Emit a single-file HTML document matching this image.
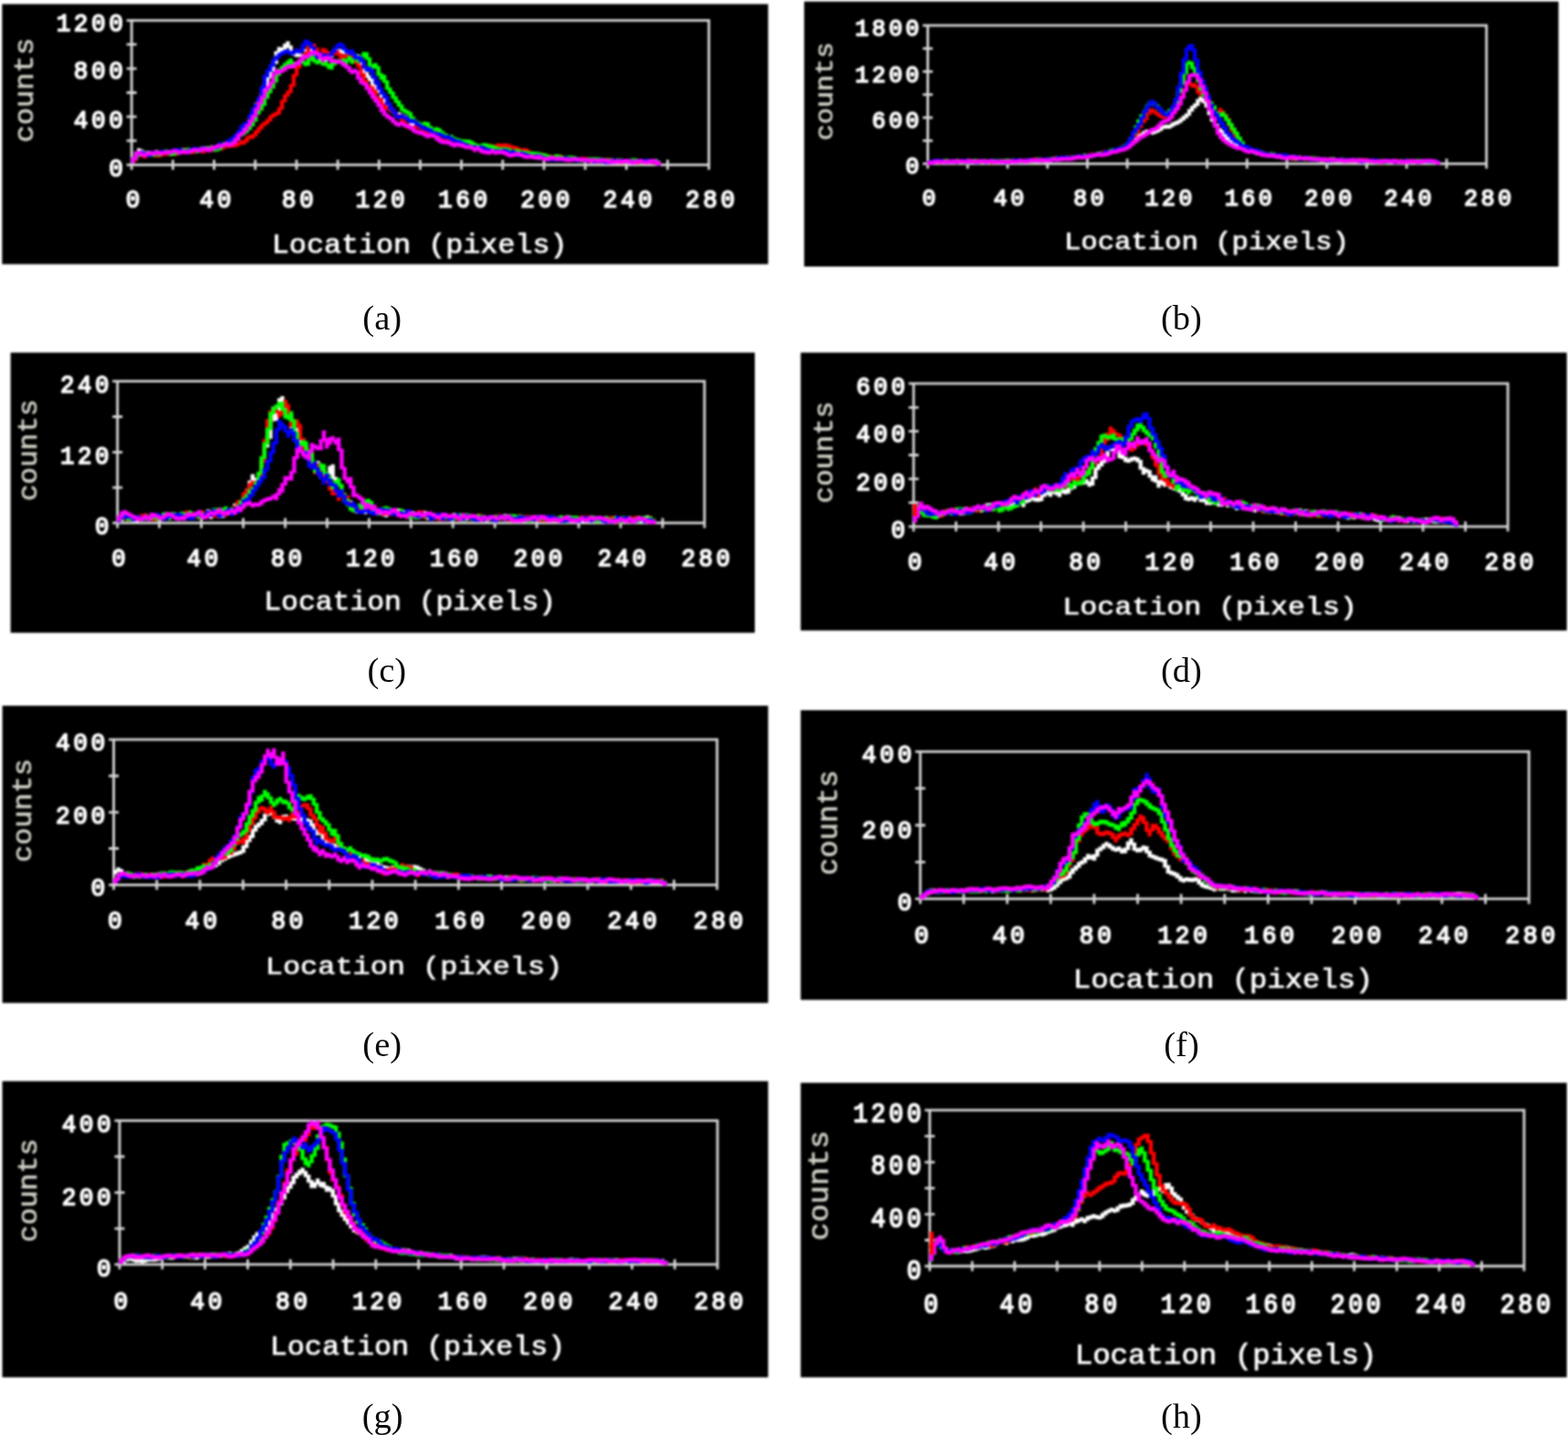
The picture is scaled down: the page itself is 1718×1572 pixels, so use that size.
<!DOCTYPE html>
<html lang="en">
<head>
<meta charset="utf-8">
<title>Intensity profiles (a)-(h)</title>
<style>
html,body{margin:0;padding:0;background:#fff;}
body{width:1718px;height:1572px;overflow:hidden;}
svg{display:block;}
.m{font-family:"Liberation Mono","DejaVu Sans Mono",monospace;fill:#fff;stroke:#fff;stroke-width:1.5;stroke-linejoin:round;}
.c{font-family:"Liberation Mono","DejaVu Sans Mono",monospace;fill:#cfcfc6;stroke:#cfcfc6;stroke-width:0.7;stroke-linejoin:round;}
.l{stroke-width:.8;}
.k{fill:none;stroke-linecap:butt;}
.ax{fill:none;stroke:#d6d6d6;stroke-width:2.8;}
.cap{font-family:"Liberation Serif","DejaVu Serif",serif;font-size:38.5px;fill:#0a0a0a;text-anchor:middle;}
</style>
</head>
<body>

<svg width="1718" height="1572" viewBox="0 0 1718 1572">
<defs><filter id="soft" x="-2%" y="-2%" width="104%" height="104%" color-interpolation-filters="sRGB"><feGaussianBlur stdDeviation="0.8"/></filter></defs>
<rect width="1718" height="1572" fill="#fff"/>
<g filter="url(#soft)">
<g id="panel-a">
<rect x="2.3" y="4.5" width="839.3" height="284.9" fill="#000"/>
<path class="ax" d="M144.2 22.3H776.7V180.6H144.2ZM144.2 175.1V186.1M189.4 175.1V186.1M234.6 175.1V186.1M279.7 175.1V186.1M324.9 175.1V186.1M370.1 175.1V186.1M415.3 175.1V186.1M460.4 175.1V186.1M505.6 175.1V186.1M550.8 175.1V186.1M596 175.1V186.1M641.2 175.1V186.1M686.3 175.1V186.1M731.5 175.1V186.1M776.7 175.1V186.1M138.7 180.6H149.7M138.7 154.2H149.7M138.7 127.8H149.7M138.7 101.5H149.7M138.7 75.1H149.7M138.7 48.7H149.7M138.7 22.3H149.7"/>
<path class="k" d="M145.8 172.7V178.2m3.2-12V175.4m3.2-13V168.8m3.2-5.1V168.6m3.2-3.2V169.9m3.2-4.4V170m3.2-4.2V170.2m3.2-5.2V169.4m3.2-5V168.9m3.2-3.4V169.9m3.2-4.9V169.5m3.2-4.4V169.6m3.2-5.1V169m3.2-4V169.5m3.2-4.2V169.8m3.2-4.7V169.6m3.2-5.5V168.6m3.2-6.1V166.9m3.2-5V166.4m3.2-3.8V167.1m3.2-4.4V167.2m3.2-5.5V166.1m3.2-3.5V167.1m3.2-5.6V166.1m3.2-6.2V164.4m3.2-3.9V165m3.2-4.6V164.9m3.2-5.4V163.9m3.2-4V164.3m3.2-5.7V163.9m3.2-7.9V161.3m3.2-3.7V162.2m3.2-6.4V160.3m3.2-5.2V159.6m3.2-5.4V158.7m3.2-7.3V157.2m3.2-10.9V154.1m3.2-13.7V149m3.2-12.2V143m3.2-8.4V140.6m3.2-12.3V137.3m3.2-16.5V131m3.2-18.2V123.4m3.2-15.7V115.5m3.2-14.2V110.4m3.2-17.8V104m3.2-20.9V95.3m3.2-19.6V85.8m3.2-18.5V78.4m3.2-22.4V70m3.2-18.6V58.7m3.2-6.9V56.2m3.2-8.5V54.6m3.2-9.4V52.5m3.2-2.7V58.4m3.2-2.7V61.1m3.2-3.1V62.4m3.2-5.8V62.4m3.2-2.7V65.5m3.2-11.8V62.5m3.2-11.9V56.4m3.2-5.4V57.5m3.2-2.7V61.1m3.2-4V63.9m3.2-2.7V68m3.2-6.7V66.6m3.2-3.7V69.3m3.2-10.2V65.5m3.2-8.1V63.1m3.2-9.2V60.1m3.2-7.4V57.2m3.2-3.7V57.9m3.2-2.9V59.4m3.2-2.7V61.8m3.2-2.7V63.8m3.2-4.2V64.1m3.2-5.6V62.9m3.2-3.1V66.1m3.2-2.7V72.6m3.2-2.7V80.2m3.2-2.7V85.3m3.2-2.7V89m3.2-2.7V95.6m3.2-2.7V99.9m3.2-2.7V101.7m3.2-2.7V108m3.2-2.6V114.7m3.2-2.7V119.2m3.2-2.7V121.9m3.2-2.6V124.6m3.2-2.7V127m3.2-4V127.4m3.2-2.8V129.1m3.2-3V130.6m3.2-3V132.8m3.2-2.6V137.2m3.2-2.7V140.2m3.2-4.7V140m3.2-4.1V140.4m3.2-3.1V142m3.2-3.1V143.4m3.2-4.2V144.5m3.2-2.7V148.6m3.2-2.9V150.2m3.2-5.6V149.3m3.2-2.7V151.3m3.2-2.9V152.8m3.2-2.9V154.4m3.2-5.7V153.7m3.2-2.6V156.1m3.2-6V154.9m3.2-2.7V156.9m3.2-4.2V157.1m3.2-2.9V158.7m3.2-2.7V160.8m3.2-2.8V162.4m3.2-5.1V161.8m3.2-4V162.2m3.2-2.8V164.1m3.2-3.5V165m3.2-5.6V163.8m3.2-3.8V164.5m3.2-3.6V165.3m3.2-5.5V164.2m3.2-3.4V165.3m3.2-4.1V165.7m3.2-4.7V165.5m3.2-3V167.3m3.2-2.8V169m3.2-3.3V170.1m3.2-5.1V169.4m3.2-5.2V168.7m3.2-3.9V169.2m3.2-2.7V170.9m3.2-4.3V171m3.2-4V171.4m3.2-4.5V171.3m3.2-3.4V172.3m3.2-3.3V173.5m3.2-3.3V174.7m3.2-4.9V174.2m3.2-5V173.6m3.2-4.3V173.8m3.2-3.9V174.3m3.2-3.9V174.9m3.2-4V175.4m3.2-4.4V175.4m3.2-3.7V176.2m3.2-4.9V175.7m3.2-4.8V175.4m3.2-3.1V176.8m3.2-5.4V175.8m3.2-3.5V176.8m3.2-4.8V176.4m3.2-3.9V177m3.2-3.9V177.6m3.2-4.5V177.5m3.2-3.5V178.5m3.2-4.3V178.6m3.2-5.4V177.7m3.2-5V177.1m3.2-3.7V177.8m3.2-4V178.3m3.2-4.7V178m3.2-4.6V177.8m3.2-3.7V178.5m3.2-3.7V179.2m3.2-4.1V179.6m3.2-4.8V179.2m3.2-4.7V179m3.2-5V178.4m3.2-4.6V178.3m3.2-4.2V178.5m3.2-3.3V179.7m3.2-5.2V179m3.2-5.1V178.3m3.2-4.4V178.4m3.2-4.1V178.8m3.2-4.9V178.4m3.2-3.8V179.3m3.2-2.7V181.2" stroke="#fff" stroke-width="4.3"/>
<path class="k" d="M145.8 173.7V179.1m3.2-10.2V176.4m3.2-9.6V171.6m3.2-4.1V172.2m3.2-2.9V173.8m3.2-6V172.3m3.2-5.5V171.3m3.2-4.6V171.1m3.2-3.1V172.4m3.2-4.2V172.6m3.2-5.5V171.5m3.2-5.6V170.4m3.2-3.8V171.1m3.2-4.4V171.2m3.2-4.8V170.8m3.2-4.8V170.4m3.2-6.2V168.7m3.2-5.6V167.5m3.2-4.9V167m3.2-4.1V167.4m3.2-3V168.8m3.2-4.8V168.4m3.2-5.7V167.1m3.2-4.1V167.5m3.2-3.8V168.2m3.2-5.7V166.9m3.2-5.3V166.1m3.2-4.1V166.5m3.2-4.9V166m3.2-6V164.5m3.2-3.9V165.1m3.2-6.1V163.6m3.2-5.8V162.2m3.2-4.7V162m3.2-5V161.4m3.2-4.4V161.5m3.2-5.9V160.3m3.2-6.3V158.5m3.2-5.2V158.6m3.2-9.1V156m3.2-8V152.5m3.2-5.8V151.9m3.2-9.2V149.4m3.2-10.3V145.4m3.2-9.8V141.7m3.2-8.4V138.2m3.2-8V135.9m3.2-9.7V132.9m3.2-8.8V128.9m3.2-6.4V127m3.2-9.5V125.4m3.2-16V120.2m3.2-16.9V112.1m3.2-12.9V106m3.2-13.8V101.9m3.2-21V94.9m3.2-22.4V83.6m3.2-16.3V75.1m3.2-13.1V70m3.2-13.5V64.7m3.2-14.3V59.2m3.2-11.5V53.1m3.2-5.3V54.8m3.2-2.7V61.1m3.2-4.6V63.2m3.2-10.7V59.2m3.2-5.4V58.8m3.2-2.6V60.7m3.2-3.3V61.9m3.2-6.1V60.4m3.2-5.3V60.6m3.2-2.7V64.4m3.2-3.6V65.5m3.2-6.6V63.5m3.2-4.3V63.7m3.2-3.1V66.6m3.2-2.7V69.7m3.2-2.7V73.7m3.2-2.6V82.9m3.2-2.7V90.5m3.2-2.7V96m3.2-2.7V99.1m3.2-4.6V100.9m3.2-2.7V108.6m3.2-2.7V112.5m3.2-5.2V115.4m3.2-2.7V120.7m3.2-5V120.1m3.2-2.8V122.4m3.2-2.6V124.9m3.2-2.7V127.7m3.2-2.6V131.2m3.2-2.7V134.5m3.2-2.7V137.9m3.2-2.7V140.8m3.2-3V142.2m3.2-4.5V142.2m3.2-5.9V140.7m3.2-4.3V141.7m3.2-2.6V145.5m3.2-3.1V146.8m3.2-4.7V147.4m3.2-2.7V150.6m3.2-4.3V151.1m3.2-6.8V149.1m3.2-2.7V151.9m3.2-2.7V154m3.2-2.8V155.6m3.2-3.9V156.1m3.2-3.1V157.4m3.2-3.6V158.3m3.2-3.7V159.1m3.2-3.3V160.2m3.2-5.4V159.2m3.2-3.9V159.8m3.2-2.9V161.3m3.2-4.3V161.5m3.2-3V163m3.2-4.4V163.1m3.2-4.9V162.7m3.2-4.7V162.5m3.2-4.2V162.8m3.2-5.3V162m3.2-3.3V163.1m3.2-4.9V162.6m3.2-5.7V161.4m3.2-3.7V162.2m3.2-5.2V161.4m3.2-4.1V161.7m3.2-3.4V162.8m3.2-3.2V164m3.2-3.9V164.6m3.2-3.3V165.8m3.2-2.9V167.4m3.2-5.4V166.4m3.2-3.5V168m3.2-2.7V170.1m3.2-3.4V171.1m3.2-4.2V171.4m3.2-3.8V172m3.2-4.7V171.7m3.2-3.7V172.4m3.2-3.4V173.5m3.2-3.7V174.3m3.2-4V174.8m3.2-5.2V174m3.2-4.8V173.6m3.2-3.4V174.6m3.2-3.4V175.6m3.2-4V176.1m3.2-4.2V176.4m3.2-4.1V176.7m3.2-4.6V176.6m3.2-4.3V176.8m3.2-5.3V175.9m3.2-3.8V176.6m3.2-4.4V176.6m3.2-3.2V177.9m3.2-3.6V178.8m3.2-5.2V178.1m3.2-5V177.6m3.2-4V178.1m3.2-4.3V178.3m3.2-4.7V178m3.2-4.2V178.3m3.2-4.9V177.9m3.2-4.3V178.1m3.2-3.2V179.4m3.2-4.5V179.3m3.2-5.4V178.3m3.2-4.4V178.4m3.2-3.8V179.1m3.2-3.7V179.8m3.2-4.2V180m3.2-5.2V179.3m3.2-5.3V178.5m3.2-3.2V179.8m3.2-5.5V178.8m3.2-3.4V179.9m3.2-3.8V180.6m3.2-3.5V181.6" stroke="#f00" stroke-width="4.3"/>
<path class="k" d="M145.8 172.6V178.8m3.2-10.1V175.3m3.2-8V171.7m3.2-5.3V170.9m3.2-4.4V171m3.2-4.3V171.2m3.2-3.8V171.9m3.2-4.5V171.8m3.2-5.7V170.6m3.2-3.7V171.3m3.2-6.6V169.6m3.2-5.9V168.1m3.2-3V169.6m3.2-3.2V170.9m3.2-4.8V170.5m3.2-5.4V169.6m3.2-6.2V167.9m3.2-5.2V167.2m3.2-3.9V167.7m3.2-5.9V166.3m3.2-3.1V167.8m3.2-6.5V165.9m3.2-2.7V167.8m3.2-5.8V166.5m3.2-5.8V165.1m3.2-4.6V164.9m3.2-3.7V165.6m3.2-5.2V164.9m3.2-3.1V166.3m3.2-5V165.7m3.2-7.6V164.1m3.2-8.3V160.8m3.2-5.3V159.9m3.2-5.2V159.2m3.2-6.9V157.6m3.2-8.5V155m3.2-8.2V151.8m3.2-6.7V149.6m3.2-6.5V147.9m3.2-8.1V145.8m3.2-9.8V142.5m3.2-12V138.6m3.2-15.7V133.2m3.2-14.7V125.5m3.2-12.1V121.2m3.2-15.7V116.1m3.2-16.5V108.2m3.2-13.9V102.3m3.2-14.4V97m3.2-16.6V90.6m3.2-15.3V83.1m3.2-11.1V78m3.2-8.9V74.7m3.2-8.4V71.8m3.2-7.8V70.4m3.2-2.7V74.1m3.2-7.1V71.9m3.2-5.7V70.8m3.2-6.5V69.7m3.2-2.7V72.4m3.2-8.3V72.1m3.2-13.1V66.8m3.2-5.4V68.5m3.2-2.7V70.4m3.2-5V70m3.2-2.6V72m3.2-4.9V72.5m3.2-2.7V75.6m3.2-6.5V76.2m3.2-11.4V71.8m3.2-6.9V69.4m3.2-4.2V69.7m3.2-5.7V68.7m3.2-4.1V70.7m3.2-9.5V67.3m3.2-3.7V69.9m3.2-9.8V66.3m3.2-3.3V68.7m3.2-8.1V67.8m3.2-10.9V63.3m3.2-6.1V65.4m3.2-2.7V73m3.2-2.7V75.3m3.2-6.3V75m3.2-2.7V83m3.2-2.7V87.6m3.2-5.5V90.7m3.2-2.7V98.5m3.2-2.7V102.9m3.2-2.7V108.2m3.2-2.7V112.8m3.2-2.7V117.1m3.2-2.7V121.7m3.2-2.7V123.8m3.2-3.1V125.5m3.2-2.7V130.4m3.2-2.7V134.3m3.2-2.7V136.3m3.2-2.8V138m3.2-3.7V138.7m3.2-5.4V137.7m3.2-3.8V140.6m3.2-2.7V144.3m3.2-4.1V144.6m3.2-5.4V143.7m3.2-2.9V146.2m3.2-2.7V148.6m3.2-2.7V150.9m3.2-3.1V152.2m3.2-4.5V152.8m3.2-2.7V155.3m3.2-4V155.8m3.2-3.6V156.7m3.2-4V157.2m3.2-4.4V157.3m3.2-4.2V157.6m3.2-3.3V158.9m3.2-2.7V160.9m3.2-3.1V162.2m3.2-4.2V162.4m3.2-5.6V161.2m3.2-4.2V161.5m3.2-3.3V162.7m3.2-4.3V162.8m3.2-2.9V164.4m3.2-3.4V165.5m3.2-3.7V166.3m3.2-5V165.8m3.2-4.3V166m3.2-3.5V167m3.2-2.9V168.6m3.2-5.4V167.7m3.2-3.9V168.3m3.2-3.5V169.3m3.2-4.2V169.6m3.2-3.8V170.3m3.2-4.4V170.4m3.2-4.1V170.7m3.2-4.4V170.8m3.2-4V171.3m3.2-3.5V172.3m3.2-4.2V172.6m3.2-3V174.1m3.2-3.9V174.6m3.2-4.4V174.7m3.2-5.6V173.6m3.2-3.8V174.3m3.2-3.7V175.1m3.2-3.8V175.8m3.2-5V175.3m3.2-4.7V175.1m3.2-4.1V175.4m3.2-3.5V176.4m3.2-3.2V177.6m3.2-3.9V178.1m3.2-5.1V177.4m3.2-4.9V176.9m3.2-4.6V176.8m3.2-4.5V176.7m3.2-4.1V177.1m3.2-4.1V177.4m3.2-4.3V177.6m3.2-4.2V177.8m3.2-3.5V178.8m3.2-4.9V178.4m3.2-4.1V178.8m3.2-5.2V178.1m3.2-4.6V177.9m3.2-3.9V178.4m3.2-3.9V178.9m3.2-4.5V178.9m3.2-5.2V178.1m3.2-4.6V178m3.2-3.9V178.5m3.2-3.4V179.5m3.2-3.8V180.1m3.2-5.3V179.3m3.2-5.4V178.4m3.2-4.2V178.6m3.2-3.2V179.9m3.2-2.9V181.4" stroke="#0f0" stroke-width="4.3"/>
<path class="k" d="M145.8 171.9V178.5m3.2-11.3V174.6m3.2-9V170.1m3.2-5.2V169.3m3.2-3V170.8m3.2-3.1V172.2m3.2-5.5V171.5m3.2-6.8V169.4m3.2-4.2V169.7m3.2-4.4V169.7m3.2-5.7V168.5m3.2-4.1V168.8m3.2-3.7V169.6m3.2-5.5V168.5m3.2-5.9V167.1m3.2-5.2V166.3m3.2-3.8V167m3.2-3.6V167.9m3.2-4V168.4m3.2-5.2V167.7m3.2-5.9V166.2m3.2-5.5V165.2m3.2-3.9V165.8m3.2-3.8V166.6m3.2-6.4V164.7m3.2-3.1V166.1m3.2-4.2V166.4m3.2-6V164.9m3.2-5.2V164.2m3.2-6.2V163.4m3.2-8V160.7m3.2-3.9V161.3m3.2-7.6V159.5m3.2-7.8V156.3m3.2-6.5V154.4m3.2-8V152.5m3.2-10.1V149.1m3.2-11.6V145.1m3.2-10.5V140.2m3.2-7.7V137.9m3.2-13.4V135.2m3.2-17.4V127.2m3.2-14V120.5m3.2-14.6V115.9m3.2-21.4V108.6m3.2-26.6V97.2m3.2-21.2V84.7m3.2-14.2V78.7m3.2-14.8V73.2m3.2-12.4V66.6m3.2-8.7V63.5m3.2-7.3V60.6m3.2-5.9V59.2m3.2-5.1V58.7m3.2-2.7V60.6m3.2-5.7V60.1m3.2-7.2V57.6m3.2-3.3V58.7m3.2-10.6V57.2m3.2-13.9V50.8m3.2-6.6V49.2m3.2-2.6V53.6m3.2-2.7V60.4m3.2-2.7V64.2m3.2-7.3V61.9m3.2-3.2V63.1m3.2-4.7V62.8m3.2-3.4V63.9m3.2-8.4V62.1m3.2-10.5V58.1m3.2-10V54.3m3.2-8V50.9m3.2-2.7V55.2m3.2-2.7V58.6m3.2-3.3V59.7m3.2-5.6V61m3.2-2.7V65.1m3.2-4.2V65.4m3.2-3.7V68.4m3.2-2.7V75.6m3.2-2.7V78.7m3.2-6V78.7m3.2-2.6V85.8m3.2-2.6V91.8m3.2-2.7V98.5m3.2-2.7V103.7m3.2-2.7V107.9m3.2-2.7V115.3m3.2-2.7V120.5m3.2-2.7V124.4m3.2-2.7V128.9m3.2-2.7V130.8m3.2-5.7V129.5m3.2-3.1V130.8m3.2-2.8V133m3.2-2.7V135m3.2-4.6V135m3.2-2.7V137.4m3.2-2.7V139.5m3.2-2.7V141.8m3.2-3V143.3m3.2-3.5V144.3m3.2-3.2V146.1m3.2-2.7V148.7m3.2-3.6V149.5m3.2-4.6V149.3m3.2-2.8V151.4m3.2-3.3V152.6m3.2-4.6V152.5m3.2-2.7V154.4m3.2-2.8V156.1m3.2-3V157.6m3.2-4V158m3.2-2.8V159.8m3.2-3.1V161.2m3.2-3.3V162.4m3.2-3.2V163.7m3.2-4.8V163.3m3.2-2.8V165m3.2-5.7V163.7m3.2-3.8V164.6m3.2-2.8V166.2m3.2-3.6V167.1m3.2-3.6V167.9m3.2-4.2V168.2m3.2-4.7V167.9m3.2-4V168.3m3.2-5.3V167.5m3.2-3.9V168.3m3.2-2.7V170.1m3.2-5.9V168.7m3.2-3V170.7m3.2-3.2V172m3.2-5.9V170.6m3.2-3.5V171.6m3.2-3.6V172.4m3.2-3.7V173.2m3.2-3.5V174.2m3.2-5.1V173.5m3.2-4.8V173.2m3.2-3.1V174.5m3.2-3.2V175.7m3.2-3.6V176.5m3.2-4V177m3.2-4.8V176.7m3.2-5V176.1m3.2-3.5V177m3.2-4.5V176.9m3.2-5.7V175.7m3.2-3.4V176.8m3.2-4.7V176.5m3.2-4V176.9m3.2-3.2V178.1m3.2-5.5V177m3.2-4.6V176.9m3.2-3.4V178m3.2-4.5V177.9m3.2-4.5V177.8m3.2-3.3V179m3.2-4.9V178.6m3.2-5V178.1m3.2-3.4V179.1m3.2-3.9V179.7m3.2-4.5V179.7m3.2-5.2V178.9m3.2-5.5V177.8m3.2-3.7V178.6m3.2-4.5V178.6m3.2-4.7V178.3m3.2-4.2V178.5m3.2-4V179m3.2-3.9V179.5m3.2-4.4V179.5m3.2-5.1V178.9m3.2-4.3V179.1m3.2-5V178.5m3.2-4.3V178.7m3.2-4.5V178.7m3.2-4.4V178.8m3.2-3.2V180.2m3.2-3.1V181.6" stroke="#00f" stroke-width="4.3"/>
<path class="k" d="M145.8 172V178.7m3.2-12.2V174.7m3.2-9.8V169.5m3.2-2.7V171.5m3.2-3.8V172.1m3.2-5.6V171m3.2-5.4V170m3.2-4.1V170.4m3.2-5.3V169.5m3.2-4V170m3.2-4.3V170.1m3.2-5.2V169.3m3.2-4.6V169.2m3.2-4.6V169.1m3.2-5.9V167.6m3.2-3.9V168.2m3.2-3.2V169.4m3.2-5.5V168.4m3.2-3.9V168.9m3.2-4.7V168.7m3.2-5.6V167.5m3.2-5.6V166.4m3.2-4.1V166.7m3.2-4.3V166.8m3.2-5.6V165.7m3.2-4.7V165.5m3.2-3.3V166.8m3.2-6.5V164.9m3.2-5.5V163.9m3.2-5.8V162.5m3.2-4.8V162.1m3.2-5.2V161.3m3.2-6V159.8m3.2-3.2V161.1m3.2-5.8V159.8m3.2-8.8V158.1m3.2-11.5V153.7m3.2-9.4V149.3m3.2-8.5V147m3.2-11V143.5m3.2-12.7V138.7m3.2-12.9V133.5m3.2-15.2V128.5m3.2-17.2V121m3.2-15.7V114m3.2-16V108m3.2-13.9V100.7m3.2-11.8V96.8m3.2-17.1V91.6m3.2-16.1V82.4m3.2-5.8V81m3.2-5.5V80m3.2-7V78.3m3.2-7.4V75.7m3.2-5.3V74.9m3.2-5.2V75.1m3.2-8V72.4m3.2-7.8V71.3m3.2-10.6V67.3m3.2-7.3V64.4m3.2-5.9V63.7m3.2-8V61.1m3.2-5.9V59.6m3.2-3V61.1m3.2-2.8V64.9m3.2-2.7V68.3m3.2-7.3V66m3.2-4.8V66.8m3.2-2.7V69.3m3.2-4.6V69.1m3.2-3.6V70m3.2-4.3V70.2m3.2-2.7V73m3.2-2.7V75m3.2-2.7V78.7m3.2-2.6V81.3m3.2-6.1V80.2m3.2-2.7V87.3m3.2-2.7V92.1m3.2-2.7V93.8m3.2-2.7V98.6m3.2-2.7V103.5m3.2-2.7V108.2m3.2-2.7V112.4m3.2-2.6V117.2m3.2-2.7V122.9m3.2-2.7V127.1m3.2-2.7V129.8m3.2-2.7V131.8m3.2-2.7V135.1m3.2-2.7V137.8m3.2-3.6V138.7m3.2-5.6V137.6m3.2-2.7V139.4m3.2-3.4V140.5m3.2-3.2V142m3.2-2.7V144.9m3.2-2.8V146.6m3.2-3.5V147.6m3.2-3.8V148.3m3.2-3.1V149.9m3.2-3V151.4m3.2-5.9V149.9m3.2-3.4V151.2m3.2-2.7V154.3m3.2-2.7V156.6m3.2-3.3V157.7m3.2-4V158.1m3.2-4.1V158.4m3.2-3V160.2m3.2-3.1V161.6m3.2-5.7V160.4m3.2-3.9V161m3.2-3.4V162.1m3.2-3.2V163.3m3.2-4.5V163.3m3.2-3.9V164.3m3.2-2.7V166.5m3.2-6.4V165m3.2-2.7V167.4m3.2-3.4V168.4m3.2-3.9V169m3.2-4V169.4m3.2-5.8V168.1m3.2-3.1V169.5m3.2-5.1V168.9m3.2-4.4V169m3.2-3.9V169.5m3.2-3.2V170.9m3.2-2.9V172.4m3.2-4.9V172m3.2-4.9V171.6m3.2-5V171.1m3.2-3.4V172.2m3.2-3V173.6m3.2-3.8V174.2m3.2-4.9V173.8m3.2-4V174.2m3.2-3.7V175m3.2-5.5V174m3.2-3.1V175.3m3.2-3.3V176.5m3.2-4.5V176.4m3.2-5.4V175.5m3.2-4.4V175.5m3.2-3.5V176.5m3.2-4.9V176.1m3.2-4.2V176.3m3.2-3.7V177.1m3.2-4.1V177.4m3.2-4.7V177.2m3.2-5.1V176.5m3.2-4.1V176.9m3.2-4.1V177.2m3.2-4.3V177.4m3.2-4.5V177.4m3.2-3.8V178.1m3.2-4V178.6m3.2-5.4V177.6m3.2-3.5V178.5m3.2-4.5V178.5m3.2-5.2V177.8m3.2-3.8V178.5m3.2-3.9V179m3.2-3.6V179.8m3.2-4.9V179.4m3.2-5V178.9m3.2-4V179.3m3.2-4.7V179.1m3.2-5.1V178.4m3.2-3.6V179.2m3.2-3.4V180.2m3.2-4.9V179.8m3.2-5.3V179m3.2-4.6V178.9m3.2-3.5V179.8m3.2-4.1V180.1m3.2-5.3V179.2m3.2-5.1V178.6m3.2-3.2V180m3.2-3V181.5" stroke="#f0f" stroke-width="4.3"/>
<text class="m" transform="translate(138.5 34.1) scale(1 1.074)" font-size="26.2" letter-spacing="3.5" text-anchor="end">1200</text>
<text class="m" transform="translate(138.5 85.8) scale(1 1.074)" font-size="26.2" letter-spacing="3.5" text-anchor="end">800</text>
<text class="m" transform="translate(138.5 139.5) scale(1 1.074)" font-size="26.2" letter-spacing="3.5" text-anchor="end">400</text>
<text class="m" transform="translate(138.5 192.9) scale(1 1.074)" font-size="26.2" letter-spacing="3.5" text-anchor="end">0</text>
<text class="m" transform="translate(147.3 227.4) scale(1 1.074)" font-size="26.2" letter-spacing="3.5" text-anchor="middle">0</text>
<text class="m" transform="translate(237.7 227.4) scale(1 1.074)" font-size="26.2" letter-spacing="3.5" text-anchor="middle">40</text>
<text class="m" transform="translate(328 227.4) scale(1 1.074)" font-size="26.2" letter-spacing="3.5" text-anchor="middle">80</text>
<text class="m" transform="translate(418.4 227.4) scale(1 1.074)" font-size="26.2" letter-spacing="3.5" text-anchor="middle">120</text>
<text class="m" transform="translate(508.8 227.4) scale(1 1.074)" font-size="26.2" letter-spacing="3.5" text-anchor="middle">160</text>
<text class="m" transform="translate(599.1 227.4) scale(1 1.074)" font-size="26.2" letter-spacing="3.5" text-anchor="middle">200</text>
<text class="m" transform="translate(689.5 227.4) scale(1 1.074)" font-size="26.2" letter-spacing="3.5" text-anchor="middle">240</text>
<text class="m" transform="translate(779.8 227.4) scale(1 1.074)" font-size="26.2" letter-spacing="3.5" text-anchor="middle">280</text>
<text class="m l" transform="translate(297.8 276.5) scale(1 0.907)" font-size="32" text-anchor="start" textLength="323.8" lengthAdjust="spacingAndGlyphs">Location (pixels)</text>
<text class="c" transform="translate(35.9 98.8) rotate(-90) scale(1 .95)" font-size="31.9" text-anchor="middle" textLength="114.9" lengthAdjust="spacingAndGlyphs">counts</text>
</g>
<g id="panel-b">
<rect x="881.1" y="1.7" width="826.5" height="290.3" fill="#000"/>
<path class="ax" d="M1016.5 27.9H1628.7V179.3H1016.5ZM1016.5 173.8V184.8M1060.2 173.8V184.8M1104 173.8V184.8M1147.7 173.8V184.8M1191.4 173.8V184.8M1235.1 173.8V184.8M1278.9 173.8V184.8M1322.6 173.8V184.8M1366.3 173.8V184.8M1410.1 173.8V184.8M1453.8 173.8V184.8M1497.5 173.8V184.8M1541.2 173.8V184.8M1585 173.8V184.8M1628.7 173.8V184.8M1011 179.3H1022M1011 154.1H1022M1011 128.8H1022M1011 103.6H1022M1011 78.4H1022M1011 53.1H1022M1011 27.9H1022"/>
<path class="k" d="M1018 176.2V180.6m3.1-5.1V179.9m3.1-5.2V179.1m3.1-5.1V178.4m3.1-4.4V178.4m3.1-3.9V178.8m3.1-4.6V178.6m3.1-4.4V178.5m3.1-4V178.9m3.1-3.8V179.4m3.1-4.8V179m3.1-4V179.3m3.1-4.4V179.3m3.1-5.2V178.5m3.1-4.4V178.5m3.1-4V178.9m3.1-4.2V179m3.1-4.5V178.8m3.1-4.2V178.9m3.1-4V179.3m3.1-4.5V179.1m3.1-3.9V179.6m3.1-5V179m3.1-5V178.4m3.1-4.3V178.5m3.1-3.6V179.2m3.1-5V178.5m3.1-4.6V178.3m3.1-4.3V178.3m3.1-4.4V178.2m3.1-4.4V178.2m3.1-3.8V178.7m3.1-5V178.1m3.1-4.2V178.2m3.1-4.2V178.4m3.1-4.9V177.9m3.1-4.3V177.9m3-4.6V177.7m3.1-5V177.1m3.1-4.4V177.1m3.1-4V177.4m3.1-3.7V178m3.1-4.6V177.8m3.1-5.2V177m3.1-5.1V176.3m3.1-4.9V175.7m3.1-4.8V175.2m3.1-4V175.5m3.1-4.2V175.7m3.1-5.1V174.9m3.1-5V174.3m3.1-3.9V174.7m3.1-4.6V174.4m3.1-4.5V174.2m3.1-4.6V174m3.1-4.9V173.4m3.1-4.2V173.5m3.1-4.8V173m3.1-5V172.3m3.1-4.9V171.7m3.1-5.7V170.3m3.1-4.1V170.5m3.1-4.8V170m3.1-5.1V169.3m3.1-4.4V169.2m3.1-5.6V168m3.1-5.2V167.2m3.1-4.7V166.8m3.1-5.4V165.8m3.1-6V164.1m3.1-6.4V162.4m3.1-7V160.3m3.1-6.7V158m3.1-7.5V156.3m3-8.8V153.1m3.1-7.3V150.1m3.1-6.5V148.4m3.1-6.3V146.4m3.1-3.7V147m3.1-3.8V147.5m3.1-5.4V146.4m3.1-5.6V145.3m3.1-7V143.4m3.1-6.4V141.3m3.1-4.7V141m3.1-4.5V140.9m3.1-6.4V139.2m3.1-6.1V137.4m3.1-5.6V136.2m3.1-6.7V134.6m3.1-7.8V132.1m3.1-7.9V129.4m3.1-9.8V126.8m3.1-10.9V122.2m3.1-8.9V118.5m3.1-9.9V115.9m3.1-10V111.2m3.1-3.7V113.1m3.1-2.6V117.7m3.1-2.6V126m3.1-2.6V133.3m3.1-2.6V138.3m3.1-2.6V143.2m3.1-2.6V145.6m3.1-2.6V149.2m3.1-2.7V152.9m3.1-2.6V155.3m3.1-2.6V157.7m3.1-2.6V159.5m3.1-2.7V161.2m3.1-3V162.6m3-3V164.2m3.1-2.6V166m3.1-3.2V167.2m3.1-4V167.5m3.1-3.4V168.5m3.1-3.2V169.7m3.1-4.1V169.9m3.1-2.7V171.5m3.1-4.2V171.6m3.1-3.7V172.2m3.1-4.3V172.3m3.1-3.7V172.9m3.1-3.3V173.9m3.1-4.9V173.4m3.1-3.2V174.6m3.1-5.1V173.9m3.1-4.2V174.1m3.1-3.3V175.2m3.1-3.6V176m3.1-4.3V176m3.1-4.4V175.9m3.1-4.4V175.8m3.1-4.8V175.4m3.1-4.1V175.6m3.1-4.2V175.8m3.1-3.5V176.7m3.1-4.2V176.9m3.1-3.9V177.3m3.1-3.9V177.8m3.1-4.2V178m3.1-4.5V177.8m3.1-4.7V177.4m3.1-4.9V176.9m3.1-3.8V177.5m3.1-3.8V178.1m3.1-5.3V177.2m3.1-3.9V177.7m3-3.8V178.3m3.1-4.9V177.8m3.1-4.5V177.6m3.1-4.2V177.7m3.1-4.2V177.9m3.1-4.1V178.2m3.1-3.9V178.6m3.1-4.1V178.9m3.1-4.4V178.8m3.1-4.6V178.6m3.1-4.6V178.3m3.1-3.8V178.8m3.1-3.9V179.3m3.1-4.7V179m3.1-3.9V179.5m3.1-5.1V178.8m3.1-4.8V178.4m3.1-3.9V178.8m3.1-3.8V179.3m3.1-4.4V179.3m3.1-4V179.6m3.1-4.7V179.3m3.1-4.8V178.8m3.1-3.9V179.3m3.1-4.7V178.9m3.1-4.6V178.7m3.1-4.1V179m3.1-4.6V178.7m3.1-3.7V179.4m3.1-5.1V178.6m3.1-3.6V179.4m3.1-4.5V179.3m3.1-3.2V180.4" stroke="#fff" stroke-width="4.2"/>
<path class="k" d="M1018 176.2V180.6m3.1-5.4V179.6m3.1-5.4V178.5m3.1-3.9V179m3.1-4V179.4m3.1-5.2V178.6m3.1-4.4V178.6m3.1-4.6V178.3m3.1-4.2V178.5m3.1-3.6V179.2m3.1-4.1V179.4m3.1-4.6V179.1m3.1-4.4V179m3.1-4.7V178.6m3.1-4.4V178.5m3.1-4.1V178.8m3.1-4.2V179m3.1-4.8V178.5m3.1-3.7V179.2m3.1-5.1V178.4m3.1-3.7V179m3.1-4.1V179.2m3.1-4.2V179.4m3.1-4.6V179.2m3.1-5V178.5m3.1-4.6V178.2m3.1-4V178.5m3.1-4.3V178.6m3.1-4.6V178.4m3.1-4.2V178.6m3.1-4.4V178.6m3.1-4.7V178.3m3.1-3.9V178.7m3.1-4.5V178.5m3.1-4.9V178m3.1-3.8V178.6m3.1-4.8V178.1m3-4.9V177.5m3.1-4.7V177.2m3.1-3.8V177.7m3.1-3.9V178.2m3.1-5V177.6m3.1-5.1V176.9m3.1-4.8V176.4m3.1-4.6V176.1m3.1-4.3V176.2m3.1-4.4V176.1m3.1-5.3V175.2m3.1-4V175.5m3.1-4.6V175.3m3.1-5.2V174.5m3.1-4.5V174.4m3.1-4.2V174.6m3.1-4.8V174.2m3.1-4.8V173.7m3.1-5.1V172.9m3.1-5V172.2m3.1-4.9V171.6m3.1-4.4V171.5m3.1-4.6V171.2m3.1-5V170.6m3.1-5.2V169.8m3.1-5.3V168.8m3.1-4.2V168.9m3.1-5V168.2m3.1-4.2V168.3m3.1-5V167.7m3.1-5.8V166.4m3.1-6.6V164.5m3.1-5.9V163m3.1-6.2V161.7m3.1-9.4V159.4m3.1-11.2V154.9m3.1-10.6V150.9m3-13.3V146.9m3.1-14.4V140.2m3.1-11V135.1m3.1-12.3V131.8m3.1-12.9V125.4m3.1-6.7V123.4m3.1-2.6V125.6m3.1-2.6V127.7m3.1-2.6V129.6m3.1-4V129.9m3.1-5.1V129.2m3.1-5.7V128m3.1-7V126.1m3.1-9.4V123.6m3.1-12.9V119.3m3.1-15.1V113.3m3.1-16.4V106.9m3.1-15.9V99.5m3.1-11.3V93.6m3.1-2.9V95.8m3.1-4.8V96.4m3.1-2.6V102.4m3.1-2.6V105.5m3.1-8.7V102.4m3.1-5.2V106.4m3.1-2.6V115.3m3.1-2.6V120.4m3.1-2.6V125m3.1-3.6V127.1m3.1-8.8V124m3.1-2.9V127.3m3.1-2.6V131.9m3.1-2.6V138.7m3.1-2.6V144.6m3.1-2.6V150.4m3.1-2.6V155.7m3.1-2.6V158.8m3-2.6V162m3.1-2.6V165.3m3.1-3.1V166.6m3.1-4.5V166.4m3.1-2.8V167.9m3.1-3.5V168.8m3.1-4.6V168.5m3.1-3.1V169.7m3.1-3.3V170.8m3.1-3.8V171.3m3.1-3.8V171.9m3.1-3.6V172.7m3.1-3.7V173.3m3.1-4.2V173.4m3.1-4.9V172.9m3.1-4.2V173m3.1-3.3V174m3.1-3.1V175.3m3.1-4V175.6m3.1-4.8V175.1m3.1-3.6V175.8m3.1-4.1V176m3.1-4.6V175.7m3.1-3.6V176.5m3.1-4.4V176.5m3.1-5V175.8m3.1-3.6V176.6m3.1-4.7V176.2m3.1-3.3V177.3m3.1-3.7V177.9m3.1-4.5V177.7m3.1-4V178m3.1-4.6V177.7m3.1-4V178.1m3.1-4.8V177.6m3.1-4.4V177.5m3.1-4.1V177.7m3-4.1V178m3.1-4V178.3m3.1-4.4V178.3m3.1-4.8V177.8m3.1-3.9V178.3m3.1-5V177.7m3.1-4.2V177.9m3.1-4.3V178m3.1-3.9V178.4m3.1-4.1V178.6m3.1-4.2V178.7m3.1-4V179.1m3.1-4V179.5m3.1-4.4V179.5m3.1-4.9V178.9m3.1-4.6V178.7m3.1-3.7V179.3m3.1-4V179.7m3.1-4.6V179.5m3.1-5V178.9m3.1-3.8V179.4m3.1-5.1V178.6m3.1-4.4V178.5m3.1-3.9V179m3.1-4.1V179.3m3.1-5V178.7m3.1-3.8V179.3m3.1-4.8V178.9m3.1-4.8V178.4m3.1-3.6V179.1m3.1-5V178.4m3.1-3.7V179.1m3.1-3.1V180.4" stroke="#f00" stroke-width="4.2"/>
<path class="k" d="M1018 176.4V180.7m3.1-5.1V179.9m3.1-5.4V178.9m3.1-4.6V178.7m3.1-4.3V178.7m3.1-4.7V178.4m3.1-4.3V178.5m3.1-3.6V179.2m3.1-4.5V179.1m3.1-4V179.5m3.1-4.6V179.3m3.1-4.6V179.1m3.1-4V179.5m3.1-4.3V179.6m3.1-4.8V179.2m3.1-4.9V178.7m3.1-4.6V178.4m3.1-3.7V179.1m3.1-4V179.4m3.1-4.6V179.1m3.1-4.5V178.9m3.1-4V179.2m3.1-4.8V178.8m3.1-4.5V178.6m3.1-4.3V178.7m3.1-4.5V178.6m3.1-4.2V178.7m3.1-4.7V178.3m3.1-4.2V178.5m3.1-4V178.8m3.1-4.7V178.5m3.1-4.3V178.5m3.1-4.1V178.8m3.1-4.3V178.8m3.1-4.5V178.7m3.1-4.6V178.4m3.1-4.2V178.5m3-4.6V178.2m3.1-4.7V177.8m3.1-4.3V177.9m3.1-4.4V177.9m3.1-4.5V177.8m3.1-5.2V176.9m3.1-4.9V176.4m3.1-4.4V176.4m3.1-3.9V176.9m3.1-5.1V176.1m3.1-4.2V176.2m3.1-4.5V176.1m3.1-4.5V176m3.1-5V175.4m3.1-5.3V174.5m3.1-4.2V174.7m3.1-5V174.1m3.1-5.2V173.2m3.1-4.9V172.6m3.1-3.4V173.5m3.1-4.3V173.5m3.1-5.2V172.7m3.1-5.7V171.4m3.1-5.3V170.5m3.1-4.2V170.6m3.1-4.3V170.6m3.1-5.4V169.5m3.1-5.9V167.9m3.1-5.3V166.9m3.1-4.8V166.5m3.1-4.6V166.3m3.1-6.3V164.9m3.1-6.4V162.8m3.1-7.1V161.2m3.1-11.1V158.3m3.1-14V152.7m3.1-15.3V146.9m3-16.1V140m3.1-14.8V133.4m3.1-13V127.8m3.1-13.4V123m3.1-12.3V117m3.1-6.6V114.7m3.1-3.2V117.1m3.1-2.6V120.4m3.1-2.6V123.5m3.1-2.6V126.8m3.1-4.4V127.5m3.1-8.1V125m3.1-6.8V122.6m3.1-10.2V121.6m3.1-22.2V115m3.1-24.9V102m3.1-23.1V92.7m3.1-24.2V81.5m3.1-15V71.1m3.1-3.5V75.8m3.1-2.6V82.4m3.1-2.6V89.9m3.1-2.6V99.2m3.1-2.6V105.5m3.1-2.6V110.2m3.1-2.6V114m3.1-2.6V118.2m3.1-2.6V124.7m3.1-2.6V128.5m3.1-4.7V128.1m3.1-5.6V128.1m3.1-2.6V132.5m3.1-2.6V137.3m3.1-2.6V142.3m3.1-2.6V146.8m3.1-2.6V152.3m3.1-2.6V157.4m3-2.6V162.1m3.1-2.6V164.8m3.1-2.9V166.2m3.1-3.4V167.2m3.1-3.6V167.9m3.1-3.9V168.4m3.1-4.2V168.6m3.1-3.2V169.7m3.1-3V171.1m3.1-3.8V171.7m3.1-5.1V170.9m3.1-3.7V171.6m3.1-3.1V172.8m3.1-3.4V173.7m3.1-4V174.1m3.1-5V173.4m3.1-3.5V174.2m3.1-4.3V174.2m3.1-4.4V174.2m3.1-4.1V174.4m3.1-3.9V174.8m3.1-3.8V175.3m3.1-3.4V176.2m3.1-5V175.6m3.1-3.4V176.6m3.1-5.1V175.9m3.1-4.3V176m3.1-4.1V176.3m3.1-4.4V176.3m3.1-3.7V176.9m3.1-4V177.2m3.1-4.9V176.7m3.1-4V177.1m3.1-3.7V177.8m3.1-4.4V177.8m3.1-4.3V177.9m3.1-3.9V178.4m3-4.9V177.8m3.1-4.1V178.1m3.1-4.7V177.7m3.1-4.2V177.9m3.1-3.8V178.5m3.1-4.6V178.3m3.1-4.6V178m3.1-4V178.4m3.1-3.8V179m3.1-4.2V179.1m3.1-4.1V179.4m3.1-4.5V179.3m3.1-4.7V178.9m3.1-4.6V178.7m3.1-3.6V179.5m3.1-4.8V179m3.1-4.7V178.7m3.1-4.4V178.6m3.1-3.6V179.3m3.1-4.9V178.8m3.1-3.9V179.2m3.1-4.4V179.2m3.1-4.4V179.1m3.1-4.7V178.8m3.1-4V179.1m3.1-4.8V178.6m3.1-3.9V179.1m3.1-4.7V178.8m3.1-4.5V178.6m3.1-3.9V179m3.1-4V179.4m3.1-4.7V179.1m3.1-3.1V180.3" stroke="#0f0" stroke-width="4.2"/>
<path class="k" d="M1018 176V180.4m3.1-5.5V179.2m3.1-5.1V178.5m3.1-4.4V178.4m3.1-4.4V178.4m3.1-3.8V179m3.1-4.1V179.3m3.1-4.4V179.2m3.1-4.9V178.6m3.1-3.7V179.3m3.1-4.1V179.6m3.1-4.9V179m3.1-4.9V178.5m3.1-4.2V178.7m3.1-3.7V179.3m3.1-4.6V179.1m3.1-4.1V179.3m3.1-4.3V179.4m3.1-4.9V178.9m3.1-4.4V178.9m3.1-4V179.2m3.1-4.9V178.7m3.1-4V179.1m3.1-4.5V178.9m3.1-4.5V178.8m3.1-4.1V179.1m3.1-4.4V179.1m3.1-3.9V179.5m3.1-4.3V179.5m3.1-4.8V179.1m3.1-5V178.4m3.1-4.7V178.1m3.1-4.5V178m3.1-4V178.3m3.1-4.4V178.2m3.1-5V177.6m3.1-4.1V177.9m3-4.2V178.1m3.1-4.4V178m3.1-4.6V177.7m3.1-4.5V177.6m3.1-5.1V176.9m3.1-4.7V176.6m3.1-3.8V177.1m3.1-4.3V177.1m3.1-5.2V176.2m3.1-5.2V175.4m3.1-4.9V174.9m3.1-4.1V175.2m3.1-4.6V175m3.1-3.9V175.5m3.1-4.9V174.9m3.1-5.1V174.2m3.1-5.1V173.5m3.1-4.4V173.4m3.1-4.2V173.5m3.1-4.7V173.1m3.1-5V172.4m3.1-4.2V172.5m3.1-5.2V171.6m3.1-4.8V171.2m3.1-4.5V171.1m3.1-5.7V169.8m3.1-5.6V168.6m3.1-3.9V169.1m3.1-5.8V167.7m3.1-5.8V166.3m3.1-5.2V165.5m3.1-5.2V164.6m3.1-5.9V163.2m3.1-7.8V161.3m3.1-11.1V158m3.1-14.4V152.8m3.1-13.6V146.2m3-11.6V141.8m3.1-14.3V137.2m3.1-16.6V130.1m3.1-15.2V123.2m3.1-12.4V117.5m3.1-8.3V114.2m3.1-2.6V118.1m3.1-2.6V120.5m3.1-2.6V123.7m3.1-2.6V126.9m3.1-3.1V128.1m3.1-7V126.9m3.1-11.6V123.7m3.1-16.1V117.9m3.1-23.7V110.3m3.1-31.9V96.8m3.1-33.2V81m3.1-28.7V66.2m3.1-17.5V54.9m3.1-6.8V55.7m3.1-2.6V67m3.1-2.6V80m3.1-2.6V89.5m3.1-2.6V96.8m3.1-2.6V106.3m3.1-2.6V116.2m3.1-2.6V123m3.1-2.6V126.3m3.1-2.6V131.3m3.1-2.6V136m3.1-2.6V140.9m3.1-2.6V147m3.1-2.6V150.1m3.1-2.6V153.7m3.1-2.6V156.4m3.1-3.5V157.8m3.1-2.6V161m3-3V162.3m3.1-4.1V162.5m3.1-3V164.4m3.1-2.8V166m3.1-3.6V166.8m3.1-4.3V166.9m3.1-2.7V168.5m3.1-3.1V169.7m3.1-3.2V170.9m3.1-3.7V171.6m3.1-4.3V171.6m3.1-3.5V172.4m3.1-4.6V172.2m3.1-3.9V172.6m3.1-4.7V172.3m3.1-4V172.7m3.1-3.7V173.3m3.1-3.7V173.9m3.1-4.5V173.8m3.1-3.7V174.5m3.1-3.4V175.4m3.1-4.3V175.5m3.1-5.1V174.7m3.1-3.3V175.8m3.1-3.5V176.7m3.1-4.2V176.8m3.1-4.9V176.2m3.1-3.7V176.9m3.1-5V176.3m3.1-3.4V177.2m3.1-3.6V178m3.1-4.9V177.5m3.1-4V177.8m3.1-4.9V177.2m3.1-4.5V177m3.1-3.8V177.6m3.1-4.3V177.7m3-4.3V177.7m3.1-4.6V177.4m3.1-3.6V178.1m3.1-4.9V177.6m3.1-3.5V178.5m3.1-4V178.9m3.1-4.8V178.4m3.1-4.7V178.1m3.1-4.3V178.1m3.1-4.6V177.8m3.1-4.1V178.1m3.1-3.6V178.9m3.1-4V179.3m3.1-4.6V179.1m3.1-4.9V178.5m3.1-4.3V178.6m3.1-4V179m3.1-3.9V179.4m3.1-4.4V179.3m3.1-4.4V179.3m3.1-4.7V178.9m3.1-4.6V178.6m3.1-3.7V179.3m3.1-4.5V179.1m3.1-4.4V179.1m3.1-4V179.4m3.1-4.7V179.1m3.1-4.9V178.6m3.1-4.3V178.6m3.1-4.3V178.7m3.1-4.5V178.6m3.1-3.9V179.1m3.1-3.1V180.3" stroke="#00f" stroke-width="4.2"/>
<path class="k" d="M1018 176.5V180.8m3.1-4.7V180.4m3.1-5.1V179.7m3.1-4.9V179.1m3.1-3.9V179.5m3.1-4.2V179.6m3.1-4.5V179.5m3.1-4.2V179.6m3.1-4.4V179.5m3.1-4.9V179m3.1-3.8V179.6m3.1-4.8V179.1m3.1-4.4V179m3.1-3.7V179.6m3.1-5V179m3.1-4.7V178.7m3.1-3.8V179.2m3.1-4.1V179.5m3.1-4.7V179.1m3.1-4.7V178.7m3.1-3.6V179.5m3.1-4.7V179.1m3.1-4.7V178.8m3.1-3.8V179.3m3.1-4V179.6m3.1-4.4V179.6m3.1-4.8V179.2m3.1-4.4V179.2m3.1-4.2V179.4m3.1-4.8V178.9m3.1-3.9V179.3m3.1-4.4V179.2m3.1-4.9V178.6m3.1-4.4V178.6m3.1-3.9V179.1m3.1-4.6V178.8m3.1-5V178.1m3-4.8V177.7m3.1-4V178m3.1-4V178.3m3.1-5V177.6m3.1-4.3V177.7m3.1-4.1V178m3.1-4.6V177.7m3.1-5.4V176.6m3.1-3.7V177.3m3.1-4.7V177m3.1-5V176.3m3.1-4.4V176.3m3.1-4.3V176.4m3.1-4.5V176.2m3.1-4.9V175.7m3.1-5.4V174.7m3.1-4.9V174.1m3.1-3.7V174.7m3.1-4.6V174.5m3.1-4.9V173.9m3.1-5V173.3m3.1-5.1V172.5m3.1-4.8V172.1m3.1-5V171.5m3.1-4V171.9m3.1-4.6V171.6m3.1-5V171m3.1-5.7V169.7m3.1-5.8V168.2m3.1-4V168.6m3.1-5.8V167.2m3.1-5V166.6m3.1-5.2V165.7m3.1-5.6V164.4m3.1-7.1V162.7m3.1-7.9V159.9m3.1-7.5V157.4m3-7.4V155m3.1-6.9V152.6m3.1-6.1V150.9m3.1-6.8V149.2m3.1-7.7V146.7m3.1-6.6V144.4m3.1-5.3V143.4m3.1-7.4V142m3.1-9.3V138.6m3.1-7.5V135.5m3.1-5.4V134.4m3.1-6.9V133.2m3.1-10.7V130.1m3.1-11.8V125.1m3.1-12V120.9m3.1-15.2V115.7m3.1-17.7V108.3m3.1-20V100.6m3.1-19V90.9m3.1-10.7V84.5m3.1-4.5V84.4m3.1-3.1V88.3m3.1-2.6V95.7m3.1-2.6V102.7m3.1-2.6V111.6m3.1-2.6V121.8m3.1-2.6V130.6m3.1-2.6V139.7m3.1-2.6V147.7m3.1-2.6V152.3m3.1-2.6V155.6m3.1-2.6V158m3.1-2.6V159.8m3.1-2.8V161.4m3.1-2.9V162.9m3.1-2.9V164.3m3.1-4.3V164.4m3-3.1V165.8m3.1-2.7V167.5m3.1-3.4V168.4m3.1-5.1V167.7m3.1-3.5V168.5m3.1-3.3V169.5m3.1-3.2V170.7m3.1-3.4V171.7m3.1-3.7V172.3m3.1-3.9V172.8m3.1-4.9V172.3m3.1-3.8V172.9m3.1-3.3V174m3.1-5V173.4m3.1-3V174.7m3.1-3.5V175.5m3.1-4.7V175.2m3.1-5.1V174.5m3.1-4.4V174.5m3.1-3.6V175.2m3.1-4.6V175m3.1-3.6V175.8m3.1-4.8V175.4m3.1-4V175.8m3.1-4V176.2m3.1-3.9V176.6m3.1-4.1V176.8m3.1-4.8V176.4m3.1-3.9V176.8m3.1-4.2V176.9m3.1-4.2V177.1m3.1-4.5V176.9m3.1-3.6V177.6m3.1-4.4V177.5m3.1-4.3V177.5m3.1-3.7V178.2m3.1-4.2V178.4m3-4.4V178.4m3.1-5.2V177.6m3.1-3.8V178.1m3.1-4.6V177.8m3.1-3.8V178.4m3.1-4.8V178m3.1-4.2V178.1m3.1-4.1V178.3m3.1-4.1V178.5m3.1-3.9V178.9m3.1-3.9V179.3m3.1-4.5V179.2m3.1-4.4V179.2m3.1-4.9V178.6m3.1-4.5V178.4m3.1-3.7V179.1m3.1-4.6V178.8m3.1-4.7V178.4m3.1-3.7V179.1m3.1-3.9V179.5m3.1-4.5V179.4m3.1-4.3V179.5m3.1-4.9V179m3.1-4.6V178.7m3.1-4.1V178.9m3.1-3.8V179.5m3.1-4.6V179.3m3.1-5V178.6m3.1-4.4V178.5m3.1-4.6V178.3m3.1-3.9V178.7m3.1-3.5V179.6m3.1-3.4V180.6" stroke="#f0f" stroke-width="4.2"/>
<text class="m" transform="translate(1010.6 39.2) scale(1 1.048)" font-size="25.3" letter-spacing="3.3" text-anchor="end">1800</text>
<text class="m" transform="translate(1010.6 89.7) scale(1 1.048)" font-size="25.3" letter-spacing="3.3" text-anchor="end">1200</text>
<text class="m" transform="translate(1010.6 140.2) scale(1 1.048)" font-size="25.3" letter-spacing="3.3" text-anchor="end">600</text>
<text class="m" transform="translate(1010.6 189.8) scale(1 1.048)" font-size="25.3" letter-spacing="3.3" text-anchor="end">0</text>
<text class="m" transform="translate(1019.6 224.6) scale(1 1.048)" font-size="25.3" letter-spacing="3.3" text-anchor="middle">0</text>
<text class="m" transform="translate(1107 224.6) scale(1 1.048)" font-size="25.3" letter-spacing="3.3" text-anchor="middle">40</text>
<text class="m" transform="translate(1194.5 224.6) scale(1 1.048)" font-size="25.3" letter-spacing="3.3" text-anchor="middle">80</text>
<text class="m" transform="translate(1281.9 224.6) scale(1 1.048)" font-size="25.3" letter-spacing="3.3" text-anchor="middle">120</text>
<text class="m" transform="translate(1369.4 224.6) scale(1 1.048)" font-size="25.3" letter-spacing="3.3" text-anchor="middle">160</text>
<text class="m" transform="translate(1456.9 224.6) scale(1 1.048)" font-size="25.3" letter-spacing="3.3" text-anchor="middle">200</text>
<text class="m" transform="translate(1544.3 224.6) scale(1 1.048)" font-size="25.3" letter-spacing="3.3" text-anchor="middle">240</text>
<text class="m" transform="translate(1631.8 224.6) scale(1 1.048)" font-size="25.3" letter-spacing="3.3" text-anchor="middle">280</text>
<text class="m l" transform="translate(1165.9 272.6) scale(1 0.885)" font-size="30.9" text-anchor="start" textLength="312.2" lengthAdjust="spacingAndGlyphs">Location (pixels)</text>
<text class="c" transform="translate(911.6 100) rotate(-90) scale(1 .95)" font-size="30" text-anchor="middle" textLength="108" lengthAdjust="spacingAndGlyphs">counts</text>
</g>
<g id="panel-c">
<rect x="11.6" y="386.3" width="815.4" height="306.9" fill="#000"/>
<path class="ax" d="M128.7 417.7H771.9V572.9H128.7ZM128.7 567.4V578.4M174.6 567.4V578.4M220.6 567.4V578.4M266.5 567.4V578.4M312.5 567.4V578.4M358.4 567.4V578.4M404.4 567.4V578.4M450.3 567.4V578.4M496.2 567.4V578.4M542.2 567.4V578.4M588.1 567.4V578.4M634.1 567.4V578.4M680 567.4V578.4M726 567.4V578.4M771.9 567.4V578.4M123.2 572.9H134.2M123.2 534.1H134.2M123.2 495.3H134.2M123.2 456.5H134.2M123.2 417.7H134.2"/>
<path class="k" d="M130.3 567.9V572.4m3.3-8.4V570.9m3.2-9.9V566.7m3.3-4.4V567.7m3.2-2.7V570.3m3.3-2.9V571.9m3.3-4.8V571.9m3.2-7.2V569.9m3.3-6.7V567.8m3.2-5V567.6m3.3-2.7V569.7m3.2-4.4V569.8m3.3-4.6V569.7m3.2-4V570.2m3.3-4.1V570.7m3.2-5.8V569.4m3.3-5.6V568.3m3.2-4.2V569.5m3.3-8V566.8m3.3-3.5V568m3.2-4.5V568m3.3-5.3V567.2m3.2-5.9V565.8m3.3-4V566.4m3.2-2.9V568.2m3.3-3.7V569m3.2-7.8V567.2m3.3-7.7V564m3.2-3.6V566.4m3.3-4.4V568.9m3.3-10.9V564.8m3.2-2.9V568.5m3.3-9.3V566.3m3.2-9.2V563.8m3.3-2.7V567.8m3.2-7.7V567.2m3.3-11V562.8m3.2-4V564.1m3.3-7.9V563.7m3.2-11.9V558.9m3.3-8.1V556.5m3.2-8.8V553.5m3.3-10.4V551.5m3.3-16V545.8m3.2-19.2V538.2m3.3-18.7V529.3m3.2-5.9V530.1m3.3-9V528.8m3.2-24.7V523.8m3.3-36.2V506.9m3.2-28.9V490.3m3.3-31.6V480.7m3.2-35.1V461.4m3.3-12.9V461m3.3-24.7V451.3m3.2-17.4V443.1m3.3-2.8V449.6m3.2-2.7V457.5m3.3-2.7V471.9m3.2-2.7V478.5m3.3-10V478.4m3.2-2.7V485.6m3.3-5.6V490.3m3.2-2.7V500.2m3.3-2.7V502.5m3.2-3.5V507.8m3.3-2.7V514m3.3-9.1V516.4m3.2-2.8V525.1m3.3-9.6V521.7m3.2-4.7V524.4m3.3-13.8V519.7m3.2-10.9V525.2m3.3-2.7V540.9m3.2-2.8V542.9m3.3-6.2V544.7m3.2-2.8V549.9m3.3-5.5V551m3.2-2.7V557.4m3.3-2.7V561m3.3-3.7V562.2m3.2-7.5V560m3.3-5.8V560.1m3.2-2.7V563.3m3.3-7.3V561m3.2-2.9V563.3m3.3-3.4V564.4m3.2-4.7V564.2m3.3-4.6V564.1m3.2-3.1V565.5m3.3-4.1V566.4m3.3-7.7V564.1m3.2-6.5V562.2m3.3-4.3V562.4m3.2-5.3V561.6m3.3-3.6V562.5m3.2-3.5V563.5m3.3-3V565m3.2-5.8V563.7m3.3-3.8V566m3.2-2.8V568.8m3.3-6.4V568.4m3.2-8.9V565.1m3.3-5.4V566m3.3-2.7V569.5m3.2-5V569.6m3.3-7.5V567.2m3.2-4.7V567m3.3-4.2V567.9m3.2-2.7V570.3m3.3-6.5V568.4m3.2-3.4V569.8m3.3-4.8V570.7m3.2-8.7V567.7m3.3-5.4V566.8m3.3-3.1V568.2m3.2-3.6V569.1m3.3-3.3V570.3m3.2-6V568.8m3.3-2.8V570.6m3.2-4.4V570.8m3.3-5.6V569.7m3.2-5.3V569m3.3-3.3V570.3m3.2-3.4V571.5m3.3-6.2V569.8m3.2-4.3V570m3.3-4.3V570.2m3.3-5V569.7m3.2-5.2V569.1m3.3-6V567.7m3.2-3.2V569.7m3.3-3.1V571.1m3.2-6.2V569.4m3.3-3V571m3.2-6.1V569.4m3.3-3V570.9m3.2-5.4V570.2m3.3-6V568.7m3.3-2.9V570.4m3.2-5.8V569.2m3.3-4.6V569.1m3.2-3V570.6m3.3-5V570.1m3.2-5V570m3.3-2.8V572.1m3.2-4.7V571.9m3.3-5.7V570.8m3.2-3.2V572.3m3.3-6.6V570.3m3.2-4.6V570.2m3.3-5.8V568.9m3.3-3.8V569.7m3.2-4.2V570m3.3-3.6V571.3m3.2-2.7V573.3m3.3-5.1V572.7m3.2-6V571.2m3.3-6V569.7m3.2-5V569.2m3.3-3.4V570.3m3.2-3.8V571m3.3-4.7V570.8m3.3-3.6V571.7m3.2-5V571.2m3.3-4.6V571.1m3.2-4.6V571m3.3-5.6V569.9m3.2-4.8V569.6m3.3-3.1V571.1m3.2-3.2V572.4m3.3-4.7V572.2m3.2-4.9V571.8m3.3-3.6V572.7m3.2-5.7V571.9m3.3-6.7V570.6m3.3-2.8V573.2m3.2-7.4V571.2m3.3-6.4V569.4m3.2-3.2V571.7m3.3-2.7V573.5" stroke="#fff" stroke-width="4.4"/>
<path class="k" d="M130.3 567.3V571.9m3.3-6.3V570.1m3.2-4.5V570.1m3.3-3.6V571.1m3.2-5.7V569.9m3.3-4V570.4m3.3-4.7V570.7m3.2-7.2V568.5m3.3-5.4V567.6m3.2-4.9V567.9m3.3-2.8V570.3m3.2-7.1V568.5m3.3-2.8V571m3.2-6V569.6m3.3-4.2V569.9m3.2-6.4V568.8m3.3-7.2V566.3m3.2-3.3V568m3.3-7.2V566.3m3.3-2.8V569m3.2-6.1V567.4m3.3-4.6V568m3.2-7.8V565.6m3.3-6.3V563.8m3.2-4V564.3m3.3-3.1V566.1m3.2-2.7V568.1m3.3-5.6V568.7m3.2-9.7V565.2m3.3-3V568m3.3-7.6V565.6m3.2-4.8V565.3m3.3-2.9V567m3.2-4.2V567.4m3.3-6.3V565.8m3.2-5.5V564.8m3.3-4.4V566.1m3.2-9.1V563.1m3.3-6.8V560.8m3.2-7.2V561.7m3.3-13.4V556.3m3.2-8.5V559.1m3.3-19.8V550.5m3.3-15V542.6m3.2-13.7V538.3m3.3-11.7V531.6m3.2-4.9V531.2m3.3-11V529.9m3.2-25.7V522.9m3.3-42.1V507m3.2-48.1V483.6m3.3-34.1V461.6m3.2-14.6V452.3m3.3-6.6V452.8m3.3-2.7V457.2m3.2-13V455.2m3.3-17.2V446.9m3.2-4.2V459m3.3-2.7V467.9m3.2-7.6V466m3.3-6.6V467.2m3.2-2.8V482.3m3.3-2.7V492.5m3.2-4.8V496.9m3.3-2.7V505.8m3.2-2.7V513.9m3.3-2.7V519.6m3.3-12.3V514.8m3.2-4.9V522.6m3.3-2.7V530m3.2-7.4V528.9m3.3-2.7V537.6m3.2-2.7V542.8m3.3-9.7V542.2m3.2-2.7V548.7m3.3-10.5V544.8m3.2-5V545.3m3.3-2.7V552.4m3.2-2.8V558.5m3.3-2.8V560.2m3.3-3.4V561.3m3.2-5.8V560m3.3-4.8V560.1m3.2-7.1V557.9m3.3-4.9V557.5m3.2-2.9V559.1m3.3-2.8V561.7m3.2-3.2V564.1m3.3-8.4V561.7m3.2-2.7V565m3.3-4.7V564.8m3.3-5.8V563.5m3.2-5.2V562.8m3.3-3V564.4m3.2-5.3V563.6m3.3-4.9V563.3m3.2-2.7V565.2m3.3-5.1V564.7m3.2-3.2V566m3.3-4.9V565.6m3.2-4.9V565.2m3.3-6.2V563.5m3.2-4.2V565.5m3.3-2.8V568.6m3.3-8.3V566.5m3.2-2.7V570m3.3-4.6V570.1m3.2-6.8V568.4m3.3-2.7V570.8m3.2-4.1V571.2m3.3-5.9V569.8m3.2-4.6V570.4m3.3-7.6V568m3.2-3.6V569.3m3.3-3.4V570.5m3.3-5.8V569.6m3.2-6.9V567.4m3.3-5V566.9m3.2-3.4V568.9m3.3-2.8V571.4m3.2-7.2V569.7m3.3-6.9V567.3m3.2-3.8V568m3.3-3.4V569.1m3.2-3.7V569.9m3.3-5.6V568.8m3.2-3.8V569.6m3.3-5.8V568.3m3.3-5.4V567.4m3.2-3.9V568m3.3-2.9V569.7m3.2-3.3V570.9m3.3-3.9V571.5m3.2-5.4V570.9m3.3-6.9V568.9m3.2-5.6V567.8m3.3-3.8V568.5m3.2-4.4V568.6m3.3-4.6V568.6m3.3-2.8V570.3m3.2-4.9V569.9m3.3-4.1V570.3m3.2-3.5V572.1m3.3-8V569.5m3.2-2.8V572m3.3-7.4V569.7m3.2-2.9V571.8m3.3-4.7V571.6m3.2-6.3V569.9m3.3-5V569.4m3.2-2.7V571.3m3.3-4.7V571.1m3.3-4.4V571.2m3.2-4.1V571.6m3.3-5V571.1m3.2-5.7V569.9m3.3-5.5V569m3.2-4.6V569m3.3-3.9V569.9m3.2-2.7V571.9m3.3-5.9V570.5m3.2-3.1V572m3.3-6.3V570.2m3.3-3.3V571.4m3.2-6.1V570m3.3-3V571.9m3.2-7V570.4m3.3-2.8V573.1m3.2-4.1V573.5m3.3-6V572.2m3.2-6.1V570.6m3.3-3.9V571.3m3.2-2.9V572.9m3.3-6.6V571.3m3.2-6.2V569.6m3.3-3.9V570.2m3.3-4.2V570.9m3.2-2.7V573.1m3.3-5.4V573m3.2-7.7V570.8m3.3-2.8V573.5" stroke="#f00" stroke-width="4.4"/>
<path class="k" d="M130.3 567.1V572.1m3.3-9.1V569.8m3.2-8.5V567.2m3.3-2.7V570.4m3.2-4.9V570m3.3-6V568.5m3.3-4V569m3.2-2.9V570.7m3.3-4.4V570.8m3.2-5.3V570m3.3-5.4V569.1m3.2-5.6V568m3.3-3.9V568.7m3.2-3V570.2m3.3-6.5V569m3.2-7.5V566.4m3.3-5.6V566.5m3.2-2.8V569.4m3.3-8.3V566.6m3.3-5.4V566.7m3.2-3V569.3m3.3-8.5V566.4m3.2-5.5V565.4m3.3-3.7V566.5m3.2-6.9V565.5m3.3-2.7V568.6m3.2-7.8V566.1m3.3-2.9V568.4m3.2-7.3V566.1m3.3-4.1V566.5m3.3-4V567m3.2-7.3V565.9m3.3-9.3V562.4m3.2-6V560.9m3.3-5V560.5m3.2-4.1V560.9m3.3-6.1V560.3m3.2-2.7V563.2m3.3-7.5V560.8m3.2-3.6V563.3m3.3-10.6V559.9m3.2-11.5V555.5m3.3-10.7V551.1m3.3-9.8V547.5m3.2-11.6V544m3.3-10.6V538.7m3.2-10.9V536.1m3.3-19.4V530.5m3.2-30.7V519.4m3.3-34.9V502.5m3.2-34.1V487.3m3.3-36.1V471.2m3.2-25.3V454m3.3-11V448.7m3.3-8.6V445.7m3.2-5.6V450.3m3.3-2.8V458.6m3.2-4.8V459.7m3.3-9.1V461.9m3.2-2.7V475.8m3.3-2.7V487m3.2-2.7V492.9m3.3-10.6V488.9m3.2-5.6V494.9m3.3-2.7V502.8m3.2-7.2V507.2m3.3-2.8V518.1m3.3-5.6V520.2m3.2-12.6V515.3m3.3-6.9V519.4m3.2-2.7V526.9m3.3-4.8V530.4m3.2-2.7V536m3.3-10V533.5m3.2-9.7V533m3.3-2.7V543.1m3.2-2.7V549.1m3.3-2.7V554.7m3.2-2.8V559.5m3.3-2.7V561.3m3.3-7.7V559.9m3.2-8.5V556.4m3.3-4.4V558.6m3.2-11.3V554.7m3.3-8.2V551.5m3.2-2.7V557m3.3-2.7V562.3m3.2-2.7V564.4m3.3-7.5V562.7m3.2-7.5V559.7m3.3-5.2V559m3.3-3.3V561.9m3.2-2.8V564.5m3.3-6.8V562.8m3.2-3V565.1m3.3-7.9V562.6m3.2-2.7V565.9m3.3-2.8V567.6m3.2-3.5V568.7m3.3-6.1V567.2m3.2-2.8V568.9m3.3-5.9V567.6m3.2-5V567.1m3.3-4V567.6m3.3-4.8V567.3m3.2-3.8V568m3.3-4.6V567.9m3.2-3.5V568.9m3.3-5.5V567.9m3.2-4.4V568m3.3-3.8V568.7m3.2-4.7V568.5m3.3-4.5V568.5m3.2-3.3V569.7m3.3-6.9V567.9m3.3-5.7V568.2m3.2-2.7V571.6m3.3-9.4V568.2m3.2-5.4V568.5m3.3-2.8V571.1m3.2-5.1V571.4m3.3-8.1V568.7m3.2-4.5V568.7m3.3-4.1V569.1m3.2-3.3V570.3m3.3-5.1V569.7m3.2-5.1V569.1m3.3-4.9V568.7m3.3-3V570.2m3.2-5.1V569.6m3.3-5.7V568.4m3.2-5.3V567.7m3.3-4.5V567.8m3.2-4.6V567.7m3.3-3.3V568.9m3.2-5.1V568.3m3.3-3.9V569.2m3.2-2.7V571.7m3.3-3.5V572.7m3.3-6.8V571.4m3.2-7.5V568.9m3.3-2.8V571.2m3.2-5.9V569.8m3.3-5.2V569.2m3.2-4.5V569.4m3.3-2.9V571.3m3.2-6.8V569.3m3.3-2.9V571.1m3.2-5.5V570.2m3.3-5.7V570m3.2-2.7V572.9m3.3-4.4V573m3.3-6.7V571.3m3.2-6.3V569.5m3.3-4.6V569.4m3.2-3V570.9m3.3-5.1V570.3m3.2-3.1V571.8m3.3-5.1V571.2m3.2-5.8V569.9m3.3-5V570.2m3.2-2.8V572.7m3.3-6.2V571m3.3-3.8V571.9m3.2-6.7V570.2m3.3-2.7V572.8m3.2-4.6V573.1m3.3-7.1V570.9m3.2-3.3V572.6m3.3-4.6V573.3m3.2-8V570.7m3.3-3.5V571.7m3.2-6.2V570.6m3.3-2.8V572.9m3.2-5.9V571.5m3.3-3.6V572.4m3.3-6.7V570.6m3.2-5.3V570.5m3.3-2.7V573.1m3.2-7.4V570.9m3.3-2.7V573.5" stroke="#0f0" stroke-width="4.4"/>
<path class="k" d="M130.3 566.2V572.4m3.3-9.7V568.9m3.2-4.6V568.8m3.3-5.2V568.1m3.2-4.9V568.6m3.3-2.8V571.2m3.3-7V569.1m3.2-4.3V569.3m3.3-3.4V570.4m3.2-6.1V568.8m3.3-3.7V569.6m3.2-6.4V567.9m3.3-5.9V566.5m3.2-4.8V566.2m3.3-3.3V568.4m3.2-2.7V570.4m3.3-5.3V569.6m3.2-6.2V567.9m3.3-6V566.4m3.3-4.2V566.7m3.2-5.1V566.1m3.3-3.5V567.1m3.2-3.7V567.9m3.3-3.6V568.8m3.2-3.5V569.8m3.3-5.9V569.7m3.2-8.9V566.6m3.3-5.4V565.7m3.2-3.1V567.2m3.3-5.5V567.1m3.3-8.1V564.4m3.2-3.9V566.2m3.3-8.6V563.2m3.2-3.8V565.8m3.3-2.8V567.6m3.2-6.3V566.1m3.3-7.6V564m3.2-7.7V562.2m3.3-3V565.3m3.2-9.6V561.9m3.3-4.2V562.5m3.2-10.1V560.8m3.3-13.8V555.1m3.3-9.9V549.8m3.2-8.8V548m3.3-12.3V543.8m3.2-12.9V538.5m3.3-12.4V533.6m3.2-11.9V528.8m3.3-15.8V524.4m3.2-20.6V515.7m3.3-21.1V506.6m3.2-22.6V497.3m3.3-28V486.7m3.3-27.2V472m3.2-9.2V468.9m3.3-2.8V474.1m3.2-2.7V479.5m3.3-10.4V475.7m3.2-3.3V484.1m3.3-2.8V490.9m3.2-2.7V495.8m3.3-2.7V499.7m3.2-5.8V503.6m3.3-2.7V512.3m3.2-4V514.1m3.3-8.9V514.4m3.3-2.7V520.9m3.2-3.8V525.3m3.3-2.7V530.8m3.2-12.4V526.8m3.3-2.7V532.5m3.2-4.1V532.9m3.3-3V539.4m3.2-2.7V545.1m3.3-9.2V544.5m3.2-2.8V551.8m3.3-2.8V554.1m3.2-3.4V555.2m3.3-5.4V556m3.3-2.7V561.3m3.2-2.7V563.1m3.3-4.6V563.3m3.2-6.8V561.2m3.3-3.6V562.4m3.2-3V563.9m3.3-3.6V564.9m3.2-6.7V563.7m3.3-7.8V560.9m3.2-4.3V561.1m3.3-4.2V561.4m3.3-3.8V562.1m3.2-2.8V564.3m3.3-3.3V565.5m3.2-4.8V565.2m3.3-5.2V564.9m3.2-3.9V567m3.3-9.2V563.8m3.2-5.4V563.9m3.3-2.7V566.1m3.2-3.4V567.2m3.3-3.9V567.8m3.2-6.3V566m3.3-4.2V566.3m3.3-4.9V567.3m3.2-2.7V570.5m3.3-6.4V569.3m3.2-7V566.9m3.3-5.1V567.5m3.2-3V570.4m3.3-9V567.3m3.2-2.7V570.5m3.3-4.9V570.2m3.2-6.6V568.6m3.3-6.4V567.8m3.3-2.7V570.7m3.2-5.4V570.3m3.3-7.1V568m3.2-4.4V568.5m3.3-2.7V570.3m3.2-3.3V571.5m3.3-4.5V571.6m3.2-6.4V569.8m3.3-3.9V570.4m3.2-5.1V569.8m3.3-5.9V568.7m3.2-2.7V571.5m3.3-4.6V572.2m3.3-7.9V569.7m3.2-6V568.2m3.3-3.5V569.2m3.2-4V569.7m3.3-5V569.2m3.2-2.7V571m3.3-4.9V570.7m3.2-6.3V568.9m3.3-4.2V569.2m3.2-3.6V570.1m3.3-4.9V569.7m3.3-3.4V570.8m3.2-4.6V570.7m3.3-5.9V569.4m3.2-5.6V568.3m3.3-4V568.8m3.2-4.4V568.9m3.3-4.6V568.8m3.2-4.2V569.1m3.3-3.6V570m3.2-3.2V571.3m3.3-2.9V572.9m3.2-4.8V572.7m3.3-5.4V571.9m3.3-5.4V571m3.2-3.7V571.9m3.3-4.5V571.9m3.2-4.2V572.7m3.3-7.2V570.5m3.2-5.3V569.7m3.3-3.2V571m3.2-3.2V572.3m3.3-6.2V570.7m3.2-5.6V569.6m3.3-4V570.3m3.3-2.8V572.5m3.2-3.4V573.6m3.3-4.5V573.6m3.2-4.7V573.5m3.3-5.8V573m3.2-7.9V570.5m3.3-3.4V571.7m3.2-5.9V570.3m3.3-4.5V570.3m3.2-2.9V572.1m3.3-3.3V573.3m3.2-5.6V572.4m3.3-6.3V570.6m3.3-4.2V571.1m3.2-2.7V573m3.3-5.4V572.1m3.2-4.4V572.2m3.3-3.1V573.6" stroke="#00f" stroke-width="4.4"/>
<path class="k" d="M130.3 564.8V571.5m3.3-11.6V567.5m3.2-8.7V563.4m3.3-2.9V565m3.2-2.8V566.7m3.3-2.8V568.8m3.3-3.1V570.2m3.2-3.7V571m3.3-5.1V570.5m3.2-6.5V568.8m3.3-3.9V570.8m3.2-9V567.7m3.3-5.4V566.8m3.2-3.1V568.2m3.3-3V569.7m3.2-5.8V569.3m3.3-8.1V566.6m3.2-5.7V565.4m3.3-3V567.6m3.3-2.7V569.4m3.2-3.3V570.6m3.3-5V570.1m3.2-5.6V570.2m3.3-8.6V567.3m3.2-5.8V566m3.3-4.2V566.3m3.2-5.6V565.5m3.3-6.8V564.5m3.2-2.8V568.2m3.3-3.7V569m3.3-7.5V567.5m3.2-7.8V564.3m3.3-4.1V564.8m3.2-6.6V563.4m3.3-6.8V562.2m3.2-2.8V565m3.3-4.9V564.7m3.2-6V563.2m3.3-5.8V562.1m3.2-4.4V564.1m3.3-10V560.5m3.2-5.7V561.1m3.3-9.9V557.5m3.3-7.7V554.3m3.2-5.6V553.7m3.3-2.8V555.9m3.2-5.3V555.1m3.3-4.6V555m3.2-7.2V553.4m3.3-7.5V550.5m3.2-5.8V549.2m3.3-5.3V548.6m3.2-6.7V546.6m3.3-6.6V548.1m3.3-13.5V542.7m3.2-13.6V539.4m3.3-17.8V531.9m3.2-9.9V526.6m3.3-10.9V526.6m3.2-26.5V518.4m3.3-27.7V502.8m3.2-14.2V495.9m3.3-2.7V500.5m3.2-2.9V502.5m3.3-8.9V504.6m3.2-19.4V496.3m3.3-9.3V491.8m3.3-3.2V493.2m3.2-12.2V493.3m3.3-21.9V483.7m3.2-3.7V491.5m3.3-12.4V487.4m3.2-9.7V483.7m3.3-2.7V487.1m3.2-7.8V494.3m3.3-2.8V514.3m3.2-2.7V525.7m3.3-2.7V529.4m3.2-6.8V534.9m3.3-2.8V544.5m3.3-3.9V545.1m3.2-2.7V547.5m3.3-2.7V553.2m3.2-2.7V558.2m3.3-7.2V556m3.2-2.9V558m3.3-5.2V559.6m3.2-2.8V563.6m3.3-5.7V562.4m3.2-3V563.9m3.3-5.2V563.2m3.3-3.7V564.8m3.2-8.1V562.3m3.3-5.8V562.3m3.2-2.7V566.3m3.3-3.2V567.6m3.2-5.2V566.9m3.3-4.1V568.4m3.2-8.5V565.5m3.3-3.9V566.2m3.2-5.3V565.4m3.3-5.2V565m3.2-2.7V567.1m3.3-5.3V566.5m3.3-6.3V564.8m3.2-4.2V565.1m3.3-2.9V566.8m3.2-2.9V568.5m3.3-4.3V569.3m3.2-7.6V566.9m3.3-5V566.4m3.2-3V567.9m3.3-5V567.4m3.2-4V567.9m3.3-3.9V568.8m3.3-3.6V570.9m3.2-8.8V567.9m3.3-3.6V569.2m3.2-5.4V568.3m3.3-5.3V567.5m3.2-4V568m3.3-3.1V570m3.2-3.4V571.3m3.3-6.8V569.3m3.2-3.1V570.7m3.3-6.2V569m3.2-4.7V568.8m3.3-2.7V570.6m3.3-5V570.1m3.2-5.9V568.7m3.3-3.2V570.4m3.2-7.1V568.2m3.3-2.8V571.1m3.2-3.2V572.4m3.3-4.3V572.6m3.2-4.6V572.5m3.3-4.9V572.1m3.2-5.3V571.3m3.3-4.5V571.3m3.3-6.1V570m3.2-6.1V569m3.3-2.7V571.3m3.2-7.2V569.1m3.3-4.8V568.8m3.2-2.8V570.9m3.3-3.1V572.3m3.2-5.4V571.4m3.3-4.8V571.1m3.2-3.1V572.5m3.3-5.3V571.7m3.2-6.1V570.1m3.3-5.2V570.1m3.3-2.7V572.6m3.2-4.9V572.2m3.3-3.9V572.8m3.2-5.7V571.6m3.3-5.5V570.6m3.2-3.2V571.9m3.3-5V571.5m3.2-6.3V569.7m3.3-3.7V570.5m3.2-5.2V569.8m3.3-4.9V569.4m3.3-3.5V570.4m3.2-3.6V571.4m3.3-2.8V573.3m3.2-4.8V573m3.3-4.2V573.3m3.2-5.3V572.5m3.3-5.8V571.2m3.2-3.4V572.3m3.3-4.3V572.9m3.2-7.1V570.9m3.3-2.7V573.3m3.2-5.8V572.5m3.3-6.7V570.4m3.3-4.3V570.7m3.2-3.4V571.8m3.3-3.1V573.2m3.2-3.7V574m3.3-4.2V574.3" stroke="#f0f" stroke-width="4.4"/>
<text class="m" transform="translate(122.9 429.5) scale(1 1.085)" font-size="25.9" letter-spacing="3.4" text-anchor="end">240</text>
<text class="m" transform="translate(122.9 507.9) scale(1 1.085)" font-size="25.9" letter-spacing="3.4" text-anchor="end">120</text>
<text class="m" transform="translate(122.9 584.7) scale(1 1.085)" font-size="25.9" letter-spacing="3.4" text-anchor="end">0</text>
<text class="m" transform="translate(131.8 619.6) scale(1 1.085)" font-size="25.9" letter-spacing="3.4" text-anchor="middle">0</text>
<text class="m" transform="translate(223.7 619.6) scale(1 1.085)" font-size="25.9" letter-spacing="3.4" text-anchor="middle">40</text>
<text class="m" transform="translate(315.6 619.6) scale(1 1.085)" font-size="25.9" letter-spacing="3.4" text-anchor="middle">80</text>
<text class="m" transform="translate(407.5 619.6) scale(1 1.085)" font-size="25.9" letter-spacing="3.4" text-anchor="middle">120</text>
<text class="m" transform="translate(499.4 619.6) scale(1 1.085)" font-size="25.9" letter-spacing="3.4" text-anchor="middle">160</text>
<text class="m" transform="translate(591.2 619.6) scale(1 1.085)" font-size="25.9" letter-spacing="3.4" text-anchor="middle">200</text>
<text class="m" transform="translate(683.1 619.6) scale(1 1.085)" font-size="25.9" letter-spacing="3.4" text-anchor="middle">240</text>
<text class="m" transform="translate(775 619.6) scale(1 1.085)" font-size="25.9" letter-spacing="3.4" text-anchor="middle">280</text>
<text class="m l" transform="translate(289.3 668.2) scale(1 0.917)" font-size="31.6" text-anchor="start" textLength="319.9" lengthAdjust="spacingAndGlyphs">Location (pixels)</text>
<text class="c" transform="translate(40.4 493.2) rotate(-90) scale(1 .95)" font-size="31" text-anchor="middle" textLength="111.6" lengthAdjust="spacingAndGlyphs">counts</text>
</g>
<g id="panel-d">
<rect x="877.3" y="386.3" width="839.4" height="304.4" fill="#000"/>
<path class="ax" d="M1001 420.2H1652.1V576.8H1001ZM1001 571.3V582.3M1047.5 571.3V582.3M1094 571.3V582.3M1140.5 571.3V582.3M1187 571.3V582.3M1233.5 571.3V582.3M1280 571.3V582.3M1326.5 571.3V582.3M1373.1 571.3V582.3M1419.6 571.3V582.3M1466.1 571.3V582.3M1512.6 571.3V582.3M1559.1 571.3V582.3M1605.6 571.3V582.3M1652.1 571.3V582.3M995.5 576.8H1006.5M995.5 550.7H1006.5M995.5 524.6H1006.5M995.5 498.5H1006.5M995.5 472.4H1006.5M995.5 446.3H1006.5M995.5 420.2H1006.5"/>
<path class="k" d="M1002.6 560.6V570.8m3.3-17.6V563.4m3.3-7.2V562.2m3.3-3.8V563m3.3-4.4V563.9m3.3-2.8V566.4m3.3-7.2V564.6m3.3-2.7V567.3m3.3-5V567m3.3-6.4V565.2m3.3-5.9V563.9m3.3-5.5V562.9m3.3-4.4V563m3.3-3.7V563.9m3.3-4.8V563.6m3.3-3.7V564.5m3.3-6.1V564.6m3.2-9.7V561.1m3.3-4.1V561.8m3.3-6.1V560.9m3.3-6.7V558.8m3.3-2.7V560.9m3.3-4.2V561.3m3.3-7.8V559.6m3.3-8.3V556.3m3.3-5.3V555.9m3.3-3.3V558m3.3-8.1V555.4m3.3-4.7V555.2m3.3-5.3V555m3.3-2.7V558m3.3-4.3V558.6m3.3-7.9V556.4m3.3-6.8V554.2m3.2-4.5V555.5m3.3-8.9V552.4m3.3-3.8V555.5m3.3-11V551.3m3.3-5.9V550m3.3-6.4V548.2m3.3-3.1V549.6m3.3-4.5V549.7m3.3-8V548.9m3.3-11.6V544.5m3.3-7.1V542.3m3.3-4.1V544.3m3.3-9.4V541m3.3-4.7V542.5m3.3-4.8V544.6m3.3-11V540.5m3.3-4.4V541.4m3.2-7.4V540.7m3.3-9.9V536.8m3.3-8.4V535.2m3.3-10.7V531.2m3.3-5V530.8m3.3-4.6V530.7m3.3-6V530.4m3.3-2.8V533.3m3.3-11.4V531.9m3.3-19.9V524.7m3.3-16.7V514.8m3.3-10.4V511m3.3-13.8V507.2m3.3-16.3V499.9m3.3-11.9V493.8m3.3-2.8V496.9m3.3-9V496.4m3.2-2.8V502.1m3.3-4.9V503m3.3-2.8V506.3m3.3-4V506.9m3.3-6.1V505.4m3.3-5.3V504.6m3.3-3.6V506.5m3.3-2.8V514.5m3.3-2.8V520m3.3-6.5V518.1m3.3-3.2V523.2m3.3-2.8V527.3m3.3-6.6V528.8m3.3-2.7V534.2m3.3-8.9V531.2m3.3-3.3V533.2m3.3-5.7V532.9m3.2-2.8V535.5m3.3-3.1V537m3.3-3.3V538.3m3.3-3.2V539.7m3.3-3V543.8m3.3-2.8V547.9m3.3-3.5V549m3.3-5.5V548m3.3-3.8V549.7m3.3-8.1V547.1m3.3-2.7V549.9m3.3-5.3V550.3m3.3-2.8V553.2m3.3-4.5V553.3m3.3-5.3V552.6m3.3-4V553.2m3.3-2.9V554.9m3.2-4.5V555.1m3.3-6.5V553.6m3.3-2.8V555.8m3.3-5.9V554.5m3.3-3.8V556.5m3.3-3V558.9m3.3-8V556.3m3.3-3V558.4m3.3-4.4V558.5m3.3-5.7V557.3m3.3-3.8V559m3.3-3.4V561.3m3.3-8.6V558.4m3.3-4.4V560.2m3.3-2.8V562.3m3.3-7V560.2m3.3-4.8V559.9m3.2-5.2V560.2m3.3-2.8V562.9m3.3-4.2V563.3m3.3-6.2V561.8m3.3-5.4V562.2m3.3-2.8V565.3m3.3-4.9V565m3.3-5.3V564.5m3.3-7.1V562.5m3.3-5.4V561.7m3.3-3V563.2m3.3-5.3V562.4m3.3-3.6V563.4m3.3-3.8V564.1m3.3-5.4V563.3m3.3-2.8V565.1m3.3-5.8V563.8m3.2-4.2V564.2m3.3-4.3V564.5m3.3-5.4V563.7m3.3-4.7V563.5m3.3-2.8V565.3m3.3-3.8V566.1m3.3-4.9V565.8m3.3-2.8V568.2m3.3-3.5V569.3m3.3-5.6V568.2m3.3-4.3V569m3.3-7.5V566.7m3.3-5.3V566.7m3.3-2.8V569.2m3.3-5V568.7m3.3-5.6V567.7m3.3-4.1V568.7m3.2-2.8V571m3.3-3.7V571.9m3.3-4.5V571.9m3.3-5.5V570.9m3.3-3.3V572.1m3.3-4.3V572.4m3.3-5.8V571.2m3.3-5.9V569.9m3.3-4.1V570.4m3.3-3.2V571.8m3.3-3.1V573.2m3.3-4.7V573.1m3.3-5.2V572.4m3.3-3.6V573.4m3.3-3.8V574.1m3.3-6V572.7m3.3-5.3V571.9m3.2-4.8V571.7m3.3-4.5V571.7m3.3-3.3V573m3.3-4.1V573.4m3.3-4.8V573.2m3.3-6.1V571.8m3.3-2.8V573.8m3.3-5.1V573.2m3.3-4.5V573.3m3.3-3.3V575.1m3.3-2.8V576.9" stroke="#fff" stroke-width="4.4"/>
<path class="k" d="M1002.6 557.5V562.1m3.3-5.4V561.3m3.3-4.3V561.5m3.3-4.9V562.8m3.3-2.7V566.6m3.3-4V567.2m3.3-6V565.8m3.3-3.7V566.6m3.3-5.2V566m3.3-5V566.7m3.3-8.6V563.8m3.3-4.3V564.1m3.3-6.2V563.3m3.3-7.2V560.8m3.3-2.8V562.7m3.3-4.4V562.9m3.3-6.1V561.3m3.2-5.3V560.5m3.3-4.7V560.3m3.3-5.6V559.3m3.3-3.3V560.6m3.3-3.5V561.6m3.3-6.3V559.9m3.3-5V559.5m3.3-3.3V560.8m3.3-6.3V559.1m3.3-4.1V559.6m3.3-7V558.8m3.3-9.2V555.4m3.3-5V554.9m3.3-5.6V553.9m3.3-6.2V552.4m3.3-6.6V550.5m3.3-5V550.1m3.2-3.8V550.9m3.3-6.4V550.7m3.3-10.9V547.3m3.3-9.5V542.6m3.3-5.8V541.4m3.3-4.5V542.4m3.3-8.3V540.9m3.3-2.8V545m3.3-10.9V541.1m3.3-8.6V537m3.3-5.5V536m3.3-2.7V538m3.3-3.9V538.7m3.3-5.9V537.3m3.3-5.9V536m3.3-4.9V535.6m3.3-6.4V534.6m3.2-10.9V532m3.3-11.6V527.2m3.3-2.8V531.1m3.3-9.6V529.6m3.3-14.4V524.3m3.3-11.6V518.7m3.3-2.7V522m3.3-10.4V519.2m3.3-13.3V514.4m3.3-12.1V508.7m3.3-9.3V505.7m3.3-19.1V502.2m3.3-24.9V489.4m3.3-15.6V483.2m3.3-15.9V476.6m3.3-6.9V476m3.3-2.8V477.8m3.2-2.8V480.4m3.3-2.8V482.9m3.3-3.2V484.2m3.3-4.1V489m3.3-2.8V495.1m3.3-8.3V493.2m3.3-9.3V489.6m3.3-7.3V486.8m3.3-4V487.4m3.3-4.3V489.1m3.3-2.7V495.1m3.3-2.8V503.1m3.3-2.8V511.2m3.3-2.8V520m3.3-2.7V526.1m3.3-6.6V527.4m3.3-2.8V532.4m3.2-3.8V533.3m3.3-2.9V535.4m3.3-9.2V533.1m3.3-8.8V530.5m3.3-2.7V534m3.3-6.9V532m3.3-4.3V534.9m3.3-2.7V538.9m3.3-4.7V538.7m3.3-3.2V540.9m3.3-2.9V542.6m3.3-4.1V543.1m3.3-5V542.7m3.3-4.2V543.1m3.3-3.9V543.7m3.3-3.3V544.9m3.3-2.7V549.2m3.2-2.8V551.8m3.3-7.6V550.6m3.3-2.7V554.3m3.3-3.9V555m3.3-5.3V554.2m3.3-3.6V555.2m3.3-2.9V557m3.3-3.7V557.9m3.3-6.2V556.3m3.3-4.1V556.8m3.3-4V557.3m3.3-6V556.2m3.3-2.8V558.3m3.3-3V560.2m3.3-2.9V562.4m3.3-7.5V560.6m3.3-2.7V563.6m3.2-6.7V561.7m3.3-4.2V562m3.3-2.9V563.6m3.3-3.2V564.9m3.3-4.5V565m3.3-5.5V564.1m3.3-5.1V563.6m3.3-3.5V564.7m3.3-5.7V563.5m3.3-3.2V564.9m3.3-4V565.4m3.3-5.9V564m3.3-5.2V564.3m3.3-2.8V567m3.3-5.5V566m3.3-3.3V567.3m3.3-4.6V567.2m3.2-6.1V566m3.3-6.7V563.8m3.3-3.6V564.8m3.3-5V564.4m3.3-3.3V565.7m3.3-5.6V564.7m3.3-2.8V566.5m3.3-6.3V564.8m3.3-2.8V566.5m3.3-5.9V565.7m3.3-2.8V568m3.3-5.7V566.8m3.3-3.8V567.6m3.3-3.4V568.8m3.3-4.4V569m3.3-5.9V567.6m3.3-5.6V566.6m3.2-3.9V567.2m3.3-3.3V568.5m3.3-4.3V568.8m3.3-4.4V569.5m3.3-2.8V571.9m3.3-6.5V570.2m3.3-5.5V569.3m3.3-3.1V571.4m3.3-3.1V572.9m3.3-5.3V572.2m3.3-3.5V573.3m3.3-6V571.8m3.3-3.5V572.9m3.3-3.6V573.9m3.3-4V574.4m3.3-5.3V573.6m3.3-4.8V573.4m3.2-4.2V573.7m3.3-6V572.2m3.3-4.7V572.1m3.3-5.5V571.2m3.3-5.1V570.7m3.3-4.4V570.8m3.3-4.1V571.2m3.3-4.4V571.8m3.3-2.7V574.1m3.3-5V574.4m3.3-2.8V576.9" stroke="#f00" stroke-width="4.4"/>
<path class="k" d="M1002.6 562.4V571.7m3.3-15.9V565.1m3.3-8.4V563.4m3.3-2.7V566.5m3.3-4.4V566.7m3.3-4.2V567m3.3-3.3V568.3m3.3-5.1V569.1m3.3-9V566m3.3-5.4V565.2m3.3-5.7V564.5m3.3-6.9V562.5m3.3-2.8V564.6m3.3-6.7V563.8m3.3-8.1V560.7m3.3-5.2V560.1m3.3-4.1V561.3m3.2-2.8V563.8m3.3-4.7V563.7m3.3-6V562.2m3.3-6.6V560.6m3.3-6.8V558.4m3.3-3.4V559.7m3.3-4V560.3m3.3-7.2V558.5m3.3-6.3V557.6m3.3-2.7V560.3m3.3-8.1V558.3m3.3-2.8V561.6m3.3-6.5V560.8m3.3-7.8V557.9m3.3-3V559.7m3.3-5.6V558.7m3.3-6.2V557.1m3.2-6.7V555.3m3.3-6.7V553.2m3.3-9.3V551.5m3.3-11.6V546.6m3.3-4.7V546.7m3.3-7.5V545.1m3.3-7.6V542m3.3-5V541.6m3.3-5.4V542.1m3.3-10.5V539m3.3-8.8V536m3.3-2.8V539m3.3-4.5V539.1m3.3-5.2V538.5m3.3-4.9V538.7m3.3-8.3V536.4m3.3-8.3V533.2m3.2-6.4V532.6m3.3-3.1V535.8m3.3-9.7V532.3m3.3-4.8V532.1m3.3-5.6V531.8m3.3-12V529.3m3.3-13.7V522.6m3.3-11.4V520.4m3.3-22.7V513.9m3.3-24.1V500.5m3.3-17.5V492.6m3.3-16.5V485.8m3.3-10.9V479.6m3.3-2.8V481.5m3.3-5.2V481.1m3.3-6.4V481.9m3.3-2.8V486.3m3.2-7V484.2m3.3-5.2V483.6m3.3-6.5V483.8m3.3-4.1V487.7m3.3-13.5V482.5m3.3-12.9V477m3.3-12.9V472.4m3.3-9.5V469.3m3.3-2.7V473.5m3.3-2.8V476.4m3.3-2.7V479m3.3-7.5V482.5m3.3-2.8V491.3m3.3-2.8V502.9m3.3-2.8V518.7m3.3-2.7V523.5m3.3-5.1V523m3.2-4.5V523m3.3-3.8V529.9m3.3-2.8V537.7m3.3-8.9V535.3m3.3-2.7V539.1m3.3-5.9V538.8m3.3-3.3V541.6m3.3-9.4V538.3m3.3-5.1V540.6m3.3-2.8V545m3.3-4.6V545.8m3.3-7.9V543.2m3.3-4.6V546.4m3.3-2.7V550.8m3.3-4.7V551.1m3.3-2.8V553.3m3.3-6.9V551.2m3.2-3.4V552.4m3.3-4V552.9m3.3-5V552.4m3.3-3V554.8m3.3-2.9V556.5m3.3-4.6V556.5m3.3-7.1V554.6m3.3-6.1V553m3.3-2.9V556.4m3.3-2.8V558.6m3.3-6.3V557m3.3-3.1V558.8m3.3-7V557m3.3-2.8V559.4m3.3-3.1V560.8m3.3-2.9V562.5m3.3-4.6V562.5m3.2-5.4V562m3.3-6.9V560.1m3.3-2.8V563.2m3.3-4.4V563.9m3.3-7.4V561.6m3.3-3.5V562.8m3.3-4.1V563.3m3.3-6.1V562m3.3-2.8V564.1m3.3-6.4V562.9m3.3-2.8V565.4m3.3-5.5V564.6m3.3-3.3V566.6m3.3-7.7V564.1m3.3-4.6V564.6m3.3-3.6V566.3m3.3-7.7V563.8m3.2-5.7V562.7m3.3-3.6V563.7m3.3-3.5V564.8m3.3-4.9V564.4m3.3-5.7V563.3m3.3-3.3V565m3.3-2.9V566.6m3.3-5.1V566m3.3-3.6V567m3.3-3.4V568.4m3.3-6.8V566.4m3.3-3.6V567.4m3.3-6.2V565.8m3.3-3.2V568m3.3-3.1V569.4m3.3-5.7V568.2m3.3-4.7V568m3.2-4.8V568m3.3-2.8V570m3.3-3.7V570.8m3.3-3.9V571.5m3.3-4.5V571.6m3.3-5.9V570.3m3.3-6V568.8m3.3-3.2V570.2m3.3-3.4V571.4m3.3-4.8V571.2m3.3-2.9V573m3.3-6.5V571.1m3.3-2.9V572.8m3.3-4V573.4m3.3-4.7V573.3m3.3-5.5V572.3m3.3-3.8V573.1m3.2-3.2V574.4m3.3-5.9V573.1m3.3-5.8V571.9m3.3-4.3V572.2m3.3-4.7V572m3.3-3.6V572.9m3.3-6.1V571.4m3.3-5.4V570.5m3.3-4.3V570.7m3.3-3.5V573.5m3.3-2.7V576.9" stroke="#0f0" stroke-width="4.4"/>
<path class="k" d="M1002.6 561V570.3m3.3-15.9V563.8m3.3-9.4V558.9m3.3-3.8V561.2m3.3-2.8V564.7m3.3-3.6V565.6m3.3-5V565.2m3.3-4.9V564.8m3.3-5.1V564.2m3.3-4.8V563.9m3.3-4V564.5m3.3-5.1V564m3.3-6.3V562.8m3.3-2.8V565.2m3.3-6.6V564.2m3.3-7.5V561.7m3.3-2.8V563.8m3.2-4.8V563.6m3.3-4.7V563.5m3.3-7.7V561.9m3.3-8V558.6m3.3-5.1V558.1m3.3-4.4V558.2m3.3-4.6V558.8m3.3-3V561.2m3.3-7.9V558.6m3.3-5.7V557.5m3.3-5.4V556.7m3.3-6.1V555.2m3.3-6.3V553.4m3.3-6.1V551.9m3.3-5.3V551.2m3.3-4.8V551.8m3.3-8V549.7m3.2-3.5V552.9m3.3-11.2V549m3.3-8V545.6m3.3-4.9V547.2m3.3-10.6V543.5m3.3-7.4V541.6m3.3-2.7V544.4m3.3-8.3V541.6m3.3-4.4V541.8m3.3-8.8V540m3.3-9.5V535.8m3.3-3.8V537m3.3-7.1V534.8m3.3-4.7V534.7m3.3-6.4V533.3m3.3-11.3V531.1m3.3-14.2V524.7m3.2-5V528.2m3.3-15.3V522.5m3.3-10.7V516.6m3.3-6.2V518.6m3.3-14.8V513.2m3.3-12.7V506.5m3.3-8V503.6m3.3-5.8V505.9m3.3-13.3V500.6m3.3-6.2V500.3m3.3-12.1V497.1m3.3-12V490.9m3.3-3.9V493m3.3-3.7V494.2m3.3-7.3V492m3.3-6.8V489.8m3.3-6.9V488.2m3.2-6.6V487m3.3-2.7V489.7m3.3-12.7V487.9m3.3-22.1V479.8m3.3-19.9V468.6m3.3-10.5V462.7m3.3-5.6V461.8m3.3-4.7V463.7m3.3-11.4V459.9m3.3-8.5V459.7m3.3-2.8V470.2m3.3-2.8V477.5m3.3-2.8V485m3.3-2.8V492.2m3.3-2.7V500.5m3.3-2.7V512m3.3-2.8V520.5m3.2-2.8V523.7m3.3-8.6V524.3m3.3-2.8V530.7m3.3-6.4V530.6m3.3-2.8V534.2m3.3-3.9V534.9m3.3-4.3V535.1m3.3-3.9V536.4m3.3-2.8V538.9m3.3-3.3V542.4m3.3-2.8V546.4m3.3-5.6V545.7m3.3-6.8V543.6m3.3-5V544.7m3.3-2.8V548.9m3.3-4.9V549.8m3.3-8.9V546.7m3.2-3.4V551m3.3-2.7V553.5m3.3-7V551.4m3.3-2.9V554.6m3.3-2.8V556.3m3.3-3.4V557.4m3.3-3.9V558.1m3.3-4.4V558.3m3.3-5.7V557.2m3.3-4.4V557.4m3.3-3V558.9m3.3-6.2V557.2m3.3-3.2V558.6m3.3-3.8V559.4m3.3-3.7V560.3m3.3-2.8V562m3.3-4.3V562.2m3.2-4.5V562.2m3.3-4.4V562.3m3.3-5.6V561.3m3.3-4.3V561.5m3.3-3V563.2m3.3-3V564.7m3.3-3.9V565.4m3.3-6.3V563.9m3.3-6.1V562.4m3.3-3.7V563.2m3.3-4.1V563.6m3.3-4.3V563.8m3.3-3.4V564.9m3.3-3.9V565.5m3.3-4.8V565.3m3.3-5.4V564.5m3.3-5V564.4m3.2-2.8V566.4m3.3-5.8V565.6m3.3-2.7V567.8m3.3-6.3V566.6m3.3-6.6V564.5m3.3-3.5V565.5m3.3-2.9V567.1m3.3-3.2V568.5m3.3-5.2V567.9m3.3-5.4V567m3.3-5.5V566.1m3.3-4.7V566m3.3-3V567.5m3.3-4.5V567.6m3.3-5V567.2m3.3-4.4V567.4m3.3-3.8V568.2m3.2-4.4V568.3m3.3-2.8V570.1m3.3-4.2V570.5m3.3-6.1V569m3.3-2.9V571.1m3.3-3.2V572.4m3.3-4.4V572.6m3.3-5.5V571.6m3.3-4.5V571.6m3.3-3.9V572.2m3.3-4.5V572.3m3.3-5.8V571.1m3.3-2.9V572.8m3.3-5V572.4m3.3-2.9V574m3.3-5.2V573.3m3.3-5.2V572.7m3.2-3.1V574.2m3.3-6V573m3.3-6.2V571.4m3.3-4.4V571.5m3.3-3.9V572.2m3.3-3.9V572.9m3.3-3.9V573.6m3.3-4.8V573.4m3.3-4.1V573.9m3.3-3.3V575.4m3.3-2.9V577" stroke="#00f" stroke-width="4.4"/>
<path class="k" d="M1002.6 564.8V572.4m3.3-17.6V567.6m3.3-18.1V557.6m3.3-4.6V559.3m3.3-6.4V557.5m3.3-2.9V560.1m3.3-3.1V561.5m3.3-3.4V563.5m3.3-2.7V566.2m3.3-7.4V563.9m3.3-4V564.5m3.3-6.8V562.8m3.3-6.2V561.2m3.3-3.6V562.2m3.3-4V562.8m3.3-4V563.4m3.3-5.7V563.1m3.2-7.9V560.5m3.3-4.5V560.5m3.3-4V561m3.3-6.8V559.7m3.3-7.2V557.1m3.3-2.9V559m3.3-6.8V557.3m3.3-2.8V559.8m3.3-5.9V560m3.3-9.8V556.7m3.3-7.8V553.5m3.3-4.8V553.3m3.3-3.7V554.2m3.3-4V554.7m3.3-6.4V553.4m3.3-9V551.1m3.3-9V547.2m3.2-3.9V547.9m3.3-4.3V548.2m3.3-8.1V546.7m3.3-9.3V543.2m3.3-2.8V546.2m3.3-8.4V544.5m3.3-8.9V540.6m3.3-4.4V541.8m3.3-10.2V539m3.3-9V534.7m3.3-2.8V536.6m3.3-3.3V537.9m3.3-5.5V538m3.3-8.5V535.1m3.3-3.7V536m3.3-6.6V534.3m3.3-8.7V532.2m3.2-12.4V528.4m3.3-11.1V522.6m3.3-5.6V524.2m3.3-11.6V519.8m3.3-3.5V522.8m3.3-12.6V520.8m3.3-18.2V513m3.3-12.9V505.4m3.3-6V504.7m3.3-2.8V507.3m3.3-7.9V504.7m3.3-5.4V505m3.3-8.7V502.7m3.3-2.8V506.4m3.3-5.3V505.6m3.3-11.9V504m3.3-17.4V496.5m3.2-9.8V493.5m3.3-2.8V498.1m3.3-8.2V499m3.3-15.4V492.7m3.3-8.3V489.6m3.3-6.4V491.3m3.3-13.4V486m3.3-4.6V487.8m3.3-6.8V486.9m3.3-8V486.6m3.3-2.8V495.3m3.3-2.8V499.6m3.3-2.8V503.8m3.3-2.7V507.6m3.3-6.4V505.8m3.3-2.8V512.7m3.3-2.8V520.5m3.2-3.1V523.2m3.3-8.7V523m3.3-2.8V528.7m3.3-6.1V527.1m3.3-3.8V527.8m3.3-3V529.9m3.3-2.8V533.5m3.3-2.7V535.4m3.3-3.3V536.7m3.3-2.8V540.2m3.3-2.9V541.8m3.3-3.5V543.4m3.3-3.4V545.7m3.3-8.6V542.7m3.3-4V543.3m3.3-4.4V543.5m3.3-3.8V548.1m3.2-2.8V553.7m3.3-4.2V554.1m3.3-5.9V552.8m3.3-4.8V552.8m3.3-2.9V554.9m3.3-7.2V552.7m3.3-5.1V554m3.3-2.8V558.2m3.3-3.4V559.4m3.3-3.8V560.1m3.3-5.6V560.4m3.3-9.1V557.3m3.3-2.9V560.2m3.3-8V557.6m3.3-4.1V559m3.3-3V560.6m3.3-5.7V559.5m3.2-4.8V559.3m3.3-4.1V560.6m3.3-2.8V563.2m3.3-7.8V560.7m3.3-4.1V561.1m3.3-3.3V562.3m3.3-4V562.8m3.3-4.9V562.5m3.3-5.8V562.5m3.3-2.7V565.6m3.3-6.3V564.2m3.3-2.8V566.3m3.3-4.9V566m3.3-5.1V565.5m3.3-4.7V565.4m3.3-6.3V563.7m3.3-5.2V563m3.2-4.3V563.3m3.3-3.5V564.3m3.3-5.8V563m3.3-3.7V563.9m3.3-4.4V565m3.3-2.8V567.8m3.3-7.3V565.5m3.3-5.5V564.5m3.3-3.3V565.7m3.3-3.1V567.2m3.3-5V566.7m3.3-3.2V568m3.3-4.2V568.6m3.3-6.8V567.3m3.3-2.7V570.3m3.3-5.1V570.5m3.3-7.9V568m3.2-4.6V568.4m3.3-3V569.9m3.3-5.6V568.9m3.3-3.8V570.1m3.3-2.8V571.9m3.3-4.8V571.6m3.3-5V571.2m3.3-5.5V570.3m3.3-3.3V571.5m3.3-4.2V571.8m3.3-3.3V573m3.3-6.2V571.5m3.3-5.5V570.6m3.3-3.1V572.1m3.3-4.5V572.1m3.3-3.7V573m3.3-3.6V573.9m3.2-3.9V574.5m3.3-6V573.5m3.3-7.2V571.2m3.3-6.1V569.7m3.3-4.4V570.3m3.3-2.8V572.5m3.3-6.4V570.7m3.3-4.3V571m3.3-5.4V570.2m3.3-3.6V573m3.3-2.7V576.3" stroke="#f0f" stroke-width="4.4"/>
<path class="k" d="M1002.4 552V565.1" stroke="#f00" stroke-width="4.4"/>
<text class="m" transform="translate(995.2 431.8) scale(1 1.052)" font-size="26.1" letter-spacing="3.4" text-anchor="end">600</text>
<text class="m" transform="translate(995.2 484) scale(1 1.052)" font-size="26.1" letter-spacing="3.4" text-anchor="end">400</text>
<text class="m" transform="translate(995.2 537.1) scale(1 1.052)" font-size="26.1" letter-spacing="3.4" text-anchor="end">200</text>
<text class="m" transform="translate(995.2 588.8) scale(1 1.052)" font-size="26.1" letter-spacing="3.4" text-anchor="end">0</text>
<text class="m" transform="translate(1004.1 623.7) scale(1 1.052)" font-size="26.1" letter-spacing="3.4" text-anchor="middle">0</text>
<text class="m" transform="translate(1097.1 623.7) scale(1 1.052)" font-size="26.1" letter-spacing="3.4" text-anchor="middle">40</text>
<text class="m" transform="translate(1190.2 623.7) scale(1 1.052)" font-size="26.1" letter-spacing="3.4" text-anchor="middle">80</text>
<text class="m" transform="translate(1283.2 623.7) scale(1 1.052)" font-size="26.1" letter-spacing="3.4" text-anchor="middle">120</text>
<text class="m" transform="translate(1376.2 623.7) scale(1 1.052)" font-size="26.1" letter-spacing="3.4" text-anchor="middle">160</text>
<text class="m" transform="translate(1469.2 623.7) scale(1 1.052)" font-size="26.1" letter-spacing="3.4" text-anchor="middle">200</text>
<text class="m" transform="translate(1562.2 623.7) scale(1 1.052)" font-size="26.1" letter-spacing="3.4" text-anchor="middle">240</text>
<text class="m" transform="translate(1655.2 623.7) scale(1 1.052)" font-size="26.1" letter-spacing="3.4" text-anchor="middle">280</text>
<text class="m l" transform="translate(1164.3 672.5) scale(1 0.889)" font-size="31.9" text-anchor="start" textLength="322.7" lengthAdjust="spacingAndGlyphs">Location (pixels)</text>
<text class="c" transform="translate(911.6 495.5) rotate(-90) scale(1 .95)" font-size="31.1" text-anchor="middle" textLength="112.1" lengthAdjust="spacingAndGlyphs">counts</text>
</g>
<g id="panel-e">
<rect x="2.6" y="773.1" width="839" height="325.6" fill="#000"/>
<path class="ax" d="M124.6 810.2H785.7V969.3H124.6ZM124.6 963.8V974.8M171.8 963.8V974.8M219 963.8V974.8M266.3 963.8V974.8M313.5 963.8V974.8M360.7 963.8V974.8M407.9 963.8V974.8M455.1 963.8V974.8M502.4 963.8V974.8M549.6 963.8V974.8M596.8 963.8V974.8M644 963.8V974.8M691.3 963.8V974.8M738.5 963.8V974.8M785.7 963.8V974.8M119.1 969.3H130.1M119.1 929.5H130.1M119.1 889.8H130.1M119.1 850H130.1M119.1 810.2H130.1"/>
<path class="k" d="M126.3 952.7V957.8m3.3-7.5V955.5m3.4-3.4V958.5m3.3-2.8V960.4m3.4-5.1V959.9m3.3-3.4V961.3m3.3-3.6V962.4m3.4-6.6V960.5m3.3-4.8V960.3m3.4-4.2V960.7m3.3-2.9V962.4m3.4-4.4V962.6m3.3-6.3V960.9m3.4-3.4V962.1m3.3-5.3V961.4m3.3-5.2V960.8m3.4-5.1V960.3m3.3-3.2V961.7m3.4-4.6V961.7m3.3-5.9V960.6m3.4-6.7V958.6m3.3-4V959.2m3.4-3.3V960.5m3.3-4.8V961m3.3-7.8V958.5m3.4-5.1V958m3.3-3V959.6m3.4-4.5V959.7m3.3-7.5V958.6m3.4-9.8V955m3.3-6.5V953.1m3.4-5.6V953.1m3.3-8.4V950.3m3.3-5.3V950.1m3.4-8.6V947.8m3.3-8V944.4m3.4-6.4V942.7m3.3-6.3V941m3.4-6V939.6m3.3-6V938.2m3.4-5.5V937.3m3.3-5.9V936m3.3-9.9V934.3m3.4-14.5V928.9m3.3-13.8V922.6m3.4-14.5V917.9m3.3-14.3V910.9m3.4-9.9V906.4m3.3-9.4V903.8m3.4-12.5V899.8m3.3-12.2V894.1m3.4-5.9V893.3m3.3-2.8V897m3.3-2.8V900.9m3.4-4.4V902.7m3.3-10V899.3m3.4-7V897m3.3-2.8V898.9m3.4-4.9V898.6m3.3-4.3V898.9m3.4-3V900.6m3.3-5.3V899.9m3.3-4.3V900.2m3.4-3.8V901m3.3-3.2V904.9m3.4-2.8V911.6m3.3-2.8V914.9m3.4-5.1V914.4m3.3-3V920.3m3.4-2.8V925m3.3-6.1V924m3.3-2.8V927.2m3.4-3.1V928.7m3.3-3.5V929.8m3.4-3.6V930.8m3.3-3.3V934.2m3.4-2.8V938.8m3.3-2.8V940.6m3.4-3.6V941.6m3.3-6V940.4m3.3-2.8V944.2m3.4-3.3V946.1m3.3-7.5V943.7m3.4-4.2V944.3m3.3-2.8V946.7m3.4-3V948.3m3.3-4.7V949.5m3.4-2.8V952.6m3.3-4.5V952.7m3.4-4V953.3m3.3-3.9V954.1m3.3-5.9V953.3m3.4-2.8V955.6m3.3-6.6V953.7m3.4-4.8V953.5m3.3-5.7V952.4m3.4-5.1V951.9m3.3-4.2V952.3m3.4-4.8V952.1m3.3-3.8V952.9m3.3-2.9V954.6m3.4-2.9V956.9m3.3-2.8V958.9m3.4-6.3V957.3m3.3-2.8V959.3m3.4-3.7V960.2m3.3-3.6V961.6m3.4-7.1V959.4m3.3-4.6V960.2m3.3-2.8V962.4m3.4-5.3V961.7m3.3-5.3V961m3.4-4.4V961.2m3.3-4V961.8m3.4-3.6V962.8m3.3-5.7V961.7m3.4-3.4V962.9m3.3-4.4V963.1m3.3-3.6V964.1m3.4-5.3V963.4m3.3-3.6V964.4m3.4-4.8V964.2m3.3-6.3V962.5m3.4-4.3V962.8m3.3-3.3V964.1m3.4-3.8V964.9m3.3-4.4V965.1m3.3-4.4V965.4m3.4-6.4V963.6m3.3-4.3V963.9m3.4-3.8V964.7m3.3-4.2V965.1m3.4-4.1V965.6m3.3-4V966.2m3.4-4.8V966m3.3-5.4V965.3m3.4-3.8V966.1m3.3-4.4V966.4m3.3-5.8V965.2m3.4-4.4V965.4m3.3-4.9V965.1m3.4-5V964.7m3.3-3.5V965.8m3.4-3.6V966.8m3.3-4.4V967m3.4-5.4V966.2m3.3-3.9V966.9m3.3-5.2V966.4m3.4-4.7V966.3m3.3-3.8V967.1m3.4-5V966.7m3.3-5.6V965.7m3.4-3.9V966.4m3.3-4.8V966.2m3.4-5.1V965.7m3.3-3V967.3m3.3-3.9V968m3.4-5.7V966.9m3.3-5.4V966.1m3.4-4.5V966.3m3.3-3.3V967.6m3.4-4.2V968.1m3.3-6.1V966.6m3.4-4V967.2m3.3-4.3V967.5m3.3-4.9V967.3m3.4-5.1V966.8m3.3-4.1V967.3m3.4-4.5V967.4m3.3-3.9V968.1m3.4-5.7V967m3.3-4.6V967m3.4-3.2V968.4m3.3-4.8V968.2m3.3-5.5V967.3m3.4-3.4V968.5m3.3-4.9V968.2m3.4-4.2V968.6m3.3-4.2V969.1m3.4-4.1V969.6m3.3-3.8V970.4" stroke="#fff" stroke-width="4.4"/>
<path class="k" d="M126.3 961.8V968.1m3.3-9.8V964.6m3.4-7.6V961.6m3.3-5.5V960.7m3.4-3.6V961.8m3.3-3.9V962.5m3.3-5.2V961.9m3.4-5.9V960.6m3.3-5.4V960.1m3.4-2.8V962.1m3.3-5.8V960.9m3.4-4.6V960.9m3.3-3.1V962.4m3.4-6V961.1m3.3-5.2V960.5m3.3-3.8V961.3m3.4-3.6V962.3m3.3-6V960.9m3.4-4.8V960.7m3.3-5.7V959.6m3.4-3.5V961.2m3.3-7.4V958.9m3.4-4.8V958.7m3.3-4.7V958.6m3.3-3.8V959.4m3.4-4V960m3.3-6.8V958.8m3.4-7.6V956m3.3-6.8V955.9m3.4-10.6V952m3.3-6.9V950.3m3.4-9.7V947.9m3.3-9.6V943.4m3.3-4.2V943.8m3.4-6.2V942.2m3.3-4.6V942.2m3.4-9V941m3.3-12.2V936m3.4-6.7V936.4m3.3-13.2V932.1m3.4-11.5V926.1m3.3-6.8V923.9m3.3-6.7V924.7m3.4-16.3V920m3.3-18.7V911.2m3.4-16.5V904.1m3.3-15.6V897.5m3.4-12.9V891.3m3.3-8.3V887.6m3.4-3.6V890.1m3.3-4V892.7m3.4-10.3V890.5m3.3-2.8V896.4m3.3-3.5V897.6m3.4-4.4V897.8m3.3-3.3V899.2m3.4-5V898.8m3.3-4.7V900.7m3.4-10.4V896.9m3.3-4.7V896.8m3.4-8.9V896.3m3.3-15V890.7m3.3-11V884.3m3.4-4.2V887.3m3.3-2.8V894.5m3.4-2.8V898.2m3.3-2.8V905.7m3.4-2.8V912.6m3.3-7.9V914m3.4-2.8V920.5m3.3-2.9V922.4m3.3-3.4V924.3m3.4-7.8V922.6m3.3-2.8V926.6m3.4-2.8V930.3m3.3-2.8V933.3m3.4-3.6V935.6m3.3-2.8V939.7m3.4-3.2V941.1m3.3-3.6V942.8m3.3-2.8V945.2m3.4-4.2V946.8m3.3-2.8V949.8m3.4-5.1V949.3m3.3-4V950.7m3.4-2.8V953.2m3.3-5.7V952.5m3.4-2.8V957m3.3-3.3V959.3m3.4-8.3V956.5m3.3-5.9V955.2m3.3-5.4V954.4m3.4-5.6V953.4m3.3-5.5V953m3.4-7.5V950.7m3.3-2.9V952.8m3.4-5.3V952.1m3.3-3.6V954.4m3.4-2.8V959m3.3-2.8V961.1m3.3-6.8V959.6m3.4-6.6V957.6m3.3-3.3V958.9m3.4-3.6V959.9m3.3-4.9V959.6m3.4-3.6V960.6m3.3-3.3V962m3.4-4.7V961.9m3.3-5.1V961.4m3.3-5.2V960.8m3.4-4.9V960.5m3.3-4.7V960.4m3.4-4.1V960.9m3.3-3.8V961.7m3.4-4.1V962.2m3.3-4.6V962.3m3.4-4.2V962.7m3.3-3.8V963.6m3.3-4.6V963.6m3.4-5.1V963.1m3.3-4.8V962.9m3.4-3.9V963.7m3.3-3.4V964.9m3.4-5.3V964.2m3.3-3.6V965.2m3.4-5.2V964.7m3.3-4.2V965.1m3.3-4.8V964.9m3.4-3.7V965.9m3.3-6.4V964.3m3.4-5.8V963.2m3.3-3.2V964.6m3.4-3.4V965.8m3.3-4V966.4m3.4-5.6V965.4m3.3-4V966m3.4-3.9V966.7m3.3-5V966.3m3.3-5.6V965.3m3.4-3.2V966.7m3.3-5.1V966.3m3.4-6.4V964.5m3.3-4.9V964.2m3.4-3.8V965m3.3-3.6V966m3.4-3.8V966.9m3.3-5.6V965.9m3.3-3.9V966.6m3.4-4.8V966.4m3.3-3.8V967.2m3.4-5.8V966m3.3-5.6V965m3.4-3.9V965.7m3.3-3.1V967.2m3.4-4.7V967.1m3.3-4.8V966.9m3.3-4.1V967.4m3.4-5.1V966.9m3.3-5.2V966.3m3.4-4.7V966.2m3.3-3.5V967.4m3.4-4V968.1m3.3-5.4V967.3m3.4-4.6V967.3m3.3-5.2V966.7m3.3-4.9V966.4m3.4-4.5V966.5m3.3-4V967.1m3.4-3.8V967.9m3.3-4.1V968.4m3.4-4.5V968.6m3.3-5.8V967.4m3.4-3.7V968.3m3.3-4.7V968.2m3.3-5.5V967.3m3.4-4.7V967.2m3.3-4.9V966.9m3.4-3.5V968m3.3-4.8V967.9m3.4-5.7V967.5m3.3-2.8V969.9" stroke="#f00" stroke-width="4.4"/>
<path class="k" d="M126.3 962V968.1m3.3-11.2V964.8m3.4-9.7V959.8m3.3-4.7V959.7m3.4-5.1V959.2m3.3-3.7V960.1m3.3-3.7V961m3.4-3.3V962.3m3.3-4.5V962.4m3.4-4.8V962.2m3.3-6.2V960.7m3.4-3.3V962.1m3.3-4.9V961.9m3.4-5.8V960.7m3.3-5.2V960.1m3.3-5.4V959.3m3.4-4.8V959.1m3.3-4V959.7m3.4-5.9V958.4m3.3-4.9V958.2m3.4-4.2V958.6m3.3-4.9V958.3m3.4-4.1V958.8m3.3-4.1V959.3m3.3-5.6V958.7m3.4-7.2V956.5m3.3-5V956.8m3.4-7.7V954.3m3.3-5.9V953m3.4-6.4V951.2m3.3-4.3V951.6m3.4-6.3V950.5m3.3-7.1V948.1m3.3-7.2V948.3m3.4-13V943.7m3.3-10V938.3m3.4-5.7V937.2m3.3-6.6V935.9m3.4-11.5V933.4m3.3-15V927.3m3.4-13.2V921.2m3.3-9.3V916.9m3.3-7.6V914.9m3.4-14.1V912.1m3.3-19.3V903.6m3.4-17V895.6m3.3-18.1V889.4m3.4-17.1V880.3m3.3-10.1V878m3.4-12.7V873m3.3-5.1V875.4m3.4-2.8V880.7m3.3-2.8V883.9m3.3-9.2V881.6m3.4-8.6V878.2m3.3-2.8V880.7m3.4-4.5V881.3m3.3-2.8V886.5m3.4-2.8V889.5m3.3-14V886.9m3.4-17.3V878.3m3.3-6.9V876.8m3.3-3.7V877.7m3.4-6.9V876m3.3-6.1V876.5m3.4-2.8V882.5m3.3-2.8V891.2m3.4-2.8V898.1m3.3-2.8V901.1m3.4-2.8V904.6m3.3-2.9V910.5m3.3-2.8V915.5m3.4-7.4V916.5m3.3-2.8V925m3.4-2.8V930.1m3.3-2.8V933m3.4-4V933.8m3.3-6.8V932.8m3.4-2.8V935.9m3.3-3.5V937m3.3-3.5V938.1m3.4-3.1V939.6m3.3-4.3V939.9m3.4-3.5V941.8m3.3-2.8V943.9m3.4-4.3V944.3m3.3-4.7V944.3m3.4-3.4V945.5m3.3-6.4V943.7m3.4-4.9V943.5m3.3-2.9V945.2m3.3-3.5V946.3m3.4-2.9V950.2m3.3-2.8V952.7m3.4-4.5V952.8m3.3-3.6V953.8m3.4-3.9V955.2m3.3-2.8V957.6m3.4-6.6V956.6m3.3-2.8V959.5m3.3-6.7V957.5m3.4-4.3V957.8m3.3-3.7V958.7m3.4-2.9V960.4m3.3-4.9V960.2m3.4-6.5V958.3m3.3-3.9V959m3.4-3.9V959.8m3.3-4.4V960m3.3-4.3V960.3m3.4-3.6V961.4m3.3-3.5V962.5m3.4-3.9V963.2m3.3-5.2V962.7m3.4-5.1V962.3m3.3-3.8V963.1m3.4-5.6V962.1m3.3-3.5V963.2m3.3-4V963.8m3.4-3.7V964.7m3.3-6.4V962.9m3.4-3.3V964.3m3.3-6V962.9m3.4-4.3V963.2m3.3-3.1V964.7m3.4-4.7V964.6m3.3-6.1V963.1m3.3-3.4V964.3m3.4-4V965m3.3-4.9V964.7m3.4-3.3V966m3.3-5.9V964.7m3.4-4.2V965.1m3.3-3.5V966.2m3.4-5.1V965.7m3.3-4.4V966m3.4-5.5V965.1m3.3-5.6V964.2m3.3-4.6V964.2m3.4-3.1V965.8m3.3-3.7V966.7m3.4-4.9V966.4m3.3-4.9V966.2m3.4-4.1V966.7m3.3-5.4V965.9m3.4-5.3V965.2m3.3-5V964.8m3.3-3.5V965.9m3.4-4V966.5m3.3-5V966.1m3.4-4.9V965.8m3.3-3.2V967.2m3.4-5V966.8m3.3-4.4V967m3.4-5.6V966m3.3-3.2V967.4m3.3-5.7V966.3m3.4-4.7V966.2m3.3-3.5V967.3m3.4-4.3V967.6m3.3-5.2V967m3.4-5.3V966.3m3.3-5V966m3.4-3.5V967.1m3.3-4.1V967.6m3.3-5.1V967.1m3.4-3.8V967.9m3.3-4.8V967.7m3.4-4.5V967.8m3.3-5.8V966.6m3.4-3.8V967.4m3.3-5.3V966.7m3.4-4.2V967.1m3.3-3.4V968.3m3.3-5V967.9m3.4-5.9V966.6m3.3-4.5V966.8m3.4-4V967.4m3.3-3.8V968.2m3.4-5.2V967.8m3.3-2.8V969.9" stroke="#0f0" stroke-width="4.4"/>
<path class="k" d="M126.3 962.7V968.1m3.3-9.4V965.5m3.4-8.4V961.7m3.3-4.3V962m3.4-4.1V962.5m3.3-4.7V962.4m3.3-5.4V961.6m3.4-5.8V960.4m3.3-4.4V960.6m3.4-3.3V961.9m3.3-3.8V962.7m3.4-4.8V962.5m3.3-4.2V962.9m3.4-4.3V963.2m3.3-5.2V962.7m3.3-5.9V961.4m3.4-4.9V961.1m3.3-5.2V960.5m3.4-4.6V960.5m3.3-5V960.1m3.4-3.3V961.4m3.3-5.8V960.2m3.4-4.3V960.5m3.3-5V960.1m3.3-3.6V961.1m3.4-3.8V962m3.3-6.2V960.5m3.4-5.9V959.2m3.3-5.7V958.1m3.4-6.6V956.4m3.3-6.2V954.8m3.4-5.9V953.5m3.3-9.3V951.8m3.3-14.1V947.1m3.4-13V940.5m3.3-10.1V936.9m3.4-10.1V933.2m3.3-9V929.6m3.4-10.3V927m3.3-12.8V922.1m3.4-17.9V917m3.3-23.2V907m3.3-17.5V896.6m3.4-15.4V892.3m3.3-26.2V884m3.4-33.9V868.9m3.3-26.7V853m3.4-13.3V850m3.3-17.8V842.5m3.4-12.8V835.7m3.3-9.2V832.8m3.4-2.8V839.1m3.3-3.4V841.9m3.3-9.6V838.5m3.4-4.9V838.8m3.3-7.7V836.4m3.4-3.9V842.3m3.3-2.9V850.7m3.4-2.8V861.2m3.3-2.8V875.7m3.4-2.8V887.2m3.3-2.8V894.4m3.3-2.8V902.9m3.4-2.8V909.2m3.3-2.8V911.6m3.4-2.8V919.5m3.3-2.8V925.4m3.4-6.9V923.4m3.3-2.8V926.6m3.4-3.1V928.1m3.3-4.7V928m3.3-2.8V931.4m3.4-2.9V933.1m3.3-5V932.7m3.4-3.8V933.5m3.3-3.4V936.3m3.4-2.8V940.9m3.3-3.6V942.2m3.4-6.9V940.1m3.3-3.7V942.8m3.3-2.8V947.4m3.4-2.8V950.5m3.3-3.2V952m3.4-5.1V951.5m3.3-6.2V949.9m3.4-4.5V951.1m3.3-2.9V953.9m3.4-5.8V953.8m3.3-2.8V957.1m3.4-3.5V958.2m3.3-5.3V957.5m3.3-5.1V957m3.4-4.2V957.4m3.3-5V957m3.4-3.1V958.5m3.3-4.3V958.8m3.4-6.1V957.3m3.3-4.4V957.8m3.4-2.8V959.8m3.3-5.8V958.6m3.3-4.6V958.6m3.4-3.3V959.9m3.3-5.9V958.7m3.4-3.3V960m3.3-2.9V961.7m3.4-3.2V963.2m3.3-5.3V962.5m3.4-4.5V962.6m3.3-5.1V962.1m3.3-4.9V961.8m3.4-4.2V962.2m3.3-3.7V963.1m3.4-4.9V962.8m3.3-4.7V962.7m3.4-5.7V961.7m3.3-4.7V961.6m3.4-3.8V962.5m3.3-3.8V963.4m3.3-4.3V963.7m3.4-5.1V963.2m3.3-4.6V963.2m3.4-5V962.9m3.3-3.2V964.3m3.4-4V964.9m3.3-6.2V963.3m3.4-4.5V963.4m3.3-3.3V964.7m3.3-3.9V965.4m3.4-4.6V965.4m3.3-4.6V965.4m3.4-4.2V965.8m3.3-4.8V965.6m3.4-5.6V964.6m3.3-4.7V964.6m3.4-5.2V964m3.3-3.1V965.5m3.4-3.7V966.4m3.3-5.5V965.5m3.3-5.8V964.4m3.4-3.3V965.7m3.3-3.7V966.6m3.4-6V965.2m3.3-5.2V964.6m3.4-3.9V965.3m3.3-4.3V965.6m3.4-4.2V966m3.3-4.7V965.9m3.3-4.4V966.1m3.4-3.7V967m3.3-4.4V967.2m3.4-4.7V967.1m3.3-5.6V966.1m3.4-5.3V965.4m3.3-3.4V966.6m3.4-5.4V965.8m3.3-3V967.4m3.3-5.1V966.9m3.4-5.3V966.3m3.3-3.6V967.3m3.4-5.4V966.5m3.3-5.5V965.6m3.4-4.1V966.1m3.3-2.8V967.9m3.4-4.9V967.6m3.3-4.2V968m3.3-5.3V967.3m3.4-4.8V967.1m3.3-3.7V968m3.4-5.6V967m3.3-4.8V966.8m3.4-4.6V966.8m3.3-4.5V966.9m3.4-4.8V966.7m3.3-3.2V968.2m3.3-3.7V969.1m3.4-5.4V968.3m3.3-5.8V967.1m3.4-4V967.7m3.3-4.8V967.5m3.4-3.5V968.6m3.3-3V970.2" stroke="#00f" stroke-width="4.4"/>
<path class="k" d="M126.3 962.1V968.1m3.3-11.2V964.9m3.4-10V959.8m3.3-5V959.4m3.4-3.2V960.8m3.3-3.6V961.8m3.3-4.7V961.7m3.4-4.8V961.5m3.3-3.8V962.3m3.4-6V960.9m3.3-3.5V962m3.4-5.1V961.5m3.3-4.7V961.4m3.4-3.8V962.2m3.3-6.4V960.6m3.3-2.9V962.7m3.4-7.2V960.5m3.3-3.3V961.8m3.4-3.8V962.6m3.3-5.5V961.8m3.4-5.9V960.5m3.3-5V960.1m3.4-2.8V961.9m3.3-5.9V960.7m3.3-5.9V959.4m3.4-4.7V959.3m3.3-5.1V958.8m3.4-3.5V959.9m3.3-6.2V958.3m3.4-7V957.6m3.3-9.7V954.1m3.4-5.7V953m3.3-8V952.1m3.3-12.2V947.8m3.4-10.6V942.7m3.3-10.4V940m3.4-11.4V935.1m3.3-9.5V931.4m3.4-9.3V928.4m3.3-12.8V924.9m3.4-19.9V918.4m3.3-22.4V907.8m3.3-17.9V898.8m3.4-19.3V892.7m3.3-27.5V882.3m3.4-28V868m3.3-18.7V857.1m3.4-12.3V852.9m3.3-16.9V847.6m3.4-21.2V838.8m3.3-18.5V829.2m3.4-5.1V831.3m3.3-11.6V830.7m3.3-2.8V839m3.4-9.3V839m3.3-15.8V838.1m3.4-2.8V858.3m3.3-2.9V869.3m3.4-2.8V879.6m3.3-2.8V893.4m3.4-2.8V903.3m3.3-2.8V909.5m3.3-2.8V915.7m3.4-2.8V921.7m3.3-2.8V928.5m3.4-2.8V932.7m3.3-5.3V934.2m3.4-2.8V938.2m3.3-8.2V936.3m3.4-2.8V939.8m3.3-5.5V938.9m3.3-3.1V940.4m3.4-6.3V939.5m3.3-2.8V943.8m3.4-3.5V945.5m3.3-7.6V943.7m3.4-2.8V946.8m3.3-6.4V945m3.4-4.3V945.3m3.3-2.9V949.4m3.3-2.8V952.6m3.4-7.4V950.3m3.3-3.6V951.3m3.4-4.4V951.8m3.3-2.9V953.8m3.4-5.1V953.8m3.3-2.8V956.2m3.4-4.5V956.3m3.3-3.1V957.9m3.4-3.3V959.2m3.3-5.6V958.2m3.3-5.9V956.9m3.4-5.2V956.9m3.3-2.8V959.3m3.4-4.2V959.7m3.3-3.7V960.7m3.4-6.5V959m3.3-5.8V957.8m3.4-3.5V958.9m3.3-3.6V959.9m3.3-6.3V958.2m3.4-4.8V958m3.3-3.5V959.2m3.4-6.4V957.5m3.3-2.8V959.4m3.4-5.2V959m3.3-2.8V960.9m3.4-5V960.5m3.3-5.6V960.1m3.3-2.8V962.6m3.4-5.2V962.1m3.3-4.7V962m3.4-4.2V962.5m3.3-3V964.1m3.4-4V964.7m3.3-4.4V965m3.4-4.4V965.2m3.3-5.7V964.2m3.3-4.9V963.9m3.4-4.3V964.2m3.3-4.5V964.3m3.4-4.3V964.6m3.3-4V965.2m3.4-4.4V965.4m3.3-5.7V964.3m3.4-5.3V963.6m3.3-5.3V962.9m3.3-4V963.6m3.4-2.8V965.5m3.3-4.3V965.8m3.4-6.3V964.1m3.3-5.6V963.1m3.4-3.9V963.9m3.3-3.9V964.7m3.4-4.4V965m3.3-5.2V964.4m3.4-4.7V964.3m3.3-2.9V966.1m3.3-4.3V966.4m3.4-5.5V965.5m3.3-4.1V966m3.4-5.9V964.7m3.3-4.2V965.1m3.4-4.8V964.9m3.3-3.2V966.3m3.4-4.6V966.3m3.3-5.7V965.2m3.3-4.9V964.9m3.4-4.6V965m3.3-4.3V965.3m3.4-2.9V967m3.3-5.2V966.4m3.4-5.4V965.6m3.3-4.1V966.1m3.4-4.8V965.9m3.3-3.4V967.1m3.3-5.2V966.5m3.4-5.3V965.8m3.3-3.9V966.5m3.4-3.2V967.9m3.3-4.5V968m3.4-6V966.6m3.3-5.6V965.6m3.4-4.2V966m3.3-4V966.6m3.3-3.7V967.6m3.4-4.3V968m3.3-5.2V967.4m3.4-4.9V967.1m3.3-3.6V968.1m3.4-4.5V968.2m3.3-5.6V967.2m3.4-4.6V967.2m3.3-4.2V967.6m3.3-5V967.2m3.4-4.9V967m3.3-3.7V967.9m3.4-4.3V968.2m3.3-5.1V967.7m3.4-3.3V969m3.3-3.3V970.4" stroke="#f0f" stroke-width="4.4"/>
<text class="m" transform="translate(118.9 821.7) scale(1 1.03)" font-size="26.4" letter-spacing="3.5" text-anchor="end">400</text>
<text class="m" transform="translate(118.9 902.4) scale(1 1.03)" font-size="26.4" letter-spacing="3.5" text-anchor="end">200</text>
<text class="m" transform="translate(118.9 980.9) scale(1 1.03)" font-size="26.4" letter-spacing="3.5" text-anchor="end">0</text>
<text class="m" transform="translate(127.7 1016.5) scale(1 1.03)" font-size="26.4" letter-spacing="3.5" text-anchor="middle">0</text>
<text class="m" transform="translate(222.2 1016.5) scale(1 1.03)" font-size="26.4" letter-spacing="3.5" text-anchor="middle">40</text>
<text class="m" transform="translate(316.6 1016.5) scale(1 1.03)" font-size="26.4" letter-spacing="3.5" text-anchor="middle">80</text>
<text class="m" transform="translate(411.1 1016.5) scale(1 1.03)" font-size="26.4" letter-spacing="3.5" text-anchor="middle">120</text>
<text class="m" transform="translate(505.5 1016.5) scale(1 1.03)" font-size="26.4" letter-spacing="3.5" text-anchor="middle">160</text>
<text class="m" transform="translate(600 1016.5) scale(1 1.03)" font-size="26.4" letter-spacing="3.5" text-anchor="middle">200</text>
<text class="m" transform="translate(694.4 1016.5) scale(1 1.03)" font-size="26.4" letter-spacing="3.5" text-anchor="middle">240</text>
<text class="m" transform="translate(788.8 1016.5) scale(1 1.03)" font-size="26.4" letter-spacing="3.5" text-anchor="middle">280</text>
<text class="m l" transform="translate(290.8 1066.5) scale(1 0.87)" font-size="32.2" text-anchor="start" textLength="325.5" lengthAdjust="spacingAndGlyphs">Location (pixels)</text>
<text class="c" transform="translate(33.8 887.8) rotate(-90) scale(1 .95)" font-size="31.6" text-anchor="middle" textLength="113.7" lengthAdjust="spacingAndGlyphs">counts</text>
</g>
<g id="panel-f">
<rect x="877.3" y="778" width="839.4" height="317.3" fill="#000"/>
<path class="ax" d="M1008.3 823.4H1675.2V984.7H1008.3ZM1008.3 979.2V990.2M1055.9 979.2V990.2M1103.6 979.2V990.2M1151.2 979.2V990.2M1198.8 979.2V990.2M1246.5 979.2V990.2M1294.1 979.2V990.2M1341.8 979.2V990.2M1389.4 979.2V990.2M1437 979.2V990.2M1484.7 979.2V990.2M1532.3 979.2V990.2M1579.9 979.2V990.2M1627.6 979.2V990.2M1675.2 979.2V990.2M1002.8 984.7H1013.8M1002.8 944.4H1013.8M1002.8 904H1013.8M1002.8 863.7H1013.8M1002.8 823.4H1013.8"/>
<path class="k" d="M1010 980.5V985.1m3.4-7.4V983.7m3.3-8.9V980.6m3.4-7.2V978.1m3.4-4.6V978.2m3.4-3.9V979m3.3-4.4V979.3m3.4-5.7V978.2m3.4-4V978.9m3.4-5.3V978.2m3.3-4V978.9m3.4-5.3V978.3m3.4-4.5V978.4m3.3-4.4V978.7m3.4-5.4V978m3.4-5.6V977.1m3.4-4.8V976.9m3.3-4.4V977.2m3.4-3.6V978.2m3.4-4.6V978.3m3.4-6.1V976.8m3.3-4.5V976.9m3.4-3.5V978m3.4-4V978.6m3.4-4.9V978.3m3.3-5.7V977.3m3.4-4.5V977.5m3.4-5.3V976.9m3.4-4V977.6m3.3-5.2V977.1m3.4-5.1V976.6m3.4-5.5V975.8m3.4-4.2V976.2m3.3-4.1V976.7m3.4-4.9V976.4m3.4-4.5V976.6m3.4-3.8V977.5m3.3-5.2V977m3.4-6.1V975.6m3.4-3.7V976.6m3.3-4.9V976.3m3.4-3.5V977.4m3.4-5.5V976.6m3.4-7.4V974.7m3.3-9.1V972m3.4-9.7V968.4m3.4-7.5V965.6m3.4-6V964.3m3.3-9.7V962.5m3.4-11.6V957.4m3.4-9.4V953.7m3.4-9.5V950.8m3.3-8.3V947.2m3.4-8.3V945.5m3.4-10V941.7m3.4-5.3V941.4m3.3-5.7V942.8m3.4-13V938.5m3.4-11.1V932.6m3.4-8.1V930.2m3.3-7.9V927.3m3.4-3.4V929.4m3.4-2.8V931.7m3.4-3.3V933m3.3-5.8V932.4m3.4-2.8V934.9m3.4-6.5V934.7m3.3-13V931.3m3.4-13.1V925.7m3.4-2.8V932m3.4-2.9V933.8m3.3-5.3V933.6m3.4-7.3V931.4m3.4-4.3V934.7m3.4-2.8V939.2m3.3-3.3V940.5m3.4-3.3V941.9m3.4-3.2V943.3m3.4-3.8V944.2m3.3-3.3V950.5m3.4-2.8V956.9m3.4-3.1V958.5m3.4-3.5V959.7m3.3-3.2V962.2m3.4-2.8V965.6m3.4-3.5V966.7m3.4-5.8V965.6m3.3-4.2V966m3.4-4.5V966.2m3.4-5.2V965.6m3.4-3.1V969.1m3.3-2.8V972.1m3.4-3.4V973.3m3.4-3.9V974m3.3-3.5V975.1m3.4-3.3V976.4m3.4-5.8V975.3m3.4-4V975.9m3.3-4.6V975.9m3.4-4.9V975.6m3.4-3.9V976.3m3.4-3.3V977.7m3.3-5V977.4m3.4-4.6V977.5m3.4-5V977.1m3.4-3.4V978.3m3.3-6V977m3.4-3.8V977.9m3.4-4.3V978.2m3.4-3.9V979m3.3-4.6V979.1m3.4-5.9V977.8m3.4-3.5V978.9m3.4-4.7V978.9m3.3-5.1V978.4m3.4-4.6V978.4m3.4-3.8V979.3m3.3-4.1V979.8m3.4-5.5V978.9m3.4-3.8V979.7m3.4-4.8V979.6m3.3-5.3V978.9m3.4-4.4V979.1m3.4-3.7V980m3.4-3.9V980.7m3.3-4.2V981.2m3.4-4.3V981.5m3.4-4.6V981.5m3.4-5.3V980.9m3.3-4.9V980.7m3.4-4.3V981.1m3.4-4V981.7m3.4-4.5V981.9m3.3-5V981.6m3.4-3.8V982.4m3.4-4.7V982.3m3.4-4.8V982.1m3.3-5.1V981.7m3.4-4.1V982.2m3.4-5.1V981.8m3.4-4.2V982.2m3.3-3.6V983.2m3.4-5.5V982.3m3.4-3.7V983.2m3.3-5.6V982.3m3.4-4.5V982.4m3.4-4.6V982.4m3.4-4.8V982.2m3.3-3.6V983.3m3.4-4.1V983.8m3.4-5.1V983.3m3.4-5.6V982.3m3.3-4.2V982.7m3.4-5.2V982.1m3.4-4.8V981.9m3.4-4.1V982.4m3.3-4V983.1m3.4-5.2V982.5m3.4-4.4V982.8m3.4-4V983.5m3.3-4.9V983.3m3.4-4.9V983m3.4-4.2V983.4m3.4-5.4V982.6m3.3-4.9V982.4m3.4-4V983.1m3.4-4.5V983.3m3.4-5.2V982.7m3.3-4.1V983.2m3.4-5V982.8m3.4-4.7V982.7m3.3-5V982.4m3.4-4.9V982.2m3.4-5.1V981.7m3.4-4.8V981.5m3.3-4.6V981.6m3.4-4.6V981.6m3.4-4.6V981.7m3.4-4V982.4m3.3-3.2V984m3.4-3.1V985.5" stroke="#fff" stroke-width="4.5"/>
<path class="k" d="M1010 980.1V984.7m3.4-6.9V983m3.3-6.8V980.8m3.4-5.6V979.8m3.4-5.3V979.1m3.4-5.6V978.1m3.3-4.3V978.5m3.4-5.5V977.6m3.4-3.5V978.8m3.4-5.9V977.6m3.3-4V978.3m3.4-4.1V978.9m3.4-5.9V977.6m3.3-3.8V978.5m3.4-5.2V978m3.4-4V978.7m3.4-4.7V978.7m3.3-4.3V979m3.4-5.6V978.1m3.4-5.5V977.2m3.4-4.2V977.7m3.3-5.1V977.2m3.4-3.9V977.9m3.4-5.9V976.6m3.4-3.4V977.9m3.3-4.8V977.7m3.4-4V978.3m3.4-5.2V977.8m3.4-5.5V976.9m3.3-4.9V976.6m3.4-4.7V976.5m3.4-3.8V977.4m3.4-4V978m3.3-5.1V977.5m3.4-6V976.1m3.4-3.6V977.2m3.4-5.1V976.7m3.3-5.1V976.3m3.4-4.4V976.6m3.4-5.8V975.5m3.3-4V976.4m3.4-7.8V974.4m3.4-9.1V971.5m3.4-8.7V968.2m3.3-8.5V965.6m3.4-8.8V962.6m3.4-8.1V961.6m3.4-14.5V957.3m3.3-15.8V949.9m3.4-16.6V944.3m3.4-23.8V936.1m3.4-22.6V923.3m3.3-13.5V916.5m3.4-10.6V912.6m3.4-8.5V909.7m3.4-8.3V907m3.3-5.6V908.4m3.4-2.9V914.2m3.4-2.9V916m3.4-4.8V915.9m3.3-6.3V914.2m3.4-3.7V915.2m3.4-3.1V918.9m3.4-2.8V922.7m3.3-9.8V919.2m3.4-7.5V916.4m3.4-5.7V915.4m3.3-3.1V917m3.4-10.4V915.2m3.4-13.5V909.5m3.4-13V904.5m3.3-12.2V899.4m3.4-5.3V902.6m3.4-2.9V911.3m3.4-3.4V916.2m3.3-13.8V910.7m3.4-8.2V908.5m3.4-2.8V913.5m3.4-2.8V917.7m3.3-2.8V920.9m3.4-2.9V923.9m3.4-2.8V931.5m3.4-2.9V937.4m3.3-2.8V940.2m3.4-2.8V943.6m3.4-3V945.2m3.4-5V945.4m3.3-2.9V951.9m3.4-2.8V956.3m3.4-2.8V958.3m3.4-2.8V961.2m3.3-3.1V962.8m3.4-3.3V964.1m3.4-3V967.4m3.3-2.9V971.3m3.4-2.8V973.4m3.4-3.4V974.6m3.4-4.6V974.6m3.3-6V973.2m3.4-4.7V973.3m3.4-2.9V975.2m3.4-4.5V975.3m3.3-4.4V975.5m3.4-3.6V976.5m3.4-4V977.2m3.4-5.3V976.6m3.3-4.9V976.3m3.4-4.1V976.8m3.4-4.3V977.1m3.4-4.7V977m3.3-3.9V977.8m3.4-4.3V978.1m3.4-5.3V977.5m3.4-4.3V977.9m3.3-4.4V978.1m3.4-3.8V979m3.4-3.9V979.7m3.3-5.8V978.6m3.4-3.3V980m3.4-5.3V979.4m3.4-3.8V980.3m3.3-5V979.9m3.4-4.6V980m3.4-4V980.7m3.4-4.4V980.9m3.3-4.9V980.6m3.4-4.5V980.7m3.4-5.2V980.2m3.4-4.5V980.3m3.3-4.1V980.9m3.4-4.5V981m3.4-4.2V981.4m3.4-5V981m3.3-3.4V982.2m3.4-5.6V981.2m3.4-4.6V981.3m3.4-4.4V981.5m3.3-4.8V981.4m3.4-4.7V981.3m3.4-4.4V981.5m3.4-4.4V981.8m3.3-4.4V982m3.4-4.1V982.5m3.4-3.8V983.3m3.3-4.9V983m3.4-5.4V982.3m3.4-4V983m3.4-4.4V983.2m3.3-5.7V982.2m3.4-4.2V982.6m3.4-4.9V982.3m3.4-3.8V983.1m3.3-5.2V982.5m3.4-3.8V983.3m3.4-4.9V983m3.4-4.1V983.5m3.3-4.7V983.4m3.4-4.9V983.1m3.4-4.2V983.5m3.4-5.2V983m3.3-5.1V982.6m3.4-4.8V982.4m3.4-4.2V982.9m3.4-4.7V982.8m3.3-5.5V981.9m3.4-4V982.6m3.4-5.3V982m3.4-3.6V983.1m3.3-4.5V983.2m3.4-5.1V982.7m3.4-4.5V982.9m3.3-4.5V983m3.4-4.8V982.9m3.4-5.2V982.4m3.4-4.3V982.7m3.3-4.7V982.6m3.4-5V982.2m3.4-5V981.9m3.4-4.2V982.4m3.3-3.2V984m3.4-3.1V985.5" stroke="#f00" stroke-width="4.5"/>
<path class="k" d="M1010 980.5V985.1m3.4-6.7V983.7m3.3-8V981.2m3.4-6.9V978.9m3.4-4.7V978.8m3.4-4V979.4m3.3-5.6V978.4m3.4-4.2V978.8m3.4-5.7V977.8m3.4-4.9V977.5m3.3-4.2V977.9m3.4-3.8V978.8m3.4-5.2V978.2m3.3-4.1V978.7m3.4-5.6V977.7m3.4-4.8V977.5m3.4-3.3V978.8m3.3-4.7V978.8m3.4-4.9V978.5m3.4-5.9V977.2m3.4-3.9V977.9m3.3-4.2V978.4m3.4-5.4V977.7m3.4-5.5V976.8m3.4-4.3V977.2m3.3-5.5V976.4m3.4-3.1V977.9m3.4-4.4V978.1m3.4-4.5V978.3m3.3-5.4V977.6m3.4-5.5V976.7m3.4-3.8V977.5m3.4-4.7V977.5m3.3-5.6V976.6m3.4-5.5V975.8m3.4-4.6V975.8m3.4-4.7V975.8m3.3-4.1V976.4m3.4-5V976.1m3.4-5.9V974.9m3.3-5V974.5m3.4-5.9V973.3m3.4-6.5V971.6m3.4-9V969.7m3.3-12V965.4m3.4-9.6V960.5m3.4-8.4V958.9m3.4-14.1V955m3.3-16.2V947.6m3.4-14.9V941.6m3.4-23.5V935.5m3.4-33.6V920.9m3.3-27.6V904.8m3.4-15.1V896.1m3.4-6.4V896.4m3.4-2.8V902.5m3.3-2.8V905m3.4-4.9V905.1m3.4-7.1V903m3.4-4.9V902.8m3.3-4.3V903.4m3.4-2.9V905.4m3.4-4V906.1m3.4-3V908.9m3.3-5.2V910.4m3.4-10.5V906.6m3.4-7.6V905.4m3.3-10.4V901.9m3.4-12.7V897.9m3.4-18.3V892m3.4-17V882.4m3.3-8.4V878.6m3.4-3.6V879.7m3.4-3.1V882.7m3.4-2.9V885.9m3.3-3.1V887.5m3.4-3.2V888.9m3.4-2.9V893m3.4-2.9V902m3.3-2.8V910.5m3.4-2.8V920.3m3.4-2.8V928.1m3.4-2.8V933.8m3.3-2.8V938.9m3.4-3.5V940.1m3.4-3.1V944.2m3.4-2.8V947.7m3.3-2.9V951.3m3.4-2.8V956.6m3.4-2.9V958.5m3.4-3.4V959.7m3.3-3.3V962.4m3.4-2.8V966.7m3.4-2.8V969.7m3.3-2.9V971.9m3.4-3.2V973.3m3.4-5.4V972.6m3.4-3.5V973.7m3.3-3.8V974.6m3.4-5V974.3m3.4-5.6V973.3m3.4-3.7V974.2m3.3-4.3V974.5m3.4-3.5V975.6m3.4-4.7V975.6m3.4-4.8V975.5m3.3-4.4V975.7m3.4-4.1V976.3m3.4-3.5V977.5m3.4-3.8V978.4m3.3-5.1V977.9m3.4-5.4V977.1m3.4-3.7V978.1m3.4-3.7V979m3.3-4V979.6m3.4-5.9V978.4m3.4-3.8V979.2m3.3-3.8V980m3.4-4.2V980.4m3.4-5.2V979.8m3.4-5.3V979.2m3.3-3.8V980.1m3.4-5V979.8m3.4-4.7V979.8m3.4-4.2V980.2m3.3-3.9V980.9m3.4-4.3V981.3m3.4-4.7V981.3m3.4-5.1V980.8m3.3-5.4V980.1m3.4-5V979.7m3.4-4.4V979.9m3.4-4V980.6m3.3-3.8V981.5m3.4-5V981.1m3.4-4.4V981.4m3.4-4.7V981.3m3.3-4.6V981.3m3.4-4.6V981.3m3.4-3.8V982.2m3.4-3.6V983.2m3.3-5.7V982.2m3.4-4.3V982.6m3.4-5.4V981.8m3.3-4.9V981.5m3.4-4.5V981.6m3.4-4.6V981.7m3.4-3.9V982.4m3.3-4.6V982.5m3.4-3.8V983.4m3.4-5.4V982.6m3.4-5.2V982.1m3.3-4.1V982.6m3.4-3.9V983.3m3.4-4.3V983.6m3.4-5.2V983.1m3.3-5.6V982.2m3.4-4.8V982m3.4-4.1V982.6m3.4-5.2V982.1m3.3-3.6V983.1m3.4-4.3V983.5m3.4-5.5V982.7m3.4-5V982.3m3.3-4.2V982.8m3.4-5.5V981.9m3.4-4.3V982.3m3.4-4.1V982.8m3.3-5.4V982m3.4-3.6V983.1m3.4-5.4V982.4m3.3-4.4V982.6m3.4-4.2V983.1m3.4-5.7V982.1m3.4-3.5V983.2m3.3-4.4V983.4m3.4-5.3V982.8m3.4-4.9V982.5m3.4-4.1V983m3.3-5.3V982.9m3.4-2.8V985.2" stroke="#0f0" stroke-width="4.5"/>
<path class="k" d="M1010 980.2V984.9m3.4-7.9V983.3m3.3-8.7V979.8m3.4-5.9V978.6m3.4-3.7V979.5m3.4-5V979.1m3.3-4.6V979.1m3.4-5.8V977.9m3.4-4.1V978.4m3.4-4.8V978.2m3.3-3.5V979.4m3.4-5.4V978.7m3.4-5.7V977.6m3.3-3.8V978.4m3.4-4.6V978.4m3.4-5.3V977.7m3.4-4.7V977.6m3.3-4.5V977.8m3.4-5.2V977.2m3.4-5.1V976.7m3.4-4.9V976.4m3.3-4.1V976.9m3.4-3.7V977.8m3.4-5.2V977.2m3.4-4V977.9m3.3-6V976.6m3.4-4V977.3m3.4-5.5V976.5m3.4-5.2V976m3.3-3.6V977.1m3.4-4.3V977.4m3.4-6V976.1m3.4-5.1V975.6m3.3-3.5V976.8m3.4-6.1V975.3m3.4-4V976m3.4-5.7V975m3.3-4.2V975.5m3.4-4.4V975.7m3.4-6V974.3m3.3-5.1V973.8m3.4-5.4V973.1m3.4-7.5V971.6m3.4-12.5V968.4m3.3-16.5V961.9m3.4-16V954.7m3.4-12.4V948.8m3.4-8.1V945.4m3.3-17.2V943.8m3.4-28.4V931.1m3.4-19.9V918.3m3.4-10.7V914.1m3.3-9.3V911.5m3.4-12V907.7m3.4-14.4V902.3m3.4-17V896.1m3.3-16.9V888.1m3.4-11.7V884.5m3.4-2.9V890.7m3.4-6.4V891.6m3.3-11.8V887.1m3.4-5.8V888.6m3.4-2.8V895m3.4-2.8V898.3m3.3-10.5V896.2m3.4-11.8V890.7m3.4-6.8V888.6m3.3-5.7V887.6m3.4-14.1V886.2m3.4-22.9V876.3m3.4-14.3V866.7m3.3-6V865.4m3.4-12.4V863.6m3.4-16.9V855.9m3.4-4.3V864m3.3-2.8V869.1m3.4-4.5V869.6m3.4-7.1V873m3.4-2.9V886.3m3.3-2.8V895.9m3.4-2.8V902.5m3.4-2.8V911.8m3.4-2.8V922.6m3.3-2.8V928.1m3.4-2.8V936.4m3.4-2.8V945m3.4-3.1V946.6m3.3-4.3V949.6m3.4-2.8V954.2m3.4-5.1V955.4m3.4-2.8V959.9m3.3-2.8V962.2m3.4-2.8V964.2m3.4-2.8V967.3m3.3-2.9V969.7m3.4-2.8V971.5m3.4-2.9V973.2m3.4-4.8V973m3.3-4.8V972.9m3.4-3.6V974m3.4-4.5V974.1m3.4-4V974.7m3.3-5V974.4m3.4-3V976m3.4-5.3V975.4m3.4-3.9V976.1m3.3-4.4V976.4m3.4-5.4V975.7m3.4-3.3V977m3.4-3.4V978.2m3.3-5.7V977.1m3.4-3.3V978.5m3.4-3.7V979.5m3.4-5.4V978.8m3.3-4.5V979m3.4-4.1V979.6m3.4-6V978.3m3.3-4.9V978.1m3.4-4V978.7m3.4-4V979.3m3.4-5V979m3.3-3.9V979.8m3.4-4.1V980.3m3.4-5.2V979.7m3.4-4.5V979.8m3.3-3.7V980.7m3.4-5.3V980m3.4-3.3V981.3m3.4-4.3V981.7m3.3-4.9V981.4m3.4-5V981m3.4-5.4V980.3m3.4-4V980.9m3.3-3.5V982m3.4-5.7V981m3.4-4.4V981.3m3.4-4.2V981.7m3.3-4.4V981.9m3.4-4.8V981.8m3.4-3.5V982.9m3.4-4.3V983.3m3.3-5.6V982.3m3.4-4.1V982.9m3.4-5.6V982m3.3-4.6V982m3.4-4.2V982.4m3.4-5.2V981.9m3.4-4.8V981.7m3.3-3.9V982.5m3.4-4.9V982.3m3.4-4.4V982.5m3.4-4.4V982.7m3.3-4.8V982.6m3.4-5.2V982.1m3.4-4.6V982.2m3.4-3.7V983.1m3.3-4.8V982.9m3.4-5.3V982.3m3.4-5.3V981.7m3.4-3.9V982.5m3.3-4V983.2m3.4-5.6V982.2m3.4-3.7V983.1m3.4-4.4V983.3m3.3-4.8V983.1m3.4-5V982.7m3.4-5.3V982m3.4-4.3V982.4m3.3-5.1V981.9m3.4-4.3V982.2m3.4-3.6V983.3m3.3-5.2V982.7m3.4-5.4V982m3.4-4V982.6m3.4-3.9V983.3m3.3-4.6V983.4m3.4-4.9V983.1m3.4-4.7V983m3.4-4.2V983.4m3.3-4.9V983.3m3.4-2.9V985.2" stroke="#00f" stroke-width="4.5"/>
<path class="k" d="M1010 980.3V985m3.4-7.4V983.5m3.3-7.7V980.5m3.4-5.7V979.5m3.4-5V979.1m3.4-5.5V978.3m3.3-5.5V977.5m3.4-4.5V977.7m3.4-3.7V978.7m3.4-5V978.4m3.3-5.7V977.3m3.4-3.9V978m3.4-4.6V978m3.3-5.1V977.5m3.4-4.2V977.9m3.4-5.4V977.2m3.4-5.6V976.3m3.3-4V977m3.4-5.2V976.4m3.4-3.5V977.5m3.4-4.6V977.5m3.3-6V976.1m3.4-4.9V975.8m3.4-3.3V977.2m3.4-4.6V977.2m3.3-5.7V976.1m3.4-5.1V975.6m3.4-4.9V975.4m3.4-4.4V975.7m3.3-4V976.4m3.4-4.9V976.2m3.4-5.9V974.9m3.4-3.9V975.7m3.3-5.9V974.5m3.4-5.5V973.7m3.4-4.9V973.5m3.4-4V974.1m3.3-3.8V974.9m3.4-4.8V974.7m3.4-5.4V973.9m3.3-3V975.5m3.4-7V974.8m3.4-11.3V971.4m3.4-11.8V966.3m3.3-13.6V962.4m3.4-18.7V955.5m3.4-16.5V946.5m3.4-8.7V942.4m3.3-15.6V943.9m3.4-31.4V929.6m3.4-18V916.2m3.4-7V915m3.3-8.7V912m3.4-11V909.2m3.4-15.3V903.9m3.4-13.1V896.7m3.3-8.5V893.7m3.4-9.2V891m3.4-8.3V887.4m3.4-5.5V886.6m3.3-5.5V886.3m3.4-2.9V889.8m3.4-2.8V894.1m3.4-5V897m3.3-13V891.9m3.4-7.2V889.6m3.4-6.9V887.5m3.3-7.5V885.6m3.4-14.2V882.8m3.4-17.2V874.2m3.4-8.8V873.8m3.3-14.3V868.2m3.4-11.9V862.4m3.4-9.1V859.1m3.4-4.3V860.7m3.3-2.9V864.6m3.4-2.9V866.9m3.4-3.1V872.9m3.4-2.8V882.2m3.3-2.8V890.6m3.4-2.8V899.8m3.4-2.8V911.2m3.4-2.8V921.8m3.3-2.8V929.3m3.4-2.8V937.2m3.4-2.8V941.7m3.4-2.8V947.1m3.3-2.8V953.2m3.4-2.9V955.6m3.4-3V957.3m3.4-3V960.1m3.3-2.8V963m3.4-3V964.6m3.4-3V967.8m3.3-2.9V971m3.4-3.2V972.4m3.4-4V973.1m3.4-4.8V973m3.3-4V973.6m3.4-3.9V974.3m3.4-5.7V973.2m3.4-3.4V974.4m3.3-3.3V975.8m3.4-4.7V975.8m3.4-4.4V976.1m3.4-5.1V975.6m3.3-3.4V976.9m3.4-4.4V977.2m3.4-5.6V976.2m3.4-3.5V977.4m3.3-3.7V978.3m3.4-4V979m3.4-5V978.6m3.4-4.4V978.8m3.3-4V979.4m3.4-4.2V979.9m3.4-5.6V979m3.3-5.1V978.5m3.4-3.9V979.2m3.4-5.4V978.4m3.4-4.1V978.9m3.3-3.4V980.2m3.4-4.2V980.7m3.4-4.5V980.8m3.4-4.3V981.2m3.3-5.2V980.6m3.4-5.2V980.1m3.4-4.6V980.2m3.4-3.8V981.1m3.3-5.1V980.7m3.4-5.4V980m3.4-4V980.6m3.4-3.3V982m3.3-4.7V981.9m3.4-4.8V981.8m3.4-4.6V981.9m3.4-4.8V981.7m3.3-4V982.3m3.4-5.3V981.6m3.4-5V981.2m3.4-4.3V981.6m3.3-4.4V981.9m3.4-4.2V982.4m3.4-4V983.1m3.3-5.3V982.4m3.4-4.6V982.5m3.4-4.8V982.3m3.4-4.9V982m3.3-4.2V982.4m3.4-4V983m3.4-5.3V982.3m3.4-4.4V982.5m3.3-4V983.2m3.4-5V982.8m3.4-4.3V983.2m3.4-5.2V982.7m3.3-5.3V982.1m3.4-3.9V982.9m3.4-4.6V982.9m3.4-4.2V983.4m3.3-5.4V982.7m3.4-5.5V981.9m3.4-3.6V982.9m3.4-4.1V983.5m3.3-5.1V983m3.4-5.6V982.1m3.4-3.6V983.1m3.4-5.1V982.6m3.3-3.9V983.3m3.4-5.7V982.2m3.4-5.2V981.7m3.3-4.1V982.2m3.4-5V981.9m3.4-4.3V982.2m3.4-4.3V982.5m3.3-4.8V982.3m3.4-3.9V983.1m3.4-4.1V983.6m3.4-4.9V983.3m3.3-4.7V983.3m3.4-2.8V985.2" stroke="#f0f" stroke-width="4.5"/>
<text class="m" transform="translate(1002.6 835.3) scale(1 1.059)" font-size="26.6" letter-spacing="3.5" text-anchor="end">400</text>
<text class="m" transform="translate(1002.6 917.6) scale(1 1.059)" font-size="26.6" letter-spacing="3.5" text-anchor="end">200</text>
<text class="m" transform="translate(1002.6 996.5) scale(1 1.059)" font-size="26.6" letter-spacing="3.5" text-anchor="end">0</text>
<text class="m" transform="translate(1011.5 1032.8) scale(1 1.059)" font-size="26.6" letter-spacing="3.5" text-anchor="middle">0</text>
<text class="m" transform="translate(1106.7 1032.8) scale(1 1.059)" font-size="26.6" letter-spacing="3.5" text-anchor="middle">40</text>
<text class="m" transform="translate(1202 1032.8) scale(1 1.059)" font-size="26.6" letter-spacing="3.5" text-anchor="middle">80</text>
<text class="m" transform="translate(1297.3 1032.8) scale(1 1.059)" font-size="26.6" letter-spacing="3.5" text-anchor="middle">120</text>
<text class="m" transform="translate(1392.5 1032.8) scale(1 1.059)" font-size="26.6" letter-spacing="3.5" text-anchor="middle">160</text>
<text class="m" transform="translate(1487.8 1032.8) scale(1 1.059)" font-size="26.6" letter-spacing="3.5" text-anchor="middle">200</text>
<text class="m" transform="translate(1583.1 1032.8) scale(1 1.059)" font-size="26.6" letter-spacing="3.5" text-anchor="middle">240</text>
<text class="m" transform="translate(1678.4 1032.8) scale(1 1.059)" font-size="26.6" letter-spacing="3.5" text-anchor="middle">280</text>
<text class="m l" transform="translate(1175.8 1081.5) scale(1 0.894)" font-size="32.5" text-anchor="start" textLength="328.6" lengthAdjust="spacingAndGlyphs">Location (pixels)</text>
<text class="c" transform="translate(916.6 901.2) rotate(-90) scale(1 .95)" font-size="32.1" text-anchor="middle" textLength="115.7" lengthAdjust="spacingAndGlyphs">counts</text>
</g>
<g id="panel-g">
<rect x="2.5" y="1184.4" width="839.1" height="324.4" fill="#000"/>
<path class="ax" d="M131 1227.7H786.1V1385.1H131ZM131 1379.6V1390.6M177.8 1379.6V1390.6M224.6 1379.6V1390.6M271.4 1379.6V1390.6M318.2 1379.6V1390.6M365 1379.6V1390.6M411.8 1379.6V1390.6M458.6 1379.6V1390.6M505.3 1379.6V1390.6M552.1 1379.6V1390.6M598.9 1379.6V1390.6M645.7 1379.6V1390.6M692.5 1379.6V1390.6M739.3 1379.6V1390.6M786.1 1379.6V1390.6M125.5 1385.1H136.5M125.5 1345.8H136.5M125.5 1306.4H136.5M125.5 1267H136.5M125.5 1227.7H136.5"/>
<path class="k" d="M132.7 1380.7V1385.3m3.3-6.5V1383.7m3.3-6.4V1381.9m3.3-5.4V1381.1m3.3-3.5V1382.1m3.3-3.5V1383.2m3.3-4.9V1382.9m3.4-3.8V1383.7m3.3-5.3V1383m3.3-5.6V1381.9m3.3-4.5V1382m3.3-4.6V1382m3.3-5V1381.6m3.3-5.6V1380.6m3.4-5.5V1379.7m3.3-5V1379.3m3.3-3.9V1380m3.3-4.6V1380m3.3-5.5V1379m3.3-5V1378.6m3.3-4.7V1378.4m3.4-4.3V1378.7m3.3-4.2V1379.1m3.3-4.2V1379.5m3.3-4.5V1379.6m3.3-4.3V1379.9m3.3-5.7V1378.8m3.3-5.3V1378.1m3.4-3.6V1379.1m3.3-4.8V1378.9m3.3-5.1V1378.4m3.3-4.1V1378.8m3.3-6V1377.4m3.3-4V1378m3.3-5.8V1376.7m3.4-5V1376.3m3.3-5V1375.9m3.3-3.3V1377.2m3.3-5.7V1376.1m3.3-5.6V1375.1m3.3-7.1V1373.8m3.3-8.2V1370.7m3.4-7.2V1369.1m3.3-10.9V1366.3m3.3-13V1361m3.3-11.3V1356.1m3.3-9V1352.5m3.3-7.3V1349.9m3.3-8.5V1348m3.4-12.8V1344.1m3.3-15.3V1338m3.3-15.1V1331.6m3.3-14.2V1325.7m3.3-14.6V1320.2m3.3-15.9V1313.9m3.3-14.5V1307.1m3.4-12.6V1302.2m3.3-14.1V1297.3m3.3-12.6V1290.9m3.3-9.3V1287.5m3.3-8.3V1285.6m3.3-2.8V1289.4m3.3-2.7V1295.5m3.4-2.8V1301.4m3.3-6.5V1301.5m3.3-10.4V1297.7m3.3-3.3V1300.5m3.3-5.7V1301.5m3.3-2.8V1305.5m3.3-5.4V1305.4m3.4-2.8V1311.8m3.3-2.8V1320.4m3.3-2.8V1328.1m3.3-2.8V1333m3.3-2.8V1337.6m3.3-2.8V1341.4m3.3-2.8V1345.7m3.4-2.8V1350m3.3-2.8V1351.7m3.3-3V1353.3m3.3-3.3V1354.6m3.3-3.2V1356m3.3-2.8V1357.8m3.3-3.5V1359.6m3.4-2.8V1363.2m3.3-3.2V1364.6m3.3-4.1V1365.9m3.3-2.8V1368.4m3.3-3.7V1369.3m3.3-3.6V1370.3m3.3-3.5V1371.4m3.4-4.2V1371.8m3.3-3.7V1372.6m3.3-5.1V1372.1m3.3-4.3V1372.4m3.3-4.3V1372.6m3.3-3.4V1373.8m3.3-3.2V1375.2m3.4-4.9V1374.9m3.3-4.4V1375m3.3-3.7V1375.9m3.3-3.5V1377m3.3-4.1V1377.5m3.3-5.2V1376.9m3.3-3.8V1377.6m3.4-3.8V1378.4m3.3-4.1V1378.9m3.3-4.6V1378.8m3.3-4.6V1378.7m3.3-5.1V1378.2m3.3-3.2V1379.6m3.3-3.4V1380.8m3.4-4.5V1380.8m3.3-4.4V1381m3.3-5.8V1379.8m3.3-3.6V1380.7m3.3-4.6V1380.7m3.3-4.7V1380.6m3.3-4.7V1380.5m3.4-5V1380.1m3.3-4.8V1379.9m3.3-4.4V1380.1m3.3-4.1V1380.5m3.3-4.3V1380.8m3.3-4.7V1380.6m3.3-4.3V1380.9m3.4-3.8V1381.7m3.3-4V1382.2m3.3-4.4V1382.4m3.3-5.5V1381.5m3.3-4.8V1381.2m3.3-4.4V1381.4m3.4-4.6V1381.4m3.3-4.6V1381.4m3.3-3.9V1382m3.3-3.6V1383m3.3-5.3V1382.3m3.3-3.4V1383.5m3.3-3.8V1384.2m3.4-5V1383.8m3.3-5.6V1382.8m3.3-3.8V1383.5m3.3-5.1V1382.9m3.3-3.7V1383.8m3.3-5.4V1383m3.3-4.9V1382.6m3.4-3.9V1383.2m3.3-3.8V1384m3.3-5.5V1383m3.3-5.2V1382.4m3.3-4.3V1382.7m3.3-4.2V1383m3.3-4V1383.5m3.4-3.9V1384.2m3.3-4.3V1384.5m3.3-4.9V1384.2m3.3-5V1383.8m3.3-4.7V1383.6m3.3-5.1V1383.1m3.3-4.2V1383.5m3.4-5.1V1383m3.3-4.5V1383.1m3.3-4.4V1383.3m3.3-4.8V1383.1m3.3-4.9V1382.8m3.3-3.6V1383.8m3.3-4.9V1383.5m3.4-4.4V1383.7m3.3-5.4V1382.9m3.3-3.7V1383.8m3.3-5.1V1383.3m3.3-4.8V1383.1m3.3-4.8V1382.9m3.3-3.9V1383.6m3.4-5V1383.2m3.3-3.7V1384.1m3.3-5.3V1383.4m3.3-4.9V1383m3.3-3.6V1384m3.3-4.7V1383.9m3.3-2.8V1385.7" stroke="#fff" stroke-width="4.4"/>
<path class="k" d="M132.7 1379.3V1384.4m3.3-8.9V1382.1m3.3-8.2V1378.4m3.3-5V1378m3.3-3.7V1378.9m3.3-3.9V1379.6m3.3-5.5V1378.7m3.4-4.5V1378.8m3.3-4V1379.4m3.3-4.6V1379.4m3.3-4.7V1379.3m3.3-4.7V1379.2m3.3-5.6V1378.1m3.3-3.7V1379m3.4-3.6V1379.9m3.3-4.8V1379.7m3.3-5.2V1379.1m3.3-5V1378.7m3.3-4.2V1379.1m3.3-5.5V1378.2m3.3-5.4V1377.4m3.4-3.3V1378.7m3.3-4.7V1378.6m3.3-4V1379.2m3.3-5.5V1378.3m3.3-6V1376.9m3.3-4.7V1376.8m3.3-4.4V1377m3.4-4.3V1377.3m3.3-4V1377.8m3.3-4.7V1377.6m3.3-4.1V1378m3.3-5V1377.5m3.3-5.2V1376.8m3.3-3.3V1378.1m3.4-4.1V1378.5m3.3-5.9V1377.2m3.3-4.3V1377.5m3.3-4.8V1377.3m3.3-3.5V1378.3m3.3-5.8V1377.4m3.3-6.6V1375.4m3.4-6.4V1374.2m3.3-8.3V1371.8m3.3-7.5V1368.9m3.3-7.1V1367.3m3.3-9V1364.6m3.3-10.3V1361.1m3.3-10.6V1357.1m3.4-12.7V1353.3m3.3-17.2V1347.2m3.3-20.5V1338.9m3.3-24.3V1329.5m3.3-24.5V1317.4m3.3-23V1307.8m3.3-27.6V1297.2m3.4-27.7V1283m3.3-19.9V1272.3m3.3-18V1265.9m3.3-19V1257.1m3.3-11.9V1249.8m3.3-7.8V1250.5m3.3-15.8V1244.8m3.4-11.8V1237.5m3.3-5.9V1237.8m3.3-9.7V1237.7m3.3-2.8V1248.4m3.3-2.8V1258.1m3.3-2.8V1272m3.3-2.8V1286.2m3.4-2.8V1294.6m3.3-2.7V1301.5m3.3-2.8V1310.8m3.3-2.7V1321.8m3.3-2.8V1329.8m3.3-2.8V1335.1m3.3-2.8V1340.7m3.4-2.8V1346.6m3.3-2.8V1350.5m3.3-3.2V1351.9m3.3-3.1V1355.4m3.3-2.8V1360.1m3.3-2.8V1362.1m3.3-2.8V1365.1m3.4-2.8V1368.1m3.3-4.9V1367.8m3.3-3.2V1369.2m3.3-3.7V1370.1m3.3-3.2V1371.4m3.3-4.6V1371.3m3.3-3.5V1372.4m3.4-4.9V1372m3.3-2.8V1373.8m3.3-4V1374.4m3.3-4.3V1374.7m3.3-5.4V1373.9m3.3-4.6V1373.8m3.3-3.5V1374.9m3.4-3.2V1376.3m3.3-3.9V1377m3.3-4.8V1376.8m3.3-4.2V1377.1m3.3-4.1V1377.6m3.3-4.3V1377.9m3.3-5V1377.4m3.4-4.9V1377.1m3.3-3.5V1378.2m3.3-3.8V1378.9m3.3-4.7V1378.8m3.3-3.8V1379.6m3.3-5.4V1378.8m3.3-4.1V1379.3m3.4-4.6V1379.3m3.3-4.8V1379.1m3.3-4.1V1379.5m3.3-3.9V1380.2m3.3-3.8V1380.9m3.3-3.9V1381.5m3.3-4.5V1381.6m3.4-5.1V1381.1m3.3-5.4V1380.2m3.3-4.3V1380.5m3.3-3.6V1381.5m3.3-4.6V1381.4m3.3-5V1381m3.3-4.5V1381.1m3.4-3.9V1381.8m3.3-4.4V1382m3.3-5.1V1381.5m3.3-3.8V1382.3m3.3-4.6V1382.3m3.3-4.9V1382m3.4-4.8V1381.8m3.3-4.7V1381.7m3.3-4.2V1382.1m3.3-3.5V1383.2m3.3-4.5V1383.3m3.3-5.5V1382.4m3.3-4.1V1382.9m3.4-3.6V1383.9m3.3-4.3V1384.2m3.3-5V1383.8m3.3-4.4V1383.9m3.3-4.7V1383.7m3.3-5.2V1383.1m3.3-4.7V1383m3.4-4.2V1383.4m3.3-4.2V1383.8m3.3-4.4V1384m3.3-4.9V1383.7m3.3-4.9V1383.4m3.3-4.2V1383.8m3.3-4.8V1383.6m3.4-4.6V1383.6m3.3-4.4V1383.8m3.3-5.4V1383m3.3-5V1382.5m3.3-4.1V1382.9m3.3-3.4V1384m3.3-4.6V1383.9m3.4-4.8V1383.7m3.3-4.5V1383.8m3.3-5V1383.4m3.3-3.9V1384.1m3.3-4.7V1384m3.3-5.5V1383.1m3.3-4.8V1382.9m3.4-4.6V1382.9m3.3-3.5V1383.9m3.3-4.4V1384.1m3.3-5V1383.7m3.3-4.7V1383.5m3.3-4.8V1383.3m3.3-4.8V1383.1m3.4-3.9V1383.8m3.3-4.5V1383.9m3.3-5.1V1383.3m3.3-4.9V1383m3.3-3.8V1383.7m3.3-3.4V1384.9m3.3-3.4V1386.1" stroke="#f00" stroke-width="4.4"/>
<path class="k" d="M132.7 1379.3V1384.4m3.3-7.8V1382.1m3.3-7V1379.7m3.3-5.8V1378.5m3.3-5.6V1377.5m3.3-4.6V1377.5m3.3-3.8V1378.3m3.4-3.6V1379.3m3.3-4.4V1379.5m3.3-5.4V1378.6m3.3-4.6V1378.6m3.3-5.2V1378m3.3-3.4V1379.2m3.3-5.2V1378.5m3.4-3.9V1379.2m3.3-4.1V1379.7m3.3-5.5V1378.8m3.3-5.7V1377.7m3.3-4.5V1377.8m3.3-3.6V1378.7m3.3-4.1V1379.1m3.4-4.8V1378.9m3.3-4.6V1378.9m3.3-5.6V1377.9m3.3-5.6V1376.9m3.3-3.3V1378.2m3.3-5.8V1377m3.3-4V1377.5m3.4-5V1377.1m3.3-4.8V1376.9m3.3-4.8V1376.7m3.3-4.7V1376.6m3.3-3.1V1378.1m3.3-5.4V1377.3m3.3-4.9V1377m3.4-4V1377.6m3.3-5.2V1377m3.3-4.5V1377.1m3.3-4.8V1376.9m3.3-3.9V1377.6m3.3-6.2V1376.6m3.3-7.9V1374.2m3.4-7.1V1371.6m3.3-8.1V1370m3.3-10.5V1366.2m3.3-9.9V1362.3m3.3-13V1359m3.3-19.2V1352.1m3.3-20.3V1342.6m3.4-20.5V1334.6m3.3-21.9V1324.8m3.3-21.1V1315.5m3.3-28.5V1306.5m3.3-41.6V1289.8m3.3-37.9V1267.7m3.3-17.5V1254.7m3.4-6.2V1253.1m3.3-5.8V1254.1m3.3-2.8V1258.1m3.3-6.3V1260.7m3.3-2.8V1270.7m3.3-2.7V1276.6m3.3-5.2V1278.7m3.4-14.2V1274.2m3.3-17.3V1267.3m3.3-24.5V1259.7m3.3-26.5V1245.6m3.3-14.1V1236.1m3.3-6V1234.7m3.3-4.1V1235.2m3.4-3.2V1236.6m3.3-3.5V1242.5m3.3-2.8V1253.4m3.3-2.8V1270.7m3.3-2.8V1289.4m3.3-2.8V1303m3.3-2.8V1319.5m3.4-2.8V1332.6m3.3-2.8V1340.2m3.3-2.8V1343.3m3.3-3.2V1347.3m3.3-2.8V1353.1m3.3-2.7V1356.5m3.3-2.8V1359m3.4-2.8V1360.9m3.3-2.9V1362.6m3.3-4.1V1363.1m3.3-2.7V1365.5m3.3-2.9V1367.2m3.3-2.9V1368.9m3.3-2.8V1370.7m3.4-2.8V1372.6m3.3-3V1374.2m3.3-3.8V1375m3.3-5.4V1374.2m3.3-3.6V1375.2m3.3-3.8V1376m3.3-4.7V1375.9m3.4-3.8V1376.7m3.3-4.4V1376.9m3.3-4.6V1376.9m3.3-6V1375.5m3.3-3.7V1376.3m3.3-3.4V1377.5m3.3-4V1378.1m3.4-5.5V1377.2m3.3-4.3V1377.5m3.3-4V1378m3.3-4.7V1377.9m3.3-3.6V1378.8m3.3-3.8V1379.6m3.3-4.4V1379.8m3.4-4.6V1379.8m3.3-4.4V1379.9m3.3-4.3V1380.2m3.3-3.6V1381.1m3.3-3.9V1381.8m3.3-4.5V1381.8m3.3-4.4V1381.9m3.4-4.8V1381.7m3.3-4.5V1381.8m3.3-4.2V1382.1m3.3-4.5V1382.2m3.3-5V1381.8m3.3-3.9V1382.5m3.3-4.5V1382.6m3.4-5.3V1381.9m3.3-4.8V1381.7m3.3-4.3V1382m3.3-4.7V1381.9m3.3-3.9V1382.5m3.3-5.1V1382m3.4-3.6V1383m3.3-4.2V1383.4m3.3-5.2V1382.8m3.3-3.9V1383.5m3.3-4.9V1383.2m3.3-4.7V1383.1m3.3-4.2V1383.5m3.4-4.2V1383.9m3.3-4.7V1383.8m3.3-5.4V1383m3.3-5.1V1382.4m3.3-4.5V1382.5m3.3-4.4V1382.7m3.3-4.3V1383m3.4-4V1383.6m3.3-4.5V1383.7m3.3-4.2V1384.1m3.3-5V1383.7m3.3-5.4V1382.9m3.3-3.6V1383.9m3.3-4.7V1383.7m3.4-4.3V1384m3.3-4.9V1383.7m3.3-5.5V1382.8m3.3-3.7V1383.6m3.3-4.9V1383.3m3.3-4.2V1383.6m3.3-5V1383.1m3.4-5V1382.6m3.3-4.5V1382.7m3.3-3.9V1383.4m3.3-5V1383m3.3-4.5V1383.1m3.3-4.1V1383.6m3.3-4.3V1383.9m3.4-5V1383.5m3.3-5.1V1383m3.3-4.1V1383.5m3.3-5.1V1383m3.3-4.4V1383.2m3.3-4.4V1383.4m3.3-5.1V1382.9m3.4-4.7V1382.8m3.3-4.2V1383.2m3.3-4V1383.8m3.3-4.4V1384m3.3-4.7V1383.9m3.3-4V1384.5m3.3-3.2V1385.9" stroke="#0f0" stroke-width="4.4"/>
<path class="k" d="M132.7 1379.2V1384.4m3.3-8.6V1382m3.3-7.7V1378.9m3.3-5.3V1378.2m3.3-3.7V1379m3.3-5.7V1377.9m3.3-4.5V1378m3.4-3.2V1379.3m3.3-4.7V1379.2m3.3-4.6V1379.2m3.3-4V1379.8m3.3-5.5V1378.9m3.3-5.7V1377.7m3.3-3.4V1378.9m3.4-3.7V1379.8m3.3-5.2V1379.2m3.3-5.7V1378.1m3.3-5.2V1377.5m3.3-3.7V1378.4m3.3-4V1379m3.3-4.4V1379.2m3.4-5.8V1378m3.3-4.7V1377.9m3.3-4.5V1378m3.3-4.1V1378.5m3.3-5.2V1377.9m3.3-4.3V1378.2m3.3-4.9V1377.9m3.4-5.2V1377.2m3.3-4.9V1376.9m3.3-3.1V1378.3m3.3-4.2V1378.7m3.3-4.7V1378.5m3.3-5.8V1377.3m3.3-5.7V1376.2m3.4-4.1V1376.6m3.3-3.9V1377.2m3.3-5V1376.8m3.3-4.4V1377m3.3-3.7V1377.9m3.3-6.6V1376.4m3.3-6.6V1374.3m3.4-5.6V1373.9m3.3-10.6V1371.5m3.3-11.8V1366.1m3.3-11.5V1362.5m3.3-15.7V1357.3m3.3-15.9V1349.6m3.3-15.1V1344.2m3.4-19.3V1337.3m3.3-22.8V1327.7m3.3-23.9V1317.2m3.3-29.4V1306.6m3.3-36V1290.6m3.3-29.8V1273.4m3.3-17.4V1263.6m3.4-13.8V1258.8m3.3-13.6V1252.6m3.3-6.4V1251.2m3.3-2.8V1255.8m3.3-2.8V1259.1m3.3-7.5V1258.6m3.3-2.8V1262.8m3.4-8.7V1261.2m3.3-10V1256.9m3.3-10.2V1254m3.3-16V1249.5m3.3-15.9V1240.8m3.3-6.7V1239m3.3-2.8V1240.8m3.4-2.8V1242.8m3.3-2.8V1249.5m3.3-2.8V1261.6m3.3-2.8V1275.8m3.3-2.8V1288.6m3.3-2.7V1304.7m3.3-2.8V1320.8m3.4-2.8V1329.3m3.3-2.8V1337.4m3.3-2.8V1345.2m3.3-2.8V1349.1m3.3-2.8V1352.6m3.3-2.8V1356.9m3.3-2.8V1359.5m3.4-4.5V1359.6m3.3-3.3V1362.5m3.3-2.8V1365.7m3.3-3V1367.3m3.3-3.3V1368.6m3.3-3.4V1369.8m3.3-3.7V1370.7m3.4-5V1370.3m3.3-3.5V1371.7m3.3-2.8V1373.5m3.3-4.9V1373.2m3.3-3.3V1374.5m3.3-4.3V1374.8m3.3-5.4V1374m3.4-3.7V1374.9m3.3-3.5V1376m3.3-4.6V1376m3.3-4.3V1376.3m3.3-3.5V1377.4m3.3-4.7V1377.3m3.3-5.1V1376.8m3.4-4.1V1377.3m3.3-3.3V1378.6m3.3-3.9V1379.3m3.3-5.4V1378.5m3.3-3.5V1379.6m3.3-4.3V1379.8m3.3-5.5V1378.9m3.4-3.5V1379.9m3.3-4.8V1379.7m3.3-4.3V1380m3.3-3.8V1380.8m3.3-5V1380.4m3.3-5V1380m3.3-4.3V1380.3m3.4-4.5V1380.4m3.3-4.5V1380.5m3.3-4.9V1380.2m3.3-4.1V1380.7m3.3-4.6V1380.7m3.3-4.2V1381m3.3-3.8V1381.8m3.4-4.6V1381.8m3.3-4.8V1381.6m3.3-3.6V1382.6m3.3-5.1V1382.1m3.3-3.8V1382.9m3.3-5.3V1382.1m3.4-5V1381.7m3.3-3.8V1382.5m3.3-3.8V1383.2m3.3-4V1383.7m3.3-4.9V1383.4m3.3-4.9V1383m3.3-3.9V1383.6m3.4-4.5V1383.7m3.3-5.1V1383.1m3.3-4.8V1382.9m3.3-3.7V1383.7m3.3-4.8V1383.5m3.3-4.1V1384m3.3-5.3V1383.3m3.4-4.4V1383.5m3.3-4.4V1383.7m3.3-4.9V1383.4m3.3-4.9V1383.1m3.3-4.7V1383m3.3-4.4V1383.2m3.3-4V1383.8m3.4-4.7V1383.6m3.3-4.4V1383.8m3.3-4.5V1383.9m3.3-5.7V1382.8m3.3-4.5V1382.9m3.3-4V1383.4m3.3-4.1V1383.9m3.4-4.7V1383.8m3.3-5.3V1383m3.3-4.6V1383m3.3-3.6V1384m3.3-4.8V1383.8m3.3-4V1384.3m3.3-5.2V1383.7m3.4-5.2V1383.1m3.3-3.6V1384.1m3.3-5.3V1383.4m3.3-4.6V1383.3m3.3-3.9V1384m3.3-5.5V1383.1m3.3-4.6V1383.1m3.4-4.9V1382.7m3.3-3.8V1383.5m3.3-4.1V1383.9m3.3-5.5V1383m3.3-4V1383.6m3.3-3.5V1384.7m3.3-3.3V1386" stroke="#00f" stroke-width="4.4"/>
<path class="k" d="M132.7 1378.7V1384.4m3.3-9V1381.5m3.3-7.4V1378.7m3.3-5.1V1378.2m3.3-4.6V1378.2m3.3-4V1378.8m3.3-4V1379.4m3.4-4.9V1379m3.3-5.6V1378m3.3-4.9V1377.7m3.3-3.6V1378.6m3.3-3.5V1379.6m3.3-4.7V1379.4m3.3-4.2V1379.8m3.4-5.6V1378.8m3.3-5.3V1378.1m3.3-4.9V1377.8m3.3-3.8V1378.6m3.3-4.1V1379.1m3.3-6.2V1377.5m3.3-4V1378.1m3.4-4.2V1378.4m3.3-5V1377.9m3.3-5.3V1377.1m3.3-4.8V1376.9m3.3-3.5V1378m3.3-5.6V1377m3.3-4.7V1376.9m3.4-4V1377.4m3.3-4.9V1377.1m3.3-4.3V1377.3m3.3-4.8V1377.1m3.3-3.6V1378.1m3.3-5.7V1377m3.3-5V1376.5m3.4-3.3V1377.7m3.3-3.5V1378.8m3.3-5V1378.4m3.3-5.8V1377.2m3.3-5.5V1376.3m3.3-4.9V1376m3.3-3.7V1376.8m3.4-6V1375.8m3.3-8.4V1373.6m3.3-8.6V1370.2m3.3-7.5V1367.8m3.3-8.3V1365.4m3.3-11.2V1362.3m3.3-13.7V1357m3.4-14.4V1351.4m3.3-16V1345.3m3.3-17.3V1338.2m3.3-21.7V1330.8m3.3-25.5V1319.3m3.3-23.5V1308.1m3.3-24.9V1298.6m3.4-29.7V1286m3.3-29.3V1271.7m3.3-20.1V1259.5m3.3-11.1V1255.4m3.3-11.6V1251.1m3.3-12.9V1246.5m3.3-16.1V1241m3.4-13.2V1233.2m3.3-3.6V1234.3m3.3-6.6V1237.2m3.3-2.8V1247.3m3.3-2.7V1259m3.3-2.8V1271.5m3.3-2.8V1282.9m3.4-2.8V1293.4m3.3-2.8V1302.7m3.3-2.8V1313.4m3.3-2.8V1321.2m3.3-2.8V1328m3.3-2.8V1334m3.3-2.8V1341.7m3.4-2.7V1348m3.3-3.1V1349.5m3.3-3.2V1353.2m3.3-2.7V1357m3.3-3.2V1358.4m3.3-2.8V1362.7m3.3-2.7V1366.6m3.4-3.1V1368.1m3.3-4.9V1367.8m3.3-3.2V1369.1m3.3-4.2V1369.4m3.3-2.8V1371.1m3.3-4V1371.7m3.3-3.1V1373.1m3.4-5.1V1372.6m3.3-3.6V1373.5m3.3-5.5V1372.5m3.3-4.2V1372.9m3.3-3.4V1374.1m3.3-5.2V1373.5m3.3-3.5V1374.6m3.4-3.2V1375.9m3.3-5.2V1375.3m3.3-4.4V1375.5m3.3-3.5V1376.6m3.3-3.5V1377.6m3.3-5.5V1376.7m3.3-3.5V1377.7m3.4-4.3V1378m3.3-3.3V1379.3m3.3-4.9V1379m3.3-4.6V1379m3.3-4.4V1379.1m3.3-4.2V1379.5m3.3-3.7V1380.4m3.4-3.5V1381.5m3.3-5.2V1380.8m3.3-4.5V1380.9m3.3-4.5V1380.9m3.3-4.1V1381.4m3.3-4.1V1381.9m3.3-5.5V1381m3.4-3.8V1381.8m3.3-4.6V1381.7m3.3-4.3V1382m3.3-5.2V1381.4m3.3-4.6V1381.4m3.3-4.4V1381.5m3.3-3.9V1382.2m3.4-4.1V1382.7m3.3-4.2V1383.1m3.3-4.7V1383m3.3-4.3V1383.2m3.3-4.7V1383.1m3.3-5.3V1382.4m3.4-4.7V1382.3m3.3-3.6V1383.3m3.3-5.3V1382.5m3.3-4.1V1383m3.3-3.9V1383.6m3.3-4.6V1383.6m3.3-4.9V1383.2m3.4-4.8V1383m3.3-3.5V1384m3.3-5V1383.6m3.3-5.5V1382.7m3.3-4.4V1382.9m3.3-3.5V1383.9m3.3-4.9V1383.6m3.4-4.8V1383.4m3.3-4.7V1383.3m3.3-4.2V1383.7m3.3-4.5V1383.8m3.3-4.6V1383.8m3.3-5.1V1383.3m3.3-4.1V1383.8m3.4-4.7V1383.7m3.3-5.3V1383m3.3-5V1382.6m3.3-4.7V1382.4m3.3-4.2V1382.8m3.3-3.9V1383.5m3.3-4.9V1383.2m3.4-5V1382.8m3.3-4.4V1383m3.3-3.7V1383.9m3.3-4.3V1384.1m3.3-5.5V1383.1m3.3-3.6V1384.1m3.3-5V1383.7m3.4-5.3V1383m3.3-5.1V1382.5m3.3-4.6V1382.5m3.3-4.8V1382.3m3.3-4.1V1382.8m3.3-3.7V1383.7m3.3-4.9V1383.3m3.4-5.1V1382.8m3.3-3.9V1383.5m3.3-4.4V1383.7m3.3-4.5V1383.8m3.3-4.3V1384.1m3.3-3.7V1385m3.3-3.5V1386.1" stroke="#f0f" stroke-width="4.4"/>
<text class="m" transform="translate(125.3 1239.7) scale(1 1.09)" font-size="26.2" letter-spacing="3.5" text-anchor="end">400</text>
<text class="m" transform="translate(125.3 1319.5) scale(1 1.09)" font-size="26.2" letter-spacing="3.5" text-anchor="end">200</text>
<text class="m" transform="translate(125.3 1397.5) scale(1 1.09)" font-size="26.2" letter-spacing="3.5" text-anchor="end">0</text>
<text class="m" transform="translate(134.1 1433.6) scale(1 1.09)" font-size="26.2" letter-spacing="3.5" text-anchor="middle">0</text>
<text class="m" transform="translate(227.7 1433.6) scale(1 1.09)" font-size="26.2" letter-spacing="3.5" text-anchor="middle">40</text>
<text class="m" transform="translate(321.3 1433.6) scale(1 1.09)" font-size="26.2" letter-spacing="3.5" text-anchor="middle">80</text>
<text class="m" transform="translate(414.9 1433.6) scale(1 1.09)" font-size="26.2" letter-spacing="3.5" text-anchor="middle">120</text>
<text class="m" transform="translate(508.5 1433.6) scale(1 1.09)" font-size="26.2" letter-spacing="3.5" text-anchor="middle">160</text>
<text class="m" transform="translate(602.1 1433.6) scale(1 1.09)" font-size="26.2" letter-spacing="3.5" text-anchor="middle">200</text>
<text class="m" transform="translate(695.6 1433.6) scale(1 1.09)" font-size="26.2" letter-spacing="3.5" text-anchor="middle">240</text>
<text class="m" transform="translate(789.2 1433.6) scale(1 1.09)" font-size="26.2" letter-spacing="3.5" text-anchor="middle">280</text>
<text class="m l" transform="translate(295.8 1483.6) scale(1 0.921)" font-size="32" text-anchor="start" textLength="323.5" lengthAdjust="spacingAndGlyphs">Location (pixels)</text>
<text class="c" transform="translate(40.1 1304.2) rotate(-90) scale(1 .95)" font-size="31.5" text-anchor="middle" textLength="113.5" lengthAdjust="spacingAndGlyphs">counts</text>
</g>
<g id="panel-h">
<rect x="877.3" y="1186.2" width="839.4" height="322.6" fill="#000"/>
<path class="ax" d="M1018.7 1216.2H1669.9V1387H1018.7ZM1018.7 1381.5V1392.5M1065.2 1381.5V1392.5M1111.7 1381.5V1392.5M1158.2 1381.5V1392.5M1204.8 1381.5V1392.5M1251.3 1381.5V1392.5M1297.8 1381.5V1392.5M1344.3 1381.5V1392.5M1390.8 1381.5V1392.5M1437.3 1381.5V1392.5M1483.8 1381.5V1392.5M1530.4 1381.5V1392.5M1576.9 1381.5V1392.5M1623.4 1381.5V1392.5M1669.9 1381.5V1392.5M1013.2 1387H1024.2M1013.2 1358.5H1024.2M1013.2 1330.1H1024.2M1013.2 1301.6H1024.2M1013.2 1273.1H1024.2M1013.2 1244.7H1024.2M1013.2 1216.2H1024.2"/>
<path class="k" d="M1020.3 1371.3V1381.7m3.3-19.7V1374m3.3-13.7V1364.8m3.3-4.3V1366.4m3.3-2.8V1369.9m3.3-2.8V1371.7m3.3-3.2V1373.1m3.3-5.9V1371.8m3.3-3.5V1372.8m3.3-3.9V1373.4m3.3-4.9V1373m3.3-5V1372.5m3.3-4.3V1372.7m3.3-5V1372.3m3.3-5.5V1371.3m3.3-5.4V1370.4m3.3-5.8V1369.2m3.3-5.8V1368m3.3-3.6V1368.9m3.2-5.2V1368.3m3.3-5.3V1367.6m3.3-6.2V1366.4m3.3-7.1V1364.2m3.3-6.1V1362.7m3.3-4.3V1362.9m3.3-4.1V1364m3.3-7.7V1361.6m3.3-4V1362.1m3.3-6.2V1360.5m3.3-4.5V1360.5m3.3-4.8V1360.3m3.3-5.5V1359.4m3.3-6.2V1358.1m3.3-6.9V1356m3.3-4.7V1355.9m3.3-5.3V1355.2m3.3-5.7V1354.1m3.2-4.2V1354.5m3.3-6.1V1353.2m3.3-6.3V1351.5m3.3-5.5V1350.6m3.3-6.3V1349.4m3.3-6.9V1347.1m3.3-5.7V1345.9m3.3-5.7V1344.8m3.3-5.5V1343.9m3.3-5.8V1342.6m3.3-4.7V1344m3.3-9.4V1340.7m3.3-5.8V1339.5m3.3-6.1V1338.1m3.3-3.4V1340.1m3.3-8.1V1337.5m3.3-6.2V1335.8m3.3-5.7V1334.7m3.3-3.7V1335.5m3.2-4V1336m3.3-7.4V1334.5m3.3-8.3V1331.4m3.3-7V1329m3.3-6V1327.6m3.3-3.6V1328.5m3.3-7V1327.5m3.3-8.5V1324.3m3.3-5.7V1323.2m3.3-5V1322.7m3.3-5.5V1322.1m3.3-9.5V1319.9m3.3-9.8V1315.4m3.3-9V1312.8m3.3-9.9V1309.2m3.3-4.2V1310.9m3.3-3.2V1312.3m3.3-5.1V1311.7m3.2-8.4V1309.9m3.3-9.5V1306.1m3.3-6.4V1304.7m3.3-4.6V1306.9m3.3-10.9V1302.9m3.3-7.1V1302.5m3.3-2.7V1308.9m3.3-2.8V1311.8m3.3-2.8V1314.4m3.3-2.7V1319.6m3.3-2.8V1324.9m3.3-2.8V1329.6m3.3-2.8V1332.3m3.3-2.8V1335.7m3.3-2.8V1338.6m3.3-4.3V1338.8m3.3-2.9V1341.5m3.3-2.8V1343.6m3.3-3.1V1345.1m3.2-3.1V1347.8m3.3-2.8V1350.3m3.3-5.5V1349.4m3.3-4.2V1350.1m3.3-2.8V1352.3m3.3-4V1352.9m3.3-3.5V1354m3.3-4.9V1353.7m3.3-4.2V1355m3.3-2.8V1357.8m3.3-3.7V1358.7m3.3-3.5V1359.8m3.3-5V1359.3m3.3-3.1V1361.4m3.3-2.9V1363.1m3.3-3.6V1364.1m3.3-4.4V1364.2m3.3-4.2V1364.5m3.2-2.9V1366.2m3.3-4.3V1366.5m3.3-3.6V1367.5m3.3-3.1V1368.9m3.3-4.2V1369.3m3.3-3.6V1370.2m3.3-5.2V1369.6m3.3-5.1V1369m3.3-3.5V1370.1m3.3-4.3V1370.3m3.3-3.9V1371m3.3-3.9V1371.7m3.3-4.1V1372.2m3.3-3.6V1373.2m3.3-4.6V1373.1m3.3-3.1V1374.6m3.3-4.4V1374.8m3.3-6.1V1373.3m3.3-3.8V1374.1m3.2-3.4V1375.3m3.3-4.7V1375.2m3.3-4.8V1375m3.3-3.9V1375.6m3.3-3.3V1376.8m3.3-5.5V1375.8m3.3-3.1V1377.3m3.3-3.7V1378.1m3.3-4.6V1378.1m3.3-5.1V1377.6m3.3-5V1377.2m3.3-3.9V1377.9m3.3-3.7V1378.7m3.3-3.8V1379.5m3.3-4.2V1379.9m3.3-4.4V1380m3.3-4.5V1380m3.3-3.5V1381.1m3.2-5.2V1380.5m3.3-3.7V1381.4m3.3-4.6V1381.3m3.3-5V1380.8m3.3-4.6V1380.8m3.3-3.5V1381.9m3.3-3.9V1382.5m3.3-4.5V1382.6m3.3-4.7V1382.5m3.3-5V1382m3.3-5.1V1381.5m3.3-3.6V1382.5m3.3-3.6V1383.5m3.3-5.1V1382.9m3.3-4.4V1383m3.3-4.4V1383.2m3.3-4.7V1383m3.3-4.1V1383.4m3.3-3.4V1384.5m3.2-5.4V1383.7m3.3-5V1383.3m3.3-4V1383.8m3.3-4.9V1383.4m3.3-4.2V1383.8m3.3-3.6V1384.7m3.3-4.1V1385.1m3.3-4.9V1384.8m3.3-5.6V1383.8m3.3-3.6V1384.8m3.3-5V1384.4m3.3-4.3V1384.7m3.3-4.2V1385.3m3.3-2.7V1387.4" stroke="#fff" stroke-width="4.4"/>
<path class="k" d="M1020.3 1363.3V1367.9m3.3-5.6V1366.9m3.3-6.3V1365.1m3.3-3.6V1367m3.3-2.8V1370.8m3.3-2.8V1372.6m3.3-4.8V1372.4m3.3-3.2V1373.8m3.3-5.4V1372.9m3.3-5.5V1372m3.3-5.4V1371.2m3.3-6.3V1369.5m3.3-5.5V1368.6m3.3-4.4V1368.8m3.3-5.5V1367.8m3.3-3.8V1368.5m3.3-5.3V1367.7m3.3-6.1V1366.2m3.3-5.4V1365.4m3.2-3.6V1366.3m3.3-3.9V1366.9m3.3-6.4V1365.8m3.3-7.3V1363.2m3.3-4.9V1362.9m3.3-4V1363.5m3.3-5.4V1362.6m3.3-6.5V1361.1m3.3-6.7V1359m3.3-6.4V1357.4m3.3-6.7V1355.4m3.3-3.9V1356.1m3.3-5.5V1355.1m3.3-5.7V1353.9m3.3-5.3V1353.2m3.3-5.7V1352.1m3.3-7V1350.4m3.3-7V1347.9m3.2-3.9V1348.6m3.3-4.9V1349.3m3.3-8.4V1346.5m3.3-6V1345.1m3.3-5.2V1344.5m3.3-6.1V1343.1m3.3-6.2V1341.5m3.3-5.5V1340.6m3.3-6.1V1339m3.3-5.1V1338.5m3.3-6.6V1337.4m3.3-12.9V1334.6m3.3-18.4V1327.3m3.3-16.9V1318.9m3.3-12.5V1313.1m3.3-8.4V1309.6m3.3-3.2V1311.6m3.3-7.6V1309.2m3.3-7.6V1307.1m3.2-8.3V1304.4m3.3-7.1V1302.4m3.3-7.6V1300.1m3.3-6.2V1298.4m3.3-5.3V1297.9m3.3-10.3V1295.8m3.3-12V1290.4m3.3-7.6V1287.3m3.3-3.9V1287.9m3.3-8V1286.9m3.3-13V1282.7m3.3-17.8V1276.7m3.3-24.5V1267.7m3.3-21.5V1254.9m3.3-10.7V1248.9m3.3-6.8V1247m3.3-5V1251.9m3.3-2.8V1264.5m3.2-2.8V1276m3.3-2.7V1288.9m3.3-2.8V1300.3m3.3-2.7V1305.4m3.3-2.7V1309.1m3.3-2.7V1313.6m3.3-2.7V1317.6m3.3-2.8V1320.1m3.3-4.3V1320.3m3.3-4.1V1320.8m3.3-4.1V1321.3m3.3-3.3V1325.5m3.3-2.7V1332.7m3.3-2.8V1336.8m3.3-3.2V1338.2m3.3-4.8V1337.9m3.3-3.2V1341.5m3.3-2.8V1344.9m3.3-3.3V1346.1m3.2-4.7V1346m3.3-6V1345.4m3.3-2.8V1348m3.3-4.9V1347.7m3.3-2.9V1349.3m3.3-4.3V1349.5m3.3-4.9V1349.2m3.3-3V1351.6m3.3-3.1V1353.1m3.3-3.6V1354.1m3.3-3.1V1355.6m3.3-3.5V1356.6m3.3-4.6V1356.6m3.3-4.3V1357.1m3.3-2.8V1360.3m3.3-2.8V1362.3m3.3-3.1V1363.8m3.3-3.8V1364.6m3.2-3.7V1365.5m3.3-2.8V1367.4m3.3-3.7V1368.3m3.3-4.9V1368m3.3-4.8V1367.8m3.3-4.2V1368.2m3.3-4V1368.8m3.3-4V1369.3m3.3-2.8V1371m3.3-5.2V1370.4m3.3-4.4V1370.6m3.3-3.1V1372m3.3-3.5V1373.1m3.3-4.8V1372.9m3.3-4V1373.4m3.3-5.3V1372.7m3.3-5.2V1372m3.3-3.9V1372.7m3.3-3.2V1374m3.2-4.3V1374.2m3.3-4.8V1374m3.3-3.1V1375.5m3.3-4.1V1376m3.3-4.1V1376.5m3.3-5V1376.1m3.3-4.4V1376.3m3.3-3.4V1377.4m3.3-3.5V1378.4m3.3-4V1379m3.3-5V1378.6m3.3-4.9V1378.2m3.3-4.2V1378.5m3.3-3.7V1379.4m3.3-3.8V1380.1m3.3-5.1V1379.6m3.3-4.4V1379.8m3.3-4V1380.4m3.2-4V1380.9m3.3-4.9V1380.6m3.3-5.4V1379.7m3.3-4V1380.2m3.3-4.4V1380.4m3.3-4.3V1380.7m3.3-3.3V1381.9m3.3-4.8V1381.7m3.3-4.4V1381.9m3.3-3.6V1382.9m3.3-4.5V1382.9m3.3-5.3V1382.1m3.3-4.9V1381.7m3.3-4.2V1382m3.3-3.6V1382.9m3.3-3.5V1383.9m3.3-5.2V1383.3m3.3-4.5V1383.4m3.3-4.1V1383.9m3.2-5.1V1383.4m3.3-3.8V1384.2m3.3-4.1V1384.6m3.3-5V1384.2m3.3-5.2V1383.5m3.3-4V1384.1m3.3-3.6V1385m3.3-5.3V1384.2m3.3-5.1V1383.6m3.3-3.5V1384.7m3.3-5.1V1384.1m3.3-3.7V1385m3.3-3.6V1386m3.3-3.1V1387.5" stroke="#f00" stroke-width="4.4"/>
<path class="k" d="M1020.3 1371.8V1381.7m3.3-20.9V1374.5m3.3-17.6V1363.5m3.3-3.3V1367.9m3.3-2.8V1371m3.3-3V1372.6m3.3-4.4V1372.8m3.3-4.9V1372.4m3.3-3.2V1373.8m3.3-6.1V1372.3m3.3-5.9V1370.9m3.3-5.8V1369.6m3.3-4.2V1370m3.3-5V1369.5m3.3-5.6V1368.5m3.3-5.7V1367.3m3.3-5.6V1366.2m3.3-3.8V1366.9m3.3-5.3V1366.7m3.2-7.4V1364.4m3.3-4.7V1364.2m3.3-5.7V1363.1m3.3-5.1V1362.5m3.3-6.1V1360.9m3.3-4V1361.5m3.3-7.1V1359.7m3.3-6.6V1357.6m3.3-4.8V1357.3m3.3-4.5V1357.4m3.3-6.4V1355.6m3.3-4.6V1355.5m3.3-5.3V1354.8m3.3-5.6V1353.7m3.3-6.4V1352.2m3.3-6V1350.7m3.3-2.8V1352.4m3.3-6.1V1350.9m3.2-5.7V1349.8m3.3-4.5V1349.9m3.3-5.5V1349m3.3-7.2V1347.4m3.3-7.5V1344.6m3.3-4.1V1345.2m3.3-7.7V1343.3m3.3-8V1340.3m3.3-6.5V1338.4m3.3-6.5V1337.1m3.3-8.4V1334.7m3.3-11.2V1331.4m3.3-17.2V1326.2m3.3-24.7V1316.9m3.3-30.3V1304.2m3.3-28.9V1289.4m3.3-24.2V1278.1m3.3-20V1268m3.3-11.1V1262.6m3.2-2.8V1265.5m3.3-5.1V1265.2m3.3-6.9V1263.1m3.3-9.1V1261.1m3.3-11.2V1257.3m3.3-2.8V1261.9m3.3-4.3V1262.2m3.3-3.7V1264.5m3.3-2.7V1267.6m3.3-6.2V1266.1m3.3-2.8V1272.3m3.3-2.7V1276.7m3.3-12.7V1274.1m3.3-16.4V1266.8m3.3-10.7V1263.9m3.3-2.7V1273.5m3.3-2.8V1283.4m3.3-2.8V1293.9m3.2-2.7V1302.7m3.3-2.8V1310.8m3.3-2.8V1317.3m3.3-2.7V1322.1m3.3-2.8V1326m3.3-2.9V1327.6m3.3-3.6V1328.5m3.3-2.9V1331.3m3.3-3V1332.9m3.3-3.1V1335.2m3.3-2.8V1339.4m3.3-2.9V1341.1m3.3-4.1V1341.6m3.3-3.1V1344.8m3.3-2.8V1347.5m3.3-2.8V1349.6m3.3-2.8V1351.4m3.3-3.8V1352.2m3.3-2.8V1354m3.2-4.2V1354.4m3.3-4.3V1354.6m3.3-6V1353.1m3.3-4.2V1353.5m3.3-3.4V1354.6m3.3-3.3V1355.8m3.3-3.6V1356.8m3.3-4.3V1357m3.3-3.5V1358m3.3-3.2V1359.3m3.3-4V1359.9m3.3-6.1V1358.4m3.3-4.1V1360m3.3-2.8V1362.9m3.3-3.5V1364m3.3-4.6V1364m3.3-3.4V1365.2m3.3-3.7V1366m3.2-3.4V1367.7m3.3-2.8V1370m3.3-3.4V1371.1m3.3-4.6V1371m3.3-4.1V1371.5m3.3-5.8V1370.2m3.3-4.7V1370.1m3.3-3.7V1370.9m3.3-3.3V1372.2m3.3-5V1371.7m3.3-4.1V1372.2m3.3-4.1V1372.6m3.3-4.4V1372.8m3.3-4.8V1372.6m3.3-3.1V1374.1m3.3-5.5V1373.2m3.3-3.3V1374.5m3.3-4V1375.1m3.3-5V1374.7m3.2-4.4V1374.9m3.3-4.1V1375.4m3.3-3.8V1376.2m3.3-5V1375.7m3.3-3.5V1376.8m3.3-4.8V1376.6m3.3-3.6V1377.5m3.3-4.8V1377.2m3.3-4V1377.8m3.3-3.1V1379.2m3.3-3.9V1379.9m3.3-5V1379.5m3.3-5.3V1378.8m3.3-4.3V1379m3.3-3.2V1380.4m3.3-4V1381m3.3-5.3V1380.3m3.3-5.5V1379.4m3.2-3.8V1380.1m3.3-3.7V1380.9m3.3-5.3V1380.1m3.3-3.6V1381.1m3.3-4.7V1380.9m3.3-4.1V1381.4m3.3-4.3V1381.7m3.3-4V1382.2m3.3-3.9V1382.9m3.3-5.1V1382.4m3.3-3.9V1383m3.3-3.8V1383.7m3.3-5.1V1383.2m3.3-5.5V1382.2m3.3-4.7V1382.1m3.3-4.4V1382.3m3.3-4.2V1382.7m3.3-4V1383.3m3.3-3.8V1384m3.2-3.9V1384.6m3.3-5.6V1383.6m3.3-4.5V1383.6m3.3-4.1V1384.1m3.3-4.2V1384.5m3.3-4V1385m3.3-4.5V1385.1m3.3-5.4V1384.3m3.3-5V1383.8m3.3-4.6V1383.8m3.3-4.5V1383.8m3.3-4V1384.4m3.3-3.8V1385.3m3.3-2.7V1387.4" stroke="#0f0" stroke-width="4.4"/>
<path class="k" d="M1020.3 1370.9V1381.5m3.3-20.1V1373.7m3.3-14V1364.3m3.3-3.3V1367m3.3-2.7V1370.9m3.3-2.8V1372.7m3.3-4.4V1372.8m3.3-5.4V1372m3.3-4.6V1372m3.3-4.4V1372.2m3.3-6V1370.8m3.3-4.2V1371.1m3.3-4.9V1370.8m3.3-6.1V1369.3m3.3-5.3V1368.5m3.3-4.6V1368.5m3.3-5.2V1367.9m3.3-6.3V1366.2m3.3-3.8V1367m3.2-6.3V1365.5m3.3-6V1364m3.3-3.8V1364.7m3.3-5.3V1364m3.3-5.8V1362.8m3.3-6.6V1361.2m3.3-6.5V1359.2m3.3-3.6V1360.2m3.3-5.2V1359.6m3.3-5.7V1358.4m3.3-5.8V1357.2m3.3-6V1356.1m3.3-7V1354m3.3-6.4V1352.1m3.3-6.4V1350.5m3.3-5.7V1349.3m3.3-3.4V1350.4m3.3-6.1V1349.2m3.2-6.3V1347.5m3.3-3.1V1348.9m3.3-5.8V1348.3m3.3-7.9V1345.9m3.3-6.9V1343.6m3.3-5V1343.2m3.3-6.3V1342.9m3.3-9.6V1339.6m3.3-8.3V1336.1m3.3-8.4V1334m3.3-11.3V1330.4m3.3-16.8V1325.4m3.3-22.7V1316.3m3.3-24.6V1305.5m3.3-27V1294.5m3.3-28.1V1281.3m3.3-26.2V1269.1m3.3-20.2V1257.9m3.3-10.5V1252.7m3.2-7.7V1250.2m3.3-3.5V1251.3m3.3-6.8V1251m3.3-10V1247.3m3.3-6V1245.8m3.3-3.3V1247.1m3.3-2.9V1250.4m3.3-2.8V1252.2m3.3-5.2V1251.5m3.3-3.9V1252.1m3.3-2.9V1257.9m3.3-2.8V1268.7m3.3-2.7V1279.1m3.3-2.8V1288m3.3-2.8V1294.2m3.3-2.7V1300m3.3-2.7V1306.8m3.3-2.8V1312.7m3.2-2.8V1318.7m3.3-2.8V1324.8m3.3-2.7V1332.1m3.3-2.7V1336.4m3.3-3.9V1337.1m3.3-5.1V1336.6m3.3-3.7V1338.1m3.3-2.8V1340.2m3.3-5.8V1339m3.3-3.8V1340.8m3.3-2.7V1344.1m3.3-2.8V1345.9m3.3-3V1347.4m3.3-3.7V1348.3m3.3-3.7V1349.8m3.3-2.7V1353.5m3.3-2.9V1355.1m3.3-3.7V1355.9m3.3-4.9V1355.6m3.2-4.6V1355.5m3.3-3.6V1356.4m3.3-3.7V1357.2m3.3-4.8V1357m3.3-5.2V1356.4m3.3-3.9V1357m3.3-2.8V1359.5m3.3-3V1361.1m3.3-3.3V1362.3m3.3-3.7V1363.2m3.3-4.6V1363.2m3.3-6.2V1361.6m3.3-3.7V1363.3m3.3-2.8V1365.4m3.3-3.7V1366.3m3.3-4.6V1366.2m3.3-2.7V1368.3m3.3-2.9V1369.9m3.2-3.2V1371.3m3.3-5.5V1370.4m3.3-2.8V1372.1m3.3-5.7V1371m3.3-4.7V1370.8m3.3-3.6V1371.8m3.3-3.3V1373.1m3.3-5.3V1372.3m3.3-3.2V1373.7m3.3-4V1374.3m3.3-5.4V1373.5m3.3-5.1V1373m3.3-4.1V1373.5m3.3-4V1374.1m3.3-5.1V1373.5m3.3-4.7V1373.4m3.3-3.5V1374.4m3.3-3.6V1375.3m3.3-3.8V1376.1m3.2-5.7V1374.9m3.3-3.7V1375.8m3.3-4.2V1376.2m3.3-4.3V1376.5m3.3-4.5V1376.5m3.3-4.7V1376.3m3.3-3.6V1377.2m3.3-3.2V1378.6m3.3-4.8V1378.4m3.3-3.9V1379.1m3.3-5V1378.7m3.3-3.6V1379.7m3.3-4.9V1379.3m3.3-5V1378.8m3.3-4.4V1379m3.3-3.1V1380.4m3.3-3.7V1381.3m3.3-5V1380.9m3.2-4.3V1381.1m3.3-5.5V1380.2m3.3-4.4V1380.4m3.3-4.5V1380.4m3.3-3.6V1381.3m3.3-3.4V1382.5m3.3-4.7V1382.3m3.3-5V1381.9m3.3-4.4V1382m3.3-4.9V1381.6m3.3-3.8V1382.3m3.3-5.2V1381.7m3.3-4V1382.3m3.3-4.4V1382.5m3.3-4.1V1383m3.3-4.7V1382.9m3.3-4V1383.4m3.3-3.7V1384.3m3.3-5.3V1383.5m3.2-4.5V1383.6m3.3-3.7V1384.4m3.3-5.1V1383.8m3.3-4.8V1383.6m3.3-4.6V1383.6m3.3-4.9V1383.2m3.3-3.9V1383.9m3.3-3.5V1385m3.3-4.4V1385.2m3.3-5V1384.7m3.3-5.2V1384.1m3.3-5V1383.6m3.3-3.8V1385m3.3-2.8V1387.4" stroke="#00f" stroke-width="4.4"/>
<path class="k" d="M1020.3 1371.6V1381.3m3.3-20.3V1374.4m3.3-19V1363.8m3.3-10.4V1359.9m3.3-2.8V1368.3m3.3-2.8V1373.5m3.3-3.6V1374.4m3.3-5.8V1373.2m3.3-5.9V1371.8m3.3-5.4V1371m3.3-3V1372.5m3.3-6.2V1371m3.3-5.6V1370m3.3-4.3V1370.3m3.3-6.4V1368.5m3.3-5V1368.1m3.3-6V1366.6m3.3-5.5V1365.6m3.3-5.1V1365.1m3.2-4.8V1364.9m3.3-6.4V1363.1m3.3-5.1V1362.6m3.3-3.9V1363.3m3.3-6.3V1361.6m3.3-5.1V1361.1m3.3-5.1V1360.6m3.3-6.1V1359m3.3-5.7V1357.9m3.3-6.4V1356.1m3.3-5.4V1355.6m3.3-7.1V1353.5m3.3-5.7V1352.3m3.3-4.7V1352.2m3.3-5.8V1351m3.3-5.4V1350.2m3.3-4.2V1350.6m3.3-4.7V1350.4m3.2-6.6V1349.4m3.3-8.4V1346.6m3.3-6.6V1344.5m3.3-3.6V1345.4m3.3-3V1347m3.3-7.9V1345.8m3.3-9.7V1341.9m3.3-5.8V1340.7m3.3-4.5V1340.8m3.3-7V1339.4m3.3-9.8V1336.6m3.3-14.4V1332.3m3.3-18.5V1324.9m3.3-21V1316.6m3.3-26.2V1306.7m3.3-27.9V1293.2m3.3-24.3V1281.5m3.3-24.5V1271.7m3.3-21.5V1259.7m3.2-7.4V1257.4m3.3-3.6V1258.4m3.3-7V1257.4m3.3-9.1V1255.1m3.3-2.8V1259.1m3.3-6.3V1257.9m3.3-6.6V1255.9m3.3-3V1259.8m3.3-2.7V1269.5m3.3-2.8V1281m3.3-2.8V1290.9m3.3-2.7V1299.9m3.3-2.8V1309.4m3.3-2.7V1316.6m3.3-2.8V1318.8m3.3-2.7V1321.8m3.3-2.8V1325.1m3.3-3V1326.7m3.2-5V1327m3.3-2.7V1330.6m3.3-2.8V1334.4m3.3-2.8V1337.7m3.3-2.9V1339.3m3.3-3.2V1340.6m3.3-5.8V1339.4m3.3-5.4V1339.5m3.3-2.8V1342.2m3.3-6.3V1340.5m3.3-3.7V1341.4m3.3-3.1V1342.8m3.3-3.1V1346m3.3-2.8V1349.2m3.3-4.2V1349.6m3.3-3.2V1352.4m3.3-2.8V1354.8m3.3-5.4V1354m3.3-3V1355.6m3.2-3.9V1356.3m3.3-5.4V1355.8m3.3-2.8V1357.9m3.3-4.6V1357.8m3.3-5.8V1356.6m3.3-4.5V1356.6m3.3-3.8V1357.3m3.3-3.9V1357.9m3.3-3.8V1358.7m3.3-3.3V1360m3.3-5V1359.5m3.3-3.7V1360.4m3.3-2.9V1362.2m3.3-3.2V1363.6m3.3-3.2V1365.3m3.3-2.7V1367.3m3.3-3.8V1368.1m3.3-4.4V1368.3m3.2-3.5V1369.4m3.3-3.2V1370.7m3.3-3.1V1372.1m3.3-4.6V1372.1m3.3-4V1372.7m3.3-5.8V1371.4m3.3-3.6V1372.4m3.3-4.6V1372.3m3.3-4V1372.9m3.3-4.9V1372.5m3.3-2.8V1374.3m3.3-5.5V1373.3m3.3-3.4V1374.5m3.3-5.7V1373.4m3.3-3.8V1374.2m3.3-3.6V1375.2m3.3-5.9V1373.9m3.3-4.4V1374m3.3-3.6V1375m3.2-4V1375.6m3.3-4.5V1375.6m3.3-3.8V1376.4m3.3-3.7V1377.3m3.3-3.7V1378.2m3.3-5.2V1377.6m3.3-4.2V1377.9m3.3-3.6V1378.9m3.3-5.7V1377.8m3.3-2.9V1379.5m3.3-4.5V1379.6m3.3-4.3V1379.9m3.3-4.4V1380m3.3-4V1380.6m3.3-4.6V1380.6m3.3-4.2V1380.9m3.3-4.5V1381m3.3-4.5V1381.1m3.2-5.6V1380.1m3.3-3.1V1381.6m3.3-3.8V1382.4m3.3-4.9V1382.1m3.3-4.8V1381.8m3.3-4.3V1382m3.3-4.8V1381.8m3.3-3.9V1382.5m3.3-5.3V1381.7m3.3-5.1V1381.2m3.3-4.1V1381.6m3.3-4V1382.2m3.3-4V1382.8m3.3-3.7V1383.6m3.3-4.9V1383.3m3.3-4.7V1383.2m3.3-3.9V1383.9m3.3-3.9V1384.6m3.3-4.4V1384.8m3.2-4.8V1384.6m3.3-5.2V1384m3.3-4.9V1383.7m3.3-3.5V1384.8m3.3-4.8V1384.5m3.3-5.3V1383.8m3.3-3.7V1384.6m3.3-4.5V1384.7m3.3-5.4V1383.9m3.3-4.8V1383.6m3.3-4.1V1384.1m3.3-3.9V1384.8m3.3-3.9V1385.5m3.3-2.7V1387.4" stroke="#f0f" stroke-width="4.4"/>
<path class="k" d="M1020.8 1349.3V1374.2" stroke="#f00" stroke-width="4.4"/>
<text class="m" transform="translate(1013 1228.6) scale(1 1.107)" font-size="26.8" letter-spacing="3.5" text-anchor="end">1200</text>
<text class="m" transform="translate(1013 1285.5) scale(1 1.107)" font-size="26.8" letter-spacing="3.5" text-anchor="end">800</text>
<text class="m" transform="translate(1013 1343.5) scale(1 1.107)" font-size="26.8" letter-spacing="3.5" text-anchor="end">400</text>
<text class="m" transform="translate(1013 1400.7) scale(1 1.107)" font-size="26.8" letter-spacing="3.5" text-anchor="end">0</text>
<text class="m" transform="translate(1021.9 1438.1) scale(1 1.107)" font-size="26.8" letter-spacing="3.5" text-anchor="middle">0</text>
<text class="m" transform="translate(1114.9 1438.1) scale(1 1.107)" font-size="26.8" letter-spacing="3.5" text-anchor="middle">40</text>
<text class="m" transform="translate(1207.9 1438.1) scale(1 1.107)" font-size="26.8" letter-spacing="3.5" text-anchor="middle">80</text>
<text class="m" transform="translate(1301 1438.1) scale(1 1.107)" font-size="26.8" letter-spacing="3.5" text-anchor="middle">120</text>
<text class="m" transform="translate(1394 1438.1) scale(1 1.107)" font-size="26.8" letter-spacing="3.5" text-anchor="middle">160</text>
<text class="m" transform="translate(1487 1438.1) scale(1 1.107)" font-size="26.8" letter-spacing="3.5" text-anchor="middle">200</text>
<text class="m" transform="translate(1580 1438.1) scale(1 1.107)" font-size="26.8" letter-spacing="3.5" text-anchor="middle">240</text>
<text class="m" transform="translate(1673.1 1438.1) scale(1 1.107)" font-size="26.8" letter-spacing="3.5" text-anchor="middle">280</text>
<text class="m l" transform="translate(1177.7 1493.9) scale(1 0.935)" font-size="32.7" text-anchor="start" textLength="330.7" lengthAdjust="spacingAndGlyphs">Location (pixels)</text>
<text class="c" transform="translate(906.6 1298.8) rotate(-90) scale(1 .95)" font-size="33.6" text-anchor="middle" textLength="120.9" lengthAdjust="spacingAndGlyphs">counts</text>
</g>
</g>
<text class="cap" x="418.7" y="361.3">(a)</text>
<text class="cap" x="1294.5" y="361.3">(b)</text>
<text class="cap" x="423.8" y="747.3">(c)</text>
<text class="cap" x="1294.5" y="747.3">(d)</text>
<text class="cap" x="418.7" y="1156.7">(e)</text>
<text class="cap" x="1294.5" y="1156.7">(f)</text>
<text class="cap" x="419.1" y="1564">(g)</text>
<text class="cap" x="1294.5" y="1564">(h)</text>
</svg>
</body>
</html>
